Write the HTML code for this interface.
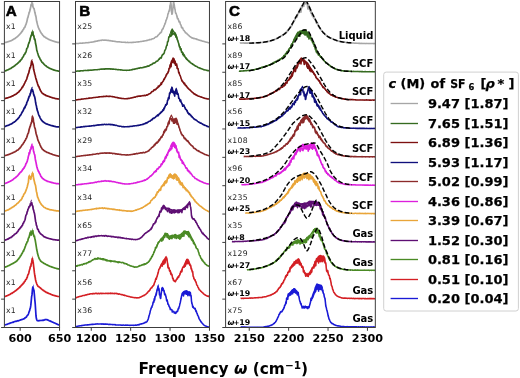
<!DOCTYPE html>
<html><head><meta charset="utf-8"><style>html,body{margin:0;padding:0;background:#fff;width:520px;height:378px;overflow:hidden}svg{display:block}</style></head>
<body><svg width="520" height="378" viewBox="0 0 520 378">
<rect width="520" height="378" fill="#fff"/>
<defs>
<clipPath id="clipA"><rect x="4.40" y="1.50" width="55.16" height="326.00"/></clipPath>
<clipPath id="clipB"><rect x="75.50" y="1.50" width="133.96" height="326.00"/></clipPath>
<clipPath id="clipC"><rect x="225.60" y="1.50" width="149.72" height="326.00"/></clipPath>
</defs>
<g clip-path="url(#clipA)" fill="none" stroke-width="1.7" stroke-linejoin="round" stroke-linecap="butt">
<path fill="#a6a6a6" stroke="none" d="M4.4 42.6l 1-.2 1-.2 1-.3 1-.3 1-.3 1-.4 1-.4 1-.6 1-.6 1-.6 1-.7 1-.8 1-.8 1-.9 1-1.1 1-1.2 1-1.3 1-1.3 1-1.4 1-1.8 1-2.1 1-2.6 1-4 1-4.6 1-4.3 1-4 1-4.7 1-.7 1 4.9 1 3.6 1 4.2 1 5.7 1 4.9 1 3.1 1 2.6 1 2.1 1 1.7 1 1.4 1 1.1 1 .9 1 .7 1 .7 1 .6 1 .6 1 .4 1 .4 1 .4 1 .4 1 .3 1 .4 1 .3 1 .2 1 .3 1 .1 1 .2 .2 0 0 0-.2 0-1-.1-1-.2-1-.2-1-.3-1-.3-1-.3-1-.3-1-.4-1-.4-1-.4-1-.5-1-.5-1-.5-1-.7-1-.8-1-.9-1-1-1-1.4-1-1.4-1-1.9-1-2.5-1-3.2-1-4.9-1-5.4-1-4.2-1-3.7-1-4.2-1 1.5-1 4.6-1 3.5-1 3.6-1 4.2-1 3.8-1 2.7-1 1.9-1 1.7-1 1.6-1 1.4-1 1.2-1 1.1-1 .9-1 .9-1 .8-1 .7-1 .7-1 .7-1 .5-1 .5-1 .5-1 .4-1 .3-1 .3-1 .2-1 .3-1 .1z"/>
<path stroke="#a6a6a6" d="M4.4 42.6l .4-.1 .4 0 .4-.1 .4-.1 .4 0 .4-.2 .4-.1 .4-.1 .4-.1 .4-.2 .4-.1 .4-.1 .4-.1 .4-.2 .4-.2 .4 0 .4-.3 .4-.1 .4-.2 .4-.2 .4-.3 .4-.2 .4-.3 .4-.3 .4-.2 .4-.1 .4-.4 .4-.4 .4-.3 .4-.1 .4-.5 .4-.2 .4-.3 .4-.6 .4-.2 .4-.4 .4-.6 .4-.2 .4-.5 .4-.5 .4-.5 .4-.2 .4-.8 .4-.8 .4 .1 .4-1.2 .4-.4 .4-.4 .4-1.3 .4-.4 .4-.2 .4-1.2 .4-1.1 .4-.7 .4-1.4 .4-1.1 .4-1.9 .4-2 .4-.6 .4-2.1 .4-1.1 .4-1.8 .4-.5 .4-1.7 .4-1.5 .4-2.2 .4-1.9 .4 .3 .4-1.4 .4-.4 .4 3.5 .4 .6 .4 1 .4 .3 .4 1.7 .4 2.1 .4 1.5 .4 1.8 .4 1.1 .4 3.1 .4 2 .4 1.6 .4 1.6 .4 1.3 .4 1.4 .4 .7 .4 1.1 .4 .5 .4 .9 .4 .9 .4 .5 .4 .8 .4 .4 .4 .7 .4 .4 .4 .7 .4 .2 .4 .7 .4 .4 .4 .1 .4 .4 .4 .2 .4 .1 .4 .5 .4 .3 .4 .1 .4 .2 .4 .3 .4 .2 .4 .1 .4 .3 .4 .3 .4 0 .4 .2 .4 .2 .4 .1 .4 .2 .4 .1 .4 .2 .4 .1 .4 .2 .4 .1 .4 .2 .4 .1 .4 .1 .4 .2 .4 0 .4 .2 .4 0 .4 .2 .4 0 .4 .1 .4 .2 .4-.1 .4 .1 .4 .1 .4 .1 .4 0"/>
<path fill="#356b20" stroke="none" d="M4.4 71.2l 1-.4 1-.4 1-.4 1-.5 1-.5 1-.5 1-.6 1-.6 1-.8 1-.7 1-.8 1-.8 1-.9 1-.9 1-1 1-1.1 1-1.2 1-1.5 1-1.7 1-1.9 1-2.1 1-2.4 1-2.8 1-3.1 1-3.5 1-3.8 1-3.8 1-3.3 1 2.9 1 4 1 4.7 1 5.8 1 5.2 1 3.1 1 2.5 1 1.9 1 1.7 1 1.4 1 1.1 1 1 1 .9 1 .8 1 .7 1 .7 1 .5 1 .5 1 .4 1 .4 1 .4 1 .3 1 .3 1 .3 1 .2 1 .2 1 0 .2 .1 0 0-.2 0-1-.1-1-.2-1-.2-1-.2-1-.3-1-.4-1-.3-1-.4-1-.4-1-.5-1-.5-1-.6-1-.7-1-.8-1-.8-1-1-1-1.2-1-1.2-1-1.6-1-2-1-2.5-1-3.1-1-4.4-1-5.3-1-4.5-1-4.2-1-3.5-1 3.9-1 4-1 3.4-1 2.9-1 2.8-1 2.7-1 2.3-1 2.1-1 1.9-1 1.6-1 1.5-1 1.3-1 1.1-1 .9-1 .9-1 .8-1 .8-1 .8-1 .7-1 .7-1 .6-1 .6-1 .5-1 .5-1 .5-1 .4-1 .3-1 .4z"/>
<path stroke="#356b20" d="M4.4 71.1l .4-.1 .4-.1 .4-.2 .4 0 .4-.3 .4-.1 .4-.2 .4-.2 .4-.2 .4-.1 .4-.1 .4-.4 .4-.1 .4-.2 .4-.3 .4-.1 .4-.2 .4-.4 .4-.2 .4-.3 .4-.3 .4-.1 .4-.3 .4-.4 .4-.2 .4-.2 .4-.6 .4-.2 .4-.4 .4-.2 .4-.3 .4-.3 .4-.4 .4-.5 .4-.2 .4-.5 .4-.4 .4-.7 .4 .2 .4-.9 .4-.3 .4-.5 .4-.2 .4-.8 .4-.9 .4-.4 .4-.7 .4-.6 .4-1.2 .4-.4 .4-.2 .4-1.1 .4-.5 .4-.8 .4-1.5 .4-1.8 .4-.5 .4-.4 .4-1.3 .4-2.2 .4-.6 .4-1.1 .4-1.2 .4-1.3 .4-1.9 .4-1.2 .4-1.1 .4-.5 .4-2.7 .4 .2 .4-.9 .4 3.3 .4 .5 .4 1.3 .4 2.4 .4-.5 .4 1.9 .4 3.1 .4 1.4 .4 2.3 .4 3 .4 .9 .4 1.5 .4 1.2 .4 1.5 .4 .8 .4 .9 .4 .5 .4 1.1 .4 .8 .4 .3 .4 1 .4 .6 .4 .8 .4-.1 .4 .6 .4 .4 .4 .5 .4 .5 .4 .3 .4 .4 .4 .4 .4 .3 .4 .1 .4 .5 .4 .3 .4 .4 .4 .2 .4 .1 .4 .3 .4 .3 .4 .2 .4 .3 .4 .1 .4 .1 .4 .2 .4 .2 .4 .1 .4 .2 .4 .2 .4 .1 .4 .2 .4 0 .4 .3 .4 0 .4 .1 .4 .2 .4 .1 .4 .1 .4 .1 .4 .1 .4 .1 .4 0 .4 .1 .4 .1 .4 .1 .4-.1 .4 .1"/>
<path fill="#7d1111" stroke="none" d="M4.4 98.6l 1-.2 1-.2 1-.3 1-.4 1-.3 1-.4 1-.4 1-.5 1-.4 1-.6 1-.6 1-.7 1-.7 1-.9 1-1 1-1.3 1-1.4 1-1.5 1-1.6 1-1.8 1-2.1 1-2.4 1-3 1-3.4 1-4 1-3.2 1-5.6 1-.6 1 6.4 1 5.4 1 4.5 1 4 1 3.4 1 2.7 1 2.4 1 2.2 1 1.8 1 1.1 1 .8 1 .7 1 .5 1 .5 1 .4 1 .4 1 .3 1 .4 1 .4 1 .3 1 .3 1 .2 1 .3 1 .2 1 .1 1 .1 1 .1 .2 0 0 0-.2 0-1 0-1-.1-1-.2-1-.1-1-.3-1-.2-1-.3-1-.4-1-.3-1-.3-1-.4-1-.3-1-.4-1-.5-1-.6-1-.6-1-.8-1-1-1-1.7-1-2.3-1-2.3-1-2.7-1-3.2-1-3.9-1-4.6-1-5.1-1-6.3-1 .9-1 5.3-1 3.1-1 4.1-1 3.2-1 2.8-1 2.3-1 2-1 1.8-1 1.6-1 1.5-1 1.4-1 1.2-1 1-1 .8-1 .7-1 .7-1 .6-1 .5-1 .5-1 .4-1 .4-1 .4-1 .3-1 .3-1 .3-1 .2-1 .2z"/>
<path stroke="#7d1111" d="M4.4 98.7l .4-.1 .4-.2 .4 0 .4-.1 .4-.2 .4 .1 .4-.2 .4-.2 .4-.1 .4-.1 .4-.2 .4-.1 .4-.1 .4-.1 .4-.3 .4-.1 .4 0 .4-.4 .4-.1 .4-.3 .4 0 .4-.2 .4-.2 .4-.4 .4-.1 .4-.4 .4 0 .4-.3 .4-.1 .4-.4 .4-.5 .4 0 .4-.6 .4-.2 .4-.2 .4-.4 .4-.5 .4-.5 .4-.4 .4-.4 .4-.7 .4-.4 .4-.5 .4-.8 .4-.8 .4 0 .4-1.1 .4-.4 .4-.6 .4-1.3 .4-.4 .4-1.4 .4-.1 .4-1.3 .4-.7 .4-.8 .4-1.7 .4-.9 .4-1.6 .4-.9 .4-.9 .4-2 .4-1.5 .4-1.7 .4 .1 .4-2 .4-.9 .4-3.8 .4 .5 .4 1.7 .4 .9 .4 1.3 .4 3.9 .4 1.6 .4 1.5 .4 1.9 .4 1 .4 2.1 .4 1.5 .4 .9 .4 1.8 .4 .8 .4 1.6 .4 1.1 .4 1.2 .4 0 .4 1.4 .4 .8 .4 1 .4 .8 .4 .8 .4 .4 .4 1 .4 .4 .4 .3 .4 .4 .4 .1 .4 .2 .4 .5 .4 .3 .4 .1 .4 .1 .4 .5 .4 0 .4 .3 .4 0 .4 .3 .4 .1 .4 .2 .4 .1 .4 0 .4 .2 .4 .2 .4 .2 .4 .2 .4 0 .4 .1 .4 .2 .4 .1 .4 .2 .4 0 .4 .2 .4 0 .4 .1 .4 .2 .4 .1 .4 .1 .4 .1 .4 .1 .4 0 .4 .1 .4 0 .4 .1 .4 0 .4 .1 .4 0 .4 .1 .4-.1"/>
<path fill="#10107c" stroke="none" d="M4.4 126.6l 1-.3 1-.4 1-.3 1-.5 1-.4 1-.5 1-.5 1-.6 1-.6 1-.7 1-.7 1-.9 1-1 1-1.3 1-1.3 1-1.4 1-1.9 1-2 1-2.1 1-1.9 1-2 1-2.3 1-2.5 1-2.8 1-3.2 1-3.1 1-3.8 1-1.1 1 4.4 1 4.4 1 5 1 5.5 1 4.2 1 3.2 1 2.6 1 2.3 1 1.8 1 1.1 1 .9 1 .7 1 .6 1 .6 1 .4 1 .4 1 .3 1 .3 1 .3 1 .3 1 .3 1 .2 1 .2 1 .2 1 .1 1 .1 1 .1 .2 0 0 0-.2 0-1 0-1-.1-1-.2-1-.1-1-.2-1-.2-1-.3-1-.3-1-.3-1-.3-1-.4-1-.3-1-.4-1-.5-1-.6-1-.8-1-.8-1-1.1-1-1.8-1-2.2-1-2.5-1-3.1-1-4-1-5.2-1-5.2-1-3.9-1-4.1-1 .8-1 3.6-1 2.9-1 2.9-1 3-1 2.6-1 2.2-1 2.1-1 2.2-1 1.9-1 1.8-1 1.4-1 1.5-1 1.4-1 1.1-1 .9-1 .8-1 .8-1 .7-1 .6-1 .6-1 .5-1 .4-1 .5-1 .4-1 .3-1 .4-1 .2z"/>
<path stroke="#10107c" d="M4.4 126.6l .4-.1 .4-.2 .4 0 .4-.2 .4-.2 .4-.1 .4-.2 .4-.1 .4-.1 .4-.2 .4-.1 .4-.1 .4-.4 .4-.1 .4-.2 .4-.1 .4-.3 .4-.2 .4-.2 .4-.1 .4-.4 .4-.4 .4-.2 .4-.1 .4-.4 .4-.4 .4 0 .4-.5 .4-.4 .4-.4 .4-.5 .4-.3 .4-.3 .4-.5 .4-.6 .4-.2 .4-.6 .4-.8 .4-.8 .4-.1 .4-.7 .4-.7 .4-1 .4-.4 .4-1.2 .4 0 .4-1 .4-.8 .4-1.1 .4-.9 .4 .2 .4-1 .4-1.4 .4-.4 .4-.4 .4-2.2 .4-.6 .4-1.1 .4-.5 .4-2 .4-.3 .4-2 .4 .3 .4-1.1 .4-1.8 .4-.5 .4-2.3 .4-1.2 .4 .2 .4-.1 .4 1.9 .4 .4 .4 2.5 .4 1.3 .4 .5 .4 1.4 .4 2 .4 3 .4 2 .4 1.4 .4 2.4 .4 1.8 .4 1 .4 1.1 .4 1.5 .4 1.3 .4 .9 .4 .4 .4 1.3 .4 .7 .4 .7 .4 .6 .4 .7 .4 .3 .4 .6 .4 .3 .4 .4 .4 .1 .4 .4 .4 .4 .4 .2 .4 .2 .4 .2 .4 .4 .4 .1 .4 .2 .4-.1 .4 .3 .4 .2 .4 .1 .4 0 .4 .3 .4 .1 .4 .1 .4 .1 .4 .2 .4 .2 .4-.1 .4 .1 .4 .2 .4 .1 .4 .3 .4-.1 .4 .2 .4 0 .4 .1 .4 .1 .4 .2 .4 0 .4 .1 .4 0 .4 .1 .4 0 .4 .1 .4-.1 .4 .1 .4-.1 .4 0"/>
<path fill="#8c2a2a" stroke="none" d="M4.4 155.6l 1-.2 1-.2 1-.3 1-.4 1-.3 1-.4 1-.4 1-.4 1-.5 1-.5 1-.6 1-.6 1-.7 1-.8 1-1 1-1.1 1-1.3 1-1.4 1-1.5 1-1.7 1-2 1-2.3 1-2.6 1-3.1 1-3.6 1-3.9 1-3.3 1-6.1 1 3.6 1 5.9 1 5 1 4.5 1 3.9 1 3.2 1 2.6 1 2.3 1 2.1 1 1.6 1 .9 1 .8 1 .6 1 .5 1 .5 1 .4 1 .4 1 .4 1 .4 1 .4 1 .3 1 .4 1 .3 1 .2 1 .3 1 .2 1 .1 .2 0 0 .1-.2-.1-1-.1-1-.2-1-.2-1-.3-1-.3-1-.3-1-.4-1-.3-1-.4-1-.4-1-.4-1-.4-1-.4-1-.6-1-.5-1-.8-1-.8-1-1.4-1-2.1-1-2.3-1-2.5-1-2.8-1-3.4-1-4.2-1-4.7-1-5.9-1-3.9-1 5.1-1 3.5-1 3.8-1 3.5-1 3.1-1 2.5-1 2.1-1 1.8-1 1.7-1 1.5-1 1.4-1 1.3-1 1.2-1 .8-1 .7-1 .7-1 .6-1 .6-1 .5-1 .4-1 .5-1 .3-1 .4-1 .4-1 .3-1 .3-1 .2-1 .3z"/>
<path stroke="#8c2a2a" d="M4.4 155.7l .4-.1 .4-.1 .4 0 .4-.2 .4-.1 .4-.1 .4-.2 .4-.1 .4 0 .4-.2 .4-.1 .4-.1 .4-.3 .4-.1 .4-.1 .4-.3 .4-.1 .4-.2 .4-.1 .4-.2 .4-.2 .4-.3 .4-.1 .4-.2 .4-.2 .4 0 .4-.4 .4-.2 .4-.3 .4-.1 .4-.6 .4-.1 .4-.1 .4-.2 .4-.5 .4-.4 .4-.3 .4-.5 .4-.3 .4-.7 .4-.3 .4-.6 .4-.8 .4-.7 .4 0 .4-.7 .4-.5 .4-1 .4-.2 .4-.8 .4-.9 .4-.4 .4-.8 .4-1 .4-.3 .4-1 .4-1.4 .4-1.4 .4-1 .4-.4 .4-1.9 .4-1.9 .4-1.4 .4-1.2 .4-.7 .4-2 .4-.4 .4-1.3 .4-2.5 .4-3.4 .4 1.1 .4 1.2 .4 3.6 .4 1.1 .4 3 .4 1.5 .4 .7 .4 2.3 .4 2.3 .4 1.4 .4 1.3 .4 1.1 .4 1.8 .4 1.6 .4 .6 .4 1 .4 1 .4 .6 .4 1.2 .4 .8 .4 1.2 .4 .5 .4 .6 .4 .8 .4 .5 .4 .4 .4 .2 .4 .6 .4 .2 .4 .2 .4 .2 .4 .4 .4 .2 .4 .2 .4 .2 .4 .2 .4 .3 .4 0 .4 .1 .4 .3 .4 .1 .4 .1 .4 .3 .4 .1 .4 .2 .4 .1 .4 .1 .4 .1 .4 .3 .4 .1 .4 .2 .4 .1 .4 .1 .4 .2 .4 0 .4 .2 .4 .1 .4 .1 .4 .2 .4 0 .4 .1 .4 .1 .4 .1 .4 .1 .4 .1 .4 0 .4 .1 .4 0"/>
<path fill="#dd1fdd" stroke="none" d="M4.4 183.6l 1-.3 1-.3 1-.4 1-.5 1-.4 1-.5 1-.6 1-.7 1-.7 1-.8 1-.8 1-.9 1-1.1 1-1.3 1-1.2 1-1.2 1-1.1 1-1.2 1-1.3 1-1.6 1-1.7 1-2.5 1-3 1-4.3 1-4.4 1-3.4 1-3.6 1-.6 1 4.6 1 4.5 1 5.9 1 5.9 1 3.7 1 2.8 1 2.4 1 2.2 1 1.7 1 1.1 1 .9 1 .7 1 .6 1 .5 1 .4 1 .4 1 .3 1 .3 1 .3 1 .3 1 .3 1 .2 1 .2 1 .1 1 .2 1 0 1 .1 .2 0 0 0-.2 0-1 0-1-.1-1-.1-1-.2-1-.2-1-.2-1-.2-1-.3-1-.3-1-.3-1-.3-1-.4-1-.4-1-.5-1-.6-1-.7-1-.8-1-1.1-1-1.7-1-2.2-1-2.2-1-2.6-1-3.5-1-5.9-1-5.9-1-3.9-1-4-1 1.1-1 3.5-1 2.9-1 3.8-1 4-1 2.8-1 2.1-1 1.8-1 1.5-1 1.3-1 1.2-1 1.3-1 1.2-1 1.2-1 1-1 1-1 .8-1 .9-1 .8-1 .7-1 .6-1 .5-1 .5-1 .5-1 .4-1 .4-1 .3-1 .3z"/>
<path stroke="#dd1fdd" d="M4.4 183.6l .4 0 .4-.2 .4-.2 .4-.1 .4-.1 .4-.2 .4-.1 .4-.2 .4-.2 .4-.2 .4-.1 .4-.2 .4-.2 .4-.2 .4-.1 .4-.4 .4-.1 .4-.3 .4-.2 .4-.4 .4-.2 .4-.2 .4-.6 .4-.1 .4-.5 .4-.2 .4-.2 .4-.3 .4-.5 .4-.3 .4-.4 .4-.4 .4-.1 .4-.8 .4-.1 .4-.9 .4-.2 .4-.5 .4-.6 .4-.6 .4 0 .4-.4 .4-.6 .4-.3 .4-.7 .4-1.2 .4 .2 .4-1 .4 0 .4-1.1 .4-.5 .4-.7 .4-1 .4-1.4 .4-.3 .4-1 .4-.6 .4-2 .4-1.1 .4-2.3 .4-1.2 .4-2.5 .4 1.1 .4-2.1 .4-1.9 .4-.2 .4-.9 .4-1.8 .4 .2 .4-.6 .4 .2 .4 2.1 .4 3 .4 1.2 .4 1.3 .4 1 .4 3.3 .4 2.4 .4 1.6 .4 2.1 .4 2 .4 1.6 .4 1.2 .4 .8 .4 1.3 .4 .2 .4 1.3 .4 .6 .4 .7 .4 .9 .4 1.2 .4 .3 .4 .5 .4 .7 .4 .4 .4 .3 .4 .5 .4-.1 .4 .7 .4 .2 .4 .1 .4 .3 .4 .2 .4 .2 .4 .2 .4 .1 .4 .4 .4 0 .4 .2 .4 0 .4 .1 .4 .3 .4 .1 .4 0 .4 .1 .4 .2 .4 0 .4 .1 .4 .3 .4 0 .4 0 .4 .2 .4 .1 .4 .1 .4 .1 .4 .1 .4 .1 .4 0 .4 .1 .4 .1 .4 .1 .4 0 .4 0 .4 0 .4 0 .4 .1 .4 0 .4 0"/>
<path fill="#e9a539" stroke="none" d="M4.4 211l 1-.2 1-.4 1-.3 1-.5 1-.5 1-.6 1-.6 1-.6 1-.8 1-.8 1-.8 1-.8 1-.9 1-.9 1-1.1 1-1.2 1-1.3 1-1.7 1-2 1-1.9 1-1.9 1-2.1 1-3.3 1-6.3 1-5.8 1 2.5 1-1.3 1-4.1 1 2.9 1 5.4 1 4.8 1 6 1 5.3 1 3.2 1 2.4 1 1.9 1 1.6 1 1.2 1 1 1 .9 1 .6 1 .5 1 .3 1 .4 1 .2 1 .3 1 .2 1 .2 1 .2 1 .1 1 .2 1 .1 1 .2 1 .1 1 0 .2 0 0 .1-.2 0-1-.1-1-.1-1-.1-1-.1-1-.2-1-.1-1-.2-1-.2-1-.2-1-.3-1-.2-1-.4-1-.4-1-.4-1-.6-1-.8-1-1-1-1.2-1-1.3-1-1.7-1-2.3-1-3-1-5-1-5.7-1-4.7-1-5.3-1-2.8-1 3.7-1 .7-1-1.9-1 5.6-1 5.8-1 3.1-1 2.1-1 1.7-1 2-1 2-1 1.8-1 1.4-1 1-1 .9-1 .9-1 .8-1 .9-1 .8-1 .7-1 .7-1 .7-1 .6-1 .6-1 .4-1 .5-1 .3-1 .3-1 .3z"/>
<path stroke="#e9a539" d="M4.4 211l .4 .1 .4-.2 .4-.2 .4-.1 .4-.1 .4-.2 .4-.1 .4-.2 .4 0 .4-.3 .4-.1 .4-.3 .4-.2 .4-.3 .4-.3 .4-.1 .4-.4 .4-.2 .4-.3 .4-.3 .4-.1 .4-.3 .4-.4 .4 0 .4-.5 .4-.3 .4-.3 .4-.1 .4-.5 .4-.4 .4-.5 .4-.4 .4-.2 .4-.3 .4-.2 .4-.7 .4-.2 .4-.6 .4-.7 .4-.1 .4-.1 .4-.7 .4-.4 .4-.7 .4-1.5 .4-.4 .4-.2 .4-1.5 .4-1 .4-.2 .4-.5 .4-.9 .4-.9 .4-1 .4-1.1 .4-1.1 .4-1.2 .4-1.7 .4-1.7 .4-1.2 .4-5.3 .4-1.2 .4 1.1 .4-.1 .4 1.7 .4 .7 .4-2.3 .4-.9 .4-1.1 .4-1.7 .4 0 .4 1.9 .4 3.7 .4 1.1 .4 1.5 .4 2 .4 1 .4 1.3 .4 2.9 .4 2.7 .4 1.3 .4 2.6 .4 1.7 .4 .8 .4 1 .4 1.3 .4 .5 .4 1.1 .4 .8 .4 .5 .4 .5 .4 .8 .4 .4 .4 .5 .4 .2 .4 .7 .4 .2 .4 .5 .4 .4 .4 .2 .4 .2 .4 .2 .4 .3 .4 .3 .4 .2 .4 0 .4 .2 .4 0 .4 .3 .4 0 .4 .1 .4 .2 .4 .3 .4 0 .4 .1 .4-.1 .4 .3 .4-.1 .4 .1 .4 0 .4 .1 .4 .2 .4 .1 .4 0 .4 .1 .4 .1 .4 0 .4 0 .4 .2 .4 0 .4 .1 .4 0 .4 0 .4 .1 .4-.1 .4 .2 .4-.1 .4 .1"/>
<path fill="#5e0f73" stroke="none" d="M4.4 240.2l 1-.3 1-.3 1-.4 1-.5 1-.5 1-.6 1-.6 1-.8 1-.8 1-.8 1-1 1-1 1-1.2 1-1.2 1-1.2 1-1.3 1-1.5 1-1.6 1-1.9 1-2.3 1-3.3 1-3.6 1-3.5 1-3 1-2.8 1-2.8 1-2.1 1 3.7 1 3.9 1 5.3 1 7.2 1 5 1 3.6 1 2.3 1 1.7 1 1.3 1 1 1 .9 1 .8 1 .6 1 .6 1 .4 1 .4 1 .3 1 .3 1 .3 1 .2 1 .2 1 .2 1 .2 1 .2 1 .1 1 .1 1 .1 1 0 .2 0 0 0-.2 .1-1-.1-1 0-1-.1-1-.2-1-.1-1-.2-1-.2-1-.2-1-.3-1-.3-1-.2-1-.3-1-.3-1-.4-1-.6-1-.7-1-.7-1-.9-1-1-1-1.2-1-1.7-1-2.3-1-3.5-1-4.7-1-6.7-1-5.4-1-3.9-1-3.3-1 2.2-1 2.6-1 2.4-1 3-1 3.6-1 3.2-1 3.1-1 2.3-1 1.8-1 1.6-1 1.5-1 1.4-1 1.3-1 1.1-1 .9-1 1-1 .9-1 .9-1 .8-1 .7-1 .7-1 .5-1 .5-1 .5-1 .4-1 .3-1 .3z"/>
<path stroke="#5e0f73" d="M4.4 240.2l .4 0 .4-.2 .4-.1 .4-.1 .4-.1 .4-.2 .4-.3 .4-.2 .4 .1 .4-.5 .4 0 .4-.3 .4-.3 .4-.2 .4-.1 .4-.1 .4-.5 .4-.1 .4-.2 .4-.7 .4-.2 .4-.4 .4 0 .4-.7 .4-.4 .4-.3 .4-.2 .4-.2 .4-.5 .4-.1 .4-.5 .4-.7 .4-.2 .4-.6 .4-.5 .4-.9 .4-.4 .4-.2 .4-.9 .4 0 .4-.7 .4-.9 .4 0 .4-.9 .4-.3 .4-1.2 .4-1.2 .4 0 .4-1.2 .4-.5 .4-1 .4-1.1 .4-2.6 .4-1.5 .4-.6 .4-.7 .4-2.1 .4-.6 .4-1.8 .4-.7 .4-.9 .4-1.1 .4 0 .4-1 .4 0 .4-2 .4 .1 .4-1 .4 1.8 .4 .8 .4 1.2 .4 2.6 .4 1 .4 1.8 .4 1.3 .4 2.2 .4 3.1 .4 2.9 .4 1.2 .4 2.7 .4 .6 .4 2 .4 1.3 .4 0 .4 .9 .4 1.3 .4 .4 .4 .7 .4 .5 .4 .7 .4 .2 .4 .3 .4 .4 .4 .2 .4 .5 .4 .1 .4 .6 .4 .2 .4 .5 .4 .2 .4-.1 .4 .5 .4 0 .4 .3 .4 .2 .4 .1 .4 .1 .4 .1 .4 .1 .4 .1 .4 .2 .4 .1 .4 .1 .4 .1 .4 0 .4 .1 .4 .1 .4 .2 .4 .1 .4 .1 .4 .1 .4 .1 .4 0 .4 .1 .4 0 .4 .1 .4 .1 .4 .1 .4-.1 .4 .1 .4 0 .4 .1 .4 0 .4 .1 .4 0 .4-.1 .4 .2 .4-.1"/>
<path fill="#4a8a25" stroke="none" d="M4.4 267.3l 1-.3 1-.4 1-.5 1-.5 1-.4 1-.5 1-.5 1-.5 1-.6 1-.6 1-.7 1-.8 1-1 1-1.2 1-1.3 1-1.5 1-1.8 1-1.8 1-2.1 1-2.5 1-2.9 1-2.6 1-2.1 1-2.5 1-4 1-3.9 1 2.2 1-4.1 1 3.3 1 4.1 1 4.2 1 7.4 1 5.7 1 3.7 1 2.3 1 1.7 1 1.1 1 .8 1 .7 1 .5 1 .6 1 .5 1 .5 1 .5 1 .5 1 .4 1 .3 1 .4 1 .4 1 .3 1 .3 1 .3 1 .3 1 .2 1 .2 .2 .1 0 0-.2 0-1-.2-1-.3-1-.2-1-.3-1-.3-1-.4-1-.3-1-.3-1-.4-1-.4-1-.4-1-.5-1-.5-1-.5-1-.6-1-.6-1-.5-1-.8-1-1.1-1-1.6-1-2.2-1-3.8-1-5.5-1-7.4-1-3.9-1-4.1-1-3.1-1 4.1-1-1.8-1 3.5-1 3.8-1 2.6-1 2.2-1 2.5-1 2.6-1 2.4-1 2.1-1 1.8-1 1.6-1 1.4-1 1.3-1 1.1-1 1-1 .8-1 .7-1 .6-1 .6-1 .5-1 .5-1 .5-1 .4-1 .5-1 .4-1 .4-1 .3z"/>
<path stroke="#4a8a25" d="M4.4 267.4l .4-.2 .4-.1 .4-.3 .4 0 .4-.1 .4-.2 .4-.3 .4-.1 .4-.2 .4-.1 .4-.2 .4-.1 .4-.2 .4-.4 .4-.1 .4-.3 .4-.2 .4-.2 .4-.1 .4-.4 .4-.1 .4-.1 .4-.4 .4-.2 .4-.1 .4-.4 .4-.2 .4-.1 .4-.5 .4-.3 .4-.3 .4-.2 .4-.7 .4-.5 .4-.5 .4-.3 .4-.9 .4-.1 .4-.8 .4-1 .4 0 .4-.7 .4-1.2 .4-.3 .4-.7 .4-1 .4-1.1 .4 .2 .4-1.3 .4-.9 .4-1 .4-1.1 .4-1 .4-1.6 .4-.2 .4-1.3 .4-1 .4-.1 .4-1.4 .4-2 .4-.4 .4-.8 .4-2 .4-1.5 .4-1.1 .4 .7 .4 2 .4-1.2 .4-2.7 .4 0 .4-.5 .4 2.6 .4 1.9 .4 1.2 .4-.5 .4 2.6 .4 1.5 .4 2.3 .4 2.5 .4 2.5 .4 2.8 .4 1.3 .4 2.4 .4 1.2 .4 1.5 .4 .9 .4 1.3 .4 .5 .4 .7 .4 .6 .4 .8 .4 0 .4 .5 .4 .3 .4 .3 .4 .2 .4 .2 .4 .4 .4 .2 .4 .1 .4 .2 .4 .3 .4 .3 .4 .2 .4 .1 .4 .1 .4 .4 .4 0 .4 .3 .4 .3 .4 0 .4 .4 .4 .2 .4 .1 .4 .1 .4 .1 .4 .2 .4 .1 .4 .3 .4-.1 .4 .3 .4 .1 .4 .1 .4 .2 .4 .1 .4 .1 .4 .1 .4 .1 .4 .1 .4 .2 .4 .1 .4 .1 .4 0 .4 .2 .4 0 .4 .1 .4 .1 .4 .1"/>
<path fill="#d41f24" stroke="none" d="M4.4 296.6l 1-.3 1-.4 1-.4 1-.4 1-.5 1-.5 1-.6 1-.7 1-.7 1-.7 1-.8 1-.8 1-.8 1-.8 1-.9 1-1.1 1-1 1-1.2 1-1.2 1-1.2 1-1.4 1-1.8 1-2.4 1-3 1-3.9 1-4.4 1-3.8 1-5.3 1 6.3 1 8.7 1 7.5 1 4.7 1 2.3 1 1.1 1 .9 1 .8 1 .9 1 .8 1 .7 1 .7 1 .7 1 .6 1 .4 1 .5 1 .4 1 .5 1 .4 1 .4 1 .3 1 .4 1 .3 1 .2 1 .2 1 .2 1 .1 .2 0 0 .1-.2 0-1-.2-1-.1-1-.2-1-.3-1-.3-1-.3-1-.3-1-.4-1-.4-1-.4-1-.4-1-.5-1-.5-1-.5-1-.6-1-.7-1-.8-1-.8-1-.8-1-.7-1-.8-1-1.2-1-2.3-1-4.4-1-6.9-1-8.3-1-6.7-1 5.4-1 3.9-1 4-1 3.7-1 2.9-1 2.1-1 1.7-1 1.5-1 1.4-1 1.2-1 1.1-1 .9-1 .9-1 .9-1 .8-1 .9-1 .7-1 .8-1 .7-1 .7-1 .5-1 .6-1 .5-1 .5-1 .4-1 .4-1 .4-1 .3z"/>
<path stroke="#d41f24" d="M4.4 296.7l .4-.2 .4-.2 .4 0 .4-.1 .4-.3 .4-.1 .4-.1 .4-.2 .4-.1 .4-.3 .4-.2 .4-.2 .4-.2 .4 0 .4-.4 .4-.3 .4-.2 .4-.3 .4 0 .4-.3 .4-.4 .4-.1 .4-.2 .4-.6 .4-.1 .4-.3 .4-.2 .4-.3 .4-.3 .4-.4 .4-.5 .4 .1 .4-.8 .4 0 .4-.4 .4-.6 .4-.2 .4-.1 .4-1 .4 .1 .4-.6 .4-.4 .4-.7 .4 0 .4-.8 .4 0 .4-1 .4 .1 .4-.7 .4-1.1 .4-.1 .4-.5 .4-1.2 .4-.2 .4-.3 .4-1.4 .4-.1 .4-2 .4-1.1 .4-.3 .4-1.3 .4-1.9 .4-1.5 .4-.9 .4-2.4 .4 .3 .4-2.3 .4-1.6 .4-2.4 .4-1.9 .4 2.7 .4 1.3 .4 3.5 .4 3.3 .4 3.5 .4 2.8 .4 2 .4 2.5 .4 1.5 .4 1.3 .4 1.3 .4 .6 .4 1 .4 .7 .4-.1 .4 .5 .4 .2 .4 .5 .4 .1 .4 .3 .4 .4 .4 .4 .4 .3 .4 .4 .4 .3 .4 .2 .4 .5 .4 0 .4 .5 .4 .1 .4 .4 .4 .3 .4 0 .4 .5 .4 .3 .4 .1 .4 .2 .4-.1 .4 .4 .4 .1 .4 .3 .4 .1 .4 .1 .4 .1 .4 .4 .4 0 .4 .2 .4 .3 .4 .1 .4 .1 .4 .3 .4 0 .4 .1 .4 .2 .4 .2 .4-.1 .4 .2 .4 .1 .4 .1 .4 .2 .4 0 .4 .1 .4 .1 .4 .1 .4 0 .4 0 .4 .1 .4 0"/>
<path fill="#1a1ad6" stroke="none" d="M4.4 325.2l 1-.4 1-.4 1-.4 1-.3 1-.3 1-.4 1-.3 1-.3 1-.3 1-.4 1-.3 1-.3 1-.2 1-.3 1-.3 1-.4 1-.4 1-.4 1-.4 1-.5 1-.7 1-.8 1-1.3 1-1.9 1-2.5 1-4 1-9 1-10.1 1-4 1 8.7 1 13.4 1 12.6 1 2 1 0 1 0 1-.1 1-.1 1-.1 1-.2 1-.3 1-.2 1-.2 1 .1 1 .6 1 .5 1 .4 1 .5 1 .5 1 .5 1 .4 1 .5 1 .4 1 .4 1 .4 1 .5 .2 .1 0 0-.2 0-1-.5-1-.4-1-.4-1-.5-1-.4-1-.4-1-.5-1-.4-1-.5-1-.4-1-.5-1-.5-1-.2-1 .1-1 .3-1 .3-1 .3-1 .1-1 0-1 0-1 .1-1 0-1-1.8-1-12.2-1-13-1-7.5-1 3.5-1 8.9-1 9.1-1 3.7-1 2.4-1 1.7-1 1.4-1 .8-1 .6-1 .6-1 .4-1 .4-1 .3-1 .3-1 .3-1 .3-1 .3-1 .3-1 .2-1 .3-1 .4-1 .3-1 .3-1 .3-1 .4-1 .4-1 .3-1 .4-1 .3z"/>
<path stroke="#1a1ad6" d="M4.4 325.3l .4-.2 .4-.3 .4-.1 .4-.1 .4-.1 .4-.1 .4-.2 .4-.1 .4-.2 .4-.1 .4-.1 .4-.3 .4 0 .4-.2 .4-.2 .4-.1 .4-.1 .4-.1 .4-.1 .4-.3 .4-.1 .4 .1 .4-.3 .4-.2 .4-.1 .4-.2 .4-.1 .4 .1 .4-.2 .4 0 .4-.2 .4-.1 .4-.3 .4 .1 .4 .1 .4-.3 .4-.2 .4 0 .4-.1 .4-.2 .4-.3 .4 0 .4-.1 .4-.4 .4 .1 .4-.2 .4-.1 .4-.2 .4-.4 .4 .1 .4-.5 .4-.4 .4-.1 .4-.4 .4-.1 .4-.9 .4-.6 .4-.4 .4-.3 .4-.9 .4-1.3 .4-1.2 .4-.8 .4-1.8 .4-1 .4-2.5 .4-4.1 .4-4.5 .4-1.9 .4-5 .4-2.8 .4 1 .4 1.3 .4 1.3 .4 4.2 .4 4.7 .4 4 .4 6 .4 6.4 .4 2.6 .4 1.3 .4 .7 .4 .1 .4 .1 .4 0 .4-.2 .4 .1 .4 0 .4-.3 .4 .1 .4 0 .4 0 .4 0 .4-.2 .4 .2 .4-.3 .4 .2 .4-.2 .4 0 .4-.2 .4-.2 .4-.3 .4 .2 .4-.1 .4 0 .4 0 .4 .2 .4 0 .4 .4 .4 0 .4 .2 .4 .3 .4 .2 .4 .2 .4-.2 .4 .6 .4-.1 .4 .2 .4 .3 .4 .3 .4 0 .4 .1 .4 .4 .4 .1 .4 .1 .4 .2 .4 .1 .4 .3 .4 .1 .4 .3 .4 0 .4 .3 .4 .3 .4 0 .4 .2 .4 .1 .4 .3 .4 .1"/>
</g>
<g clip-path="url(#clipB)" fill="none" stroke-width="1.55" stroke-linejoin="round" stroke-linecap="butt">
<path fill="#a6a6a6" stroke="none" d="M75.5 43.5l 1-.1 1 0 1-.1 1 0 1-.1 1-.1 1 0 1-.1 1-.1 1-.1 1-.1 1-.1 1-.1 1-.1 1-.2 1-.1 1-.2 1-.2 1-.2 1-.3 1-.2 1-.1 1-.2 1-.2 1-.2 1-.1 1-.1 1-.1 1 0 1 0 1 .1 1 .2 1 .1 1 .1 1 .2 1 .2 1 .2 1 .1 1 .2 1 .1 1 .1 1 .1 1 .1 1 .1 1 .1 1 .1 1 0 1 .1 1 .1 1 .1 1 0 1 0 1 .1 1 0 1 0 1-.1 1 0 1-.1 1 0 1-.1 1-.1 1-.2 1-.1 1-.1 1-.1 1-.2 1-.1 1-.2 1-.1 1-.2 1-.3 1-.3 1-.2 1-.3 1-.3 1-.4 1-.4 1-.4 1-.5 1-.5 1-.7 1-.8 1-.9 1-1.2 1-1.1 1-1.4 1-2.2 1-2.5 1-2.7 1-2.8 1-3 1-3.3 1-3.5 1-4.6 1-6.9 1 7.5 1 2.3 1-10.4 1 4.4 1 6.4 1 3.5 1 2.6 1 2.4 1 2.8 1 2.6 1 2.2 1 1.9 1 1.6 1 1.4 1 1.2 1 1.2 1 1.2 1 .9 1 .8 1 .7 1 .4 1 .5 1 .4 1 .4 1 .3 1 .3 1 .4 1 .2 1 .3 1 .3 1 .4 1 .3 1 .3 1 .3 1 .3 1 .3 1 .3 1 .2 1 .3 0 0-1-.2-1-.3-1-.3-1-.2-1-.3-1-.3-1-.3-1-.3-1-.3-1-.3-1-.3-1-.3-1-.3-1-.3-1-.3-1-.3-1-.4-1-.4-1-.6-1-.6-1-.8-1-.9-1-.9-1-1.2-1-1.3-1-1.2-1-1.7-1-1.8-1-2-1-1.9-1-1.9-1-2.6-1-2.9-1-3.3-1-6-1-4.2-1 9.6-1-2.6-1-6.5-1 6-1 4.1-1 4-1 3.8-1 3.2-1 2.6-1 2.1-1 2-1 1.5-1 1.5-1 1.2-1 .8-1 .9-1 .8-1 .7-1 .6-1 .5-1 .4-1 .3-1 .3-1 .4-1 .3-1 .2-1 .2-1 .2-1 .2-1 .1-1 .2-1 .1-1 .1-1 .2-1 .1-1 .1-1 .1-1 .1-1 .1-1 .1-1 0-1 .1-1 0-1 0-1 0-1 0-1-.1-1 0-1-.1-1 0-1-.1-1-.1-1-.1-1-.1-1 0-1-.1-1-.1-1-.1-1-.1-1-.2-1-.1-1-.2-1-.2-1-.1-1-.2-1-.1-1-.1-1-.1-1 0-1 0-1 .1-1 .1-1 .1-1 .1-1 .2-1 .2-1 .2-1 .2-1 .2-1 .2-1 .2-1 .1-1 .2-1 .1-1 .1-1 .1-1 .1-1 .1-1 .1-1 .1-1 .1-1 .1-1 0-1 .1-1 .1-1 0-1 .1-1 0z"/>
<path stroke="#a6a6a6" d="M75.5 43.5l .4 0 .4-.1 .4 .1 .4-.1 .4 0 .4 0 .4 0 .4 0 .4-.1 .4 0 .4-.1 .4 .1 .4-.2 .4 .1 .4 0 .4 0 .4-.1 .4 0 .4 0 .4-.1 .4 0 .4 0 .4-.1 .4 0 .4-.1 .4-.2 .4 .1 .4 0 .4 .1 .4-.1 .4 0 .4-.2 .4 .1 .4-.1 .4 0 .4-.1 .4-.2 .4 .1 .4-.1 .4 0 .4-.2 .4 .1 .4-.1 .4-.1 .4 0 .4-.3 .4-.2 .4 .2 .4-.3 .4 0 .4 .1 .4-.2 .4-.1 .4 0 .4-.4 .4 .3 .4-.3 .4-.1 .4 .1 .4-.2 .4-.1 .4 0 .4-.1 .4-.1 .4 .3 .4-.5 .4 0 .4 0 .4 0 .4 .3 .4-.2 .4 .1 .4 0 .4-.2 .4 .2 .4 0 .4 .2 .4-.2 .4 .1 .4 .1 .4 .1 .4-.3 .4 .4 .4 .1 .4 0 .4-.2 .4 0 .4 .3 .4 .2 .4 0 .4-.1 .4 .3 .4-.2 .4 .1 .4 .2 .4 0 .4 0 .4 0 .4 .3 .4-.2 .4 .2 .4 .1 .4 0 .4 0 .4 .1 .4 .1 .4 0 .4-.2 .4 0 .4 .2 .4 0 .4 .1 .4 0 .4 0 .4 .2 .4 0 .4 0 .4 0 .4 .1 .4-.1 .4 .1 .4-.1 .4 .1 .4 .1 .4 0 .4 0 .4 .1 .4 0 .4-.1 .4 0 .4 0 .4 .2 .4-.1 .4 0 .4 0 .4 0 .4 0 .4-.1 .4 .1 .4 .1 .4-.3 .4 .1 .4 .1 .4-.2 .4 .1 .4-.2 .4 .1 .4 0 .4 0 .4 0 .4-.2 .4 0 .4 0 .4 0 .4 0 .4-.2 .4 .1 .4-.2 .4-.1 .4 0 .4 0 .4-.1 .4 0 .4 0 .4-.1 .4 0 .4-.3 .4 .1 .4-.2 .4 .1 .4-.1 .4 0 .4-.2 .4-.1 .4 0 .4 0 .4 0 .4-.4 .4 .1 .4-.1 .4-.3 .4-.1 .4 0 .4 0 .4-.4 .4 .1 .4-.2 .4 0 .4 0 .4-.1 .4-.4 .4-.2 .4 0 .4 0 .4-.2 .4-.3 .4 0 .4-.7 .4-.2 .4-.4 .4-.1 .4 .1 .4-.3 .4 0 .4-.7 .4-.4 .4-.7 .4-.3 .4-.4 .4-.3 .4-.6 .4-.7 .4 .4 .4-.8 .4-.2 .4-2 .4-.6 .4-.6 .4 .1 .4-1.6 .4-.7 .4-1.1 .4-.8 .4-1.5 .4-.4 .4-2.1 .4-.8 .4-.8 .4-1.4 .4-1 .4-2.7 .4-.2 .4-2.1 .4-.7 .4-.1 .4-5.1 .4 .3 .4-4.4 .4 2.7 .4 7.2 .4 2.7 .4-.5 .4-3.3 .4-3.7 .4-5.2 .4 2.4 .4 .9 .4 3.5 .4 1.4 .4 3.1 .4 .5 .4 .5 .4 1.7 .4 1.6 .4 1.5 .4-.2 .4 .8 .4 1.4 .4 1.3 .4-.2 .4 0 .4 2.4 .4 .4 .4 .8 .4 2.1 .4-.4 .4 1.2 .4-.4 .4 1.4 .4 .9 .4 .2 .4 .4 .4 .8 .4 .3 .4 1 .4 0 .4 .2 .4 .1 .4 .8 .4 .5 .4 .1 .4 .5 .4 .1 .4 .5 .4 .6 .4 .2 .4 .3 .4 .2 .4 .2 .4 .4 .4 .4 .4-.1 .4 .4 .4-.2 .4 .2 .4 .4 .4-.3 .4 .1 .4 .3 .4-.1 .4 .1 .4 .6 .4-.3 .4 .2 .4 .2 .4 0 .4 .4 .4 .1 .4 .1 .4 .1 .4 .1 .4 .2 .4 .1 .4-.1 .4 .2 .4 .1 .4 .4 .4 0 .4 .1 .4 0 .4 .2 .4 0 .4 .2 .4 .1 .4 .1 .4 .1 .4 .2 .4 0 .4 .1 .4 .2 .4 .1 .4 .1 .4 0 .4 .1 .4 .2"/>
<path fill="#356b20" stroke="none" d="M75.5 71.2l 1 0 1-.1 1-.1 1 0 1-.1 1-.1 1 0 1-.1 1-.1 1-.1 1 0 1-.1 1-.1 1 0 1-.1 1-.1 1-.1 1-.1 1-.1 1-.1 1-.1 1-.1 1-.1 1-.1 1-.1 1-.1 1-.1 1-.1 1 0 1-.1 1 0 1 0 1 0 1 0 1 0 1 .1 1 .1 1 .1 1 .1 1 .1 1 .1 1 .1 1 .1 1 .1 1 .1 1 .1 1 .1 1 .1 1 .1 1 0 1 0 1 0 1-.1 1-.1 1-.1 1-.1 1-.2 1-.2 1-.3 1-.2 1-.2 1-.3 1-.3 1-.2 1-.1 1-.2 1-.2 1-.2 1-.2 1-.2 1-.3 1-.4 1-.3 1-.5 1-.5 1-.6 1-.6 1-.6 1-.6 1-.6 1-.7 1-.8 1-.9 1-.9 1-1.1 1-1.2 1-1.3 1-1.5 1-2.2 1-2.8 1-3.2 1-3.3 1-3.9 1-4 1-2.7 1-2.5 1-.5 1 1.6 1 1.6 1 .9 1 1.6 1 3.4 1 3.9 1 3.4 1 2.5 1 2.5 1 2.3 1 1.9 1 1.6 1 1.6 1 1.3 1 1 1 1 1 1 1 .8 1 .8 1 .8 1 .7 1 .7 1 .6 1 .6 1 .5 1 .5 1 .5 1 .5 1 .3 1 .4 1 .3 1 .3 1 .3 1 .2 1 .3 1 .2 1 .1 0 .1-1-.2-1-.2-1-.2-1-.2-1-.3-1-.3-1-.3-1-.3-1-.4-1-.3-1-.4-1-.5-1-.5-1-.6-1-.6-1-.7-1-.7-1-.7-1-.7-1-.9-1-.9-1-.9-1-1.1-1-1.1-1-1.2-1-1.6-1-1.8-1-1.9-1-2.1-1-2.4-1-3.2-1-3.7-1-2.6-1-1.1-1-1.2-1-2.6-1-1.5-1 1.1-1 1.8-1 2.4-1 3.5-1 3.7-1 3-1 2.9-1 2.6-1 2.2-1 1.4-1 1.3-1 1.1-1 1-1 1-1 .7-1 .8-1 .7-1 .7-1 .6-1 .6-1 .6-1 .4-1 .5-1 .4-1 .4-1 .3-1 .3-1 .2-1 .2-1 .2-1 .2-1 .2-1 .2-1 .2-1 .2-1 .2-1 .2-1 .2-1 .3-1 .2-1 .2-1 .1-1 .2-1 .1-1 0-1 0-1 0-1-.1-1 0-1-.1-1-.1-1-.1-1-.1-1-.1-1-.1-1-.1-1-.1-1-.1-1-.1-1-.1-1 0-1-.1-1-.1-1 0-1 .1-1 0-1 0-1 .1-1 0-1 .1-1 .1-1 0-1 .1-1 .1-1 .1-1 .1-1 .1-1 .1-1 .2-1 0-1 .1-1 .1-1 0-1 .1-1 .1-1 0-1 .1-1 .1-1 .1-1 0-1 .1-1 0-1 .1-1 .1-1 0-1 .1-1 .1z"/>
<path stroke="#356b20" d="M75.5 71.2l .4 .1 .4 0 .4-.1 .4-.1 .4-.1 .4 .1 .4 0 .4-.1 .4 .1 .4 0 .4-.3 .4 .1 .4 0 .4-.1 .4-.1 .4 .1 .4-.1 .4 .2 .4 0 .4-.3 .4 0 .4 0 .4 0 .4 0 .4 0 .4-.2 .4 .1 .4 0 .4-.1 .4 0 .4 0 .4-.1 .4 .2 .4-.2 .4-.2 .4 .2 .4-.1 .4-.1 .4 0 .4 0 .4 .2 .4-.3 .4 .1 .4 0 .4-.2 .4 .1 .4-.2 .4-.1 .4 0 .4 0 .4 .1 .4-.1 .4 0 .4 0 .4 0 .4-.1 .4-.1 .4 0 .4 .1 .4-.1 .4-.2 .4 0 .4-.2 .4 0 .4 .1 .4-.1 .4 .2 .4-.4 .4 0 .4 .2 .4 0 .4-.2 .4 .3 .4-.2 .4-.2 .4 .1 .4 .1 .4-.2 .4 .2 .4-.2 .4 .1 .4 .1 .4-.2 .4 .2 .4-.3 .4 .3 .4-.3 .4 .4 .4-.2 .4 .2 .4 .1 .4-.2 .4 0 .4 .2 .4-.2 .4 .3 .4-.1 .4 0 .4 0 .4 .3 .4-.3 .4 .2 .4 .1 .4 .1 .4 .1 .4 0 .4-.1 .4 .1 .4 .1 .4 0 .4-.1 .4 .2 .4 .1 .4-.2 .4 .1 .4 .1 .4 .1 .4 .1 .4 0 .4 0 .4 0 .4 0 .4 0 .4 0 .4 0 .4 .1 .4 .1 .4-.1 .4 0 .4 0 .4 0 .4 0 .4 0 .4-.1 .4-.1 .4 0 .4-.1 .4 0 .4 0 .4-.2 .4-.2 .4 .1 .4-.2 .4-.2 .4-.1 .4 .2 .4-.4 .4 .1 .4 0 .4-.1 .4-.2 .4 0 .4-.1 .4-.3 .4 .2 .4-.1 .4-.3 .4-.1 .4-.1 .4 .2 .4-.4 .4 0 .4-.2 .4 .4 .4-.3 .4 0 .4 .1 .4-.2 .4-.4 .4 .2 .4 0 .4-.4 .4-.1 .4-.1 .4 .2 .4-.2 .4-.3 .4 .2 .4-.1 .4-.5 .4-.3 .4 .4 .4 0 .4-.2 .4-.3 .4-.4 .4-.4 .4 0 .4-.1 .4-.4 .4 .1 .4-.5 .4 0 .4-1 .4 .1 .4 .2 .4-.2 .4-.4 .4 .1 .4-.5 .4-.3 .4-.8 .4 .1 .4-.1 .4-.1 .4-.4 .4-.7 .4-.3 .4-1 .4 .4 .4-1.1 .4-.1 .4-.3 .4 .5 .4-.8 .4-1.5 .4-.9 .4 .1 .4-.9 .4 .1 .4-.7 .4-.7 .4-2.1 .4-.6 .4-.6 .4-1 .4-2 .4-1 .4 0 .4-3.8 .4 .2 .4-1.1 .4-3.3 .4-.9 .4 .3 .4-1.9 .4 1.5 .4-1.4 .4 1 .4-5.2 .4 4.2 .4-4.1 .4 2.5 .4 .7 .4-.5 .4 .1 .4 .2 .4-1.2 .4 2.4 .4-.4 .4 2.4 .4-1.3 .4 1.6 .4 1.8 .4 .7 .4 1.3 .4 1.1 .4 1.2 .4 2.2 .4 1.3 .4-.5 .4 3.1 .4-.1 .4-.8 .4 3.4 .4 0 .4-.2 .4 2.3 .4-1.4 .4 2.9 .4-1.3 .4 .6 .4 1 .4 1.1 .4 .2 .4 1.1 .4-.4 .4 1.3 .4 .1 .4-.1 .4 1.2 .4 .1 .4 .2 .4 .9 .4-.5 .4 .6 .4 .9 .4-.1 .4 .5 .4 .3 .4 .1 .4 .5 .4-.2 .4 .7 .4-.1 .4 .5 .4 0 .4 .6 .4 .3 .4 .3 .4-.1 .4 .2 .4 .1 .4 .3 .4 .4 .4 .3 .4 .1 .4 .2 .4 0 .4 .2 .4 .4 .4 .2 .4-.2 .4 .3 .4 .2 .4 0 .4 .3 .4 .1 .4 .2 .4 .3 .4-.2 .4 .3 .4 .1 .4 .1 .4 0 .4 .1 .4 .1 .4 .3 .4-.1 .4 .2 .4 0 .4 0 .4 .1 .4 0 .4 .1"/>
<path fill="#7d1111" stroke="none" d="M75.5 100l 1-.1 1-.2 1-.1 1-.2 1-.1 1-.1 1-.2 1-.1 1-.1 1-.2 1-.1 1-.1 1-.1 1-.2 1-.1 1-.1 1-.1 1-.2 1-.1 1-.1 1-.2 1-.1 1-.1 1-.2 1-.1 1-.1 1-.1 1-.1 1 0 1-.1 1-.1 1 0 1-.1 1 .1 1 .1 1 .1 1 .2 1 .2 1 .2 1 .2 1 .2 1 .2 1 .3 1 .2 1 .2 1 .1 1 .1 1 .1 1 .1 1 0 1-.1 1-.1 1-.2 1-.1 1-.2 1-.2 1-.2 1-.3 1-.2 1-.2 1-.3 1-.2 1-.2 1-.2 1-.1 1-.1 1-.1 1-.1 1-.2 1-.2 1-.1 1-.4 1-.6 1-.7 1-.7 1-.8 1-.7 1-.7 1-.8 1-.9 1-.8 1-.9 1-.9 1-.9 1-1.4 1-1.3 1-1.3 1-1.7 1-1.9 1-1.9 1-2 1-2.1 1-3.2 1-3.6 1-2.3 1-2.6 1-2.5 1-.3 1 1.7 1 1.5 1 3 1 2.5 1 2.9 1 4 1 3.5 1 2.4 1 1.9 1 1.6 1 1.4 1 1 1 1.1 1 1.3 1 1.3 1 1 1 1 1 1 1 1 1 .7 1 .7 1 .6 1 .6 1 .5 1 .5 1 .4 1 .4 1 .4 1 .4 1 .3 1 .4 1 .2 1 .3 1 .2 1 .1 1 .1 0 0-1 0-1-.2-1-.1-1-.3-1-.3-1-.2-1-.4-1-.3-1-.4-1-.3-1-.4-1-.5-1-.5-1-.6-1-.6-1-.7-1-.8-1-.8-1-.8-1-1-1-1-1-.9-1-1-1-1.2-1-1.4-1-1.4-1-1.6-1-1.6-1-2.1-1-3.1-1-3.3-1-3.1-1-2.8-1-2.1-1-2.4-1 .1-1 1.2-1 1.1-1 1.4-1 3.1-1 2.7-1 2.5-1 2.2-1 2.1-1 1.9-1 1.5-1 1.5-1 1.6-1 1.2-1 .8-1 1.2-1 .9-1 .8-1 .8-1 .7-1 .7-1 .8-1 .8-1 .8-1 .6-1 .7-1 .4-1 .3-1 .3-1 .1-1 .1-1 0-1 .1-1 .1-1 .2-1 .1-1 .2-1 .2-1 .3-1 .2-1 .3-1 .2-1 .2-1 .3-1 .2-1 .1-1 .1-1 .1-1 0-1 0-1 0-1-.1-1-.1-1-.2-1-.1-1-.2-1-.2-1-.2-1-.3-1-.2-1-.1-1-.2-1-.1-1-.1-1-.1-1 0-1 0-1 0-1 0-1 0-1 .1-1 .1-1 .1-1 .1-1 .1-1 .1-1 .1-1 .2-1 .1-1 .1-1 .1-1 .2-1 .1-1 .1-1 .1-1 .1-1 .1-1 .2-1 .1-1 .1-1 .1-1 .2-1 .1-1 .1-1 .2-1 .1-1 .1-1 .2-1 .1z"/>
<path stroke="#7d1111" d="M75.5 100.1l .4-.1 .4-.1 .4-.1 .4 0 .4 0 .4-.2 .4 0 .4-.1 .4-.1 .4 0 .4 0 .4 0 .4 0 .4-.3 .4 0 .4 0 .4 0 .4-.1 .4 0 .4-.1 .4 0 .4-.2 .4 0 .4 .1 .4 0 .4-.1 .4-.2 .4-.1 .4 .1 .4-.1 .4 0 .4 0 .4-.3 .4 .1 .4-.2 .4 .2 .4-.1 .4-.1 .4 0 .4 .1 .4-.1 .4-.2 .4 0 .4 0 .4-.2 .4-.1 .4 0 .4 0 .4 0 .4-.1 .4-.1 .4 0 .4-.1 .4 .1 .4 0 .4-.1 .4-.2 .4 0 .4-.2 .4 .1 .4-.1 .4-.1 .4 0 .4 .1 .4-.1 .4-.1 .4 .2 .4-.3 .4-.1 .4 .2 .4-.4 .4 .3 .4 0 .4-.1 .4 .1 .4-.2 .4 .1 .4-.3 .4 .1 .4 .1 .4 .1 .4 .1 .4-.2 .4 .2 .4-.3 .4 .2 .4-.2 .4 .2 .4 0 .4 .1 .4 .1 .4 0 .4 0 .4 .3 .4-.1 .4-.1 .4 .3 .4 .1 .4 .2 .4 .1 .4-.2 .4 .2 .4 .1 .4-.1 .4 .1 .4 .4 .4-.1 .4 .1 .4 .1 .4 .1 .4 .1 .4-.1 .4 .2 .4 .1 .4-.1 .4 .1 .4 .1 .4 .1 .4-.1 .4 .1 .4 .1 .4 .1 .4-.1 .4 .1 .4-.1 .4 0 .4 .1 .4-.2 .4 0 .4 0 .4 0 .4-.3 .4 .2 .4 0 .4-.1 .4-.2 .4-.2 .4-.1 .4 0 .4 .1 .4-.2 .4 0 .4-.2 .4 .1 .4-.3 .4-.2 .4 0 .4-.2 .4 .1 .4 0 .4-.2 .4-.3 .4-.1 .4 .1 .4-.3 .4 .1 .4-.3 .4 .1 .4 0 .4-.2 .4 .2 .4-.1 .4 .1 .4-.3 .4 0 .4-.1 .4 0 .4-.3 .4 .3 .4 0 .4-.4 .4-.1 .4 .2 .4 .3 .4-.3 .4-.3 .4 .1 .4-.4 .4 .4 .4-.6 .4 .1 .4-.6 .4 0 .4-.5 .4 .1 .4-.1 .4-.3 .4-.4 .4-.2 .4-.9 .4-.3 .4-.1 .4 .1 .4-.6 .4-.1 .4-1 .4 .1 .4-.4 .4 .1 .4 .2 .4-.7 .4-.2 .4-.9 .4-.2 .4 0 .4-.5 .4-1.3 .4 .8 .4-.4 .4-.7 .4-.2 .4-.6 .4-1 .4-1.1 .4 1.5 .4-1.6 .4-.6 .4-.5 .4-.5 .4-.5 .4-1.7 .4 .5 .4-1 .4-.8 .4-.8 .4-.5 .4-1.8 .4 .1 .4-1 .4-.6 .4 0 .4-1.2 .4-.8 .4-2.6 .4 0 .4-.6 .4-2.6 .4-1.2 .4 2.6 .4-5.7 .4 1.8 .4-.4 .4-2.3 .4 1.3 .4 .9 .4-3.6 .4 4.7 .4-1 .4-.7 .4 3.5 .4-.6 .4 .3 .4-.9 .4 4.5 .4-.2 .4 .1 .4 1.8 .4 2.7 .4-.4 .4 1.7 .4 1 .4 .7 .4 1.2 .4 1.4 .4 .8 .4 1.7 .4 0 .4 .4 .4 1 .4 .3 .4 1.1 .4-.8 .4 .4 .4 1.7 .4 0 .4 .8 .4-.3 .4 .9 .4 .6 .4 .6 .4 .2 .4 .9 .4-.2 .4 .9 .4 0 .4 .5 .4 .1 .4 .7 .4 .1 .4 .9 .4-.1 .4 .6 .4 .2 .4 .4 .4 .1 .4 .9 .4-.2 .4 .6 .4-.3 .4 .8 .4 .1 .4 .3 .4-.3 .4 .7 .4-.1 .4 .3 .4 .4 .4 0 .4 0 .4 .3 .4 0 .4 .3 .4 .1 .4 .2 .4 0 .4 0 .4 .3 .4 .2 .4 .2 .4 .2 .4-.1 .4 .3 .4 .1 .4 .1 .4 .1 .4-.1 .4 .4 .4-.1 .4 .1 .4 .2 .4 0 .4 0 .4-.1 .4 .3 .4 0"/>
<path fill="#10107c" stroke="none" d="M75.5 127.7l 1-.2 1-.1 1-.1 1-.2 1-.1 1-.1 1-.1 1-.2 1-.1 1-.1 1-.1 1-.1 1-.1 1-.1 1-.1 1-.2 1-.1 1-.1 1-.1 1-.1 1-.1 1-.1 1-.1 1-.2 1-.1 1-.1 1-.1 1-.1 1 0 1-.1 1 0 1 0 1 0 1 0 1 .1 1 .1 1 .2 1 .2 1 .2 1 .2 1 .2 1 .2 1 .2 1 .2 1 .2 1 .2 1 .1 1 .1 1 0 1 0 1 0 1 0 1-.1 1-.1 1-.1 1-.1 1-.1 1-.2 1-.1 1-.2 1-.2 1-.1 1-.2 1-.2 1-.3 1-.2 1-.2 1-.4 1-.4 1-.3 1-.4 1-.6 1-.6 1-.7 1-.7 1-.6 1-.7 1-.8 1-.7 1-.7 1-.8 1-.7 1-.9 1-1.1 1-.9 1-1 1-1.6 1-1.6 1-1.5 1-1.6 1-1.9 1-2.7 1-3.5 1-4.1 1-3.7 1-2.8 1 .4 1 4.4 1 .3 1-2.8 1-1 1 2.6 1 4.2 1 3.7 1 2 1 1.8 1 1.6 1 1.3 1 1.3 1 1.5 1 1.6 1 1.6 1 1.5 1 1.2 1 1.1 1 1.1 1 1.3 1 1 1 .7 1 .8 1 .8 1 .8 1 .7 1 .5 1 .6 1 .6 1 .6 1 .5 1 .5 1 .4 1 .4 1 .4 1 .3 1 .3 0 .1-1-.3-1-.3-1-.4-1-.4-1-.4-1-.5-1-.5-1-.4-1-.5-1-.6-1-.6-1-.6-1-.5-1-.7-1-.9-1-.9-1-.8-1-.7-1-1-1-1.4-1-1.4-1-1.2-1-1.3-1-1.4-1-1.4-1-1.5-1-1.7-1-1.6-1-1.7-1-2-1-2.7-1-3-1-2-1 .4-1 1.5-1-.6-1-3.7-1 .3-1 2.7-1 2.5-1 3.7-1 3.6-1 2.1-1 2.2-1 2.1-1 1.7-1 1.2-1 .8-1 1.1-1 1-1 .7-1 .7-1 .7-1 .7-1 .8-1 .6-1 .7-1 .8-1 .7-1 .7-1 .6-1 .5-1 .5-1 .4-1 .4-1 .4-1 .2-1 .4-1 .2-1 .2-1 .1-1 .2-1 .2-1 .1-1 .2-1 .2-1 .1-1 .1-1 .2-1 0-1 .1-1 0-1 .1-1 0-1 0-1 0-1-.1-1-.1-1-.2-1-.2-1-.2-1-.2-1-.2-1-.2-1-.2-1-.2-1-.1-1-.2-1-.1-1-.1-1 0-1 0-1 0-1 0-1 .1-1 .1-1 .1-1 .1-1 0-1 .1-1 .1-1 .1-1 .1-1 .1-1 .1-1 .2-1 .1-1 .1-1 .1-1 .1-1 .1-1 .1-1 .1-1 .1-1 .1-1 .1-1 .1-1 .2-1 .1-1 .1-1 .1-1 .1-1 .2-1 .1z"/>
<path stroke="#10107c" d="M75.5 127.6l .4 0 .4 0 .4-.1 .4 0 .4-.1 .4-.1 .4 0 .4 0 .4 0 .4-.1 .4 0 .4-.2 .4 .2 .4-.2 .4-.2 .4 .1 .4 0 .4-.1 .4-.2 .4 .1 .4-.1 .4 0 .4 0 .4-.3 .4 .2 .4 0 .4-.1 .4-.1 .4-.1 .4 0 .4 0 .4 .1 .4-.2 .4 0 .4 0 .4 .1 .4-.2 .4 0 .4-.1 .4 .1 .4-.2 .4-.1 .4 .1 .4-.1 .4 0 .4-.3 .4 .3 .4-.2 .4 .1 .4-.2 .4-.2 .4 .2 .4-.2 .4 .1 .4-.4 .4 .1 .4-.1 .4 .3 .4-.1 .4-.3 .4 .1 .4 0 .4-.2 .4 .2 .4-.3 .4 .1 .4-.1 .4 .1 .4-.2 .4 .2 .4-.3 .4-.1 .4 0 .4 .1 .4 0 .4 .3 .4-.4 .4 .1 .4 0 .4 0 .4 .2 .4-.1 .4-.2 .4-.1 .4 .3 .4 .1 .4-.3 .4 .3 .4-.3 .4 .3 .4 .2 .4-.2 .4 0 .4 .5 .4-.4 .4 .3 .4-.1 .4 .3 .4 .3 .4-.2 .4 0 .4 0 .4 .1 .4 .2 .4 .2 .4 .1 .4 .1 .4 .1 .4 0 .4 .3 .4-.2 .4 .1 .4-.1 .4 .2 .4 .2 .4-.1 .4 .2 .4 0 .4 .2 .4-.3 .4 .1 .4 .2 .4-.1 .4-.1 .4 0 .4 0 .4 .1 .4 0 .4-.1 .4-.1 .4 .2 .4 0 .4-.3 .4 .2 .4-.2 .4 0 .4-.1 .4-.1 .4 0 .4 0 .4 .1 .4-.1 .4-.2 .4-.1 .4-.1 .4-.1 .4 .1 .4 0 .4-.2 .4 .1 .4-.1 .4 .1 .4-.3 .4 .1 .4-.2 .4 .1 .4-.3 .4 .2 .4-.4 .4 .3 .4-.2 .4-.3 .4 .2 .4-.3 .4 0 .4 .1 .4-.4 .4-.2 .4 .2 .4-.5 .4 .1 .4-.1 .4-.3 .4 0 .4-.6 .4 .4 .4-.6 .4-.2 .4 .3 .4-.2 .4-.7 .4 0 .4-.4 .4-.4 .4 .1 .4-.1 .4-.1 .4-.8 .4 0 .4-.6 .4-.3 .4 .3 .4-1.3 .4-.1 .4-.2 .4 .4 .4-.6 .4-.2 .4-.3 .4 0 .4-.9 .4-.2 .4-.4 .4 .1 .4-1.1 .4 .2 .4 .6 .4-.8 .4-.7 .4-.8 .4 .3 .4-.4 .4-.2 .4-1.2 .4 .3 .4-.4 .4-.4 .4-1.3 .4 .2 .4 .2 .4-2.1 .4 .3 .4-1.4 .4-.7 .4-1.4 .4-.7 .4 .6 .4-1.2 .4 .2 .4-3.8 .4 0 .4-2.5 .4 .5 .4 .4 .4-5.5 .4 .7 .4-1.1 .4-1 .4-1.8 .4-.7 .4 2.9 .4-4.1 .4 3.4 .4 1.4 .4-1.7 .4 2 .4 1.5 .4 1.4 .4-3.4 .4-1.3 .4 .3 .4 1.5 .4-.3 .4 1.4 .4-1.1 .4 .5 .4 1.1 .4 3.5 .4 .1 .4 .6 .4 1.9 .4 .4 .4-1.3 .4 2.3 .4 0 .4 1.8 .4 .2 .4 2 .4-.9 .4-.4 .4 .1 .4 1.1 .4 .9 .4 1 .4 1.1 .4 .2 .4 .1 .4 1.4 .4-.5 .4 1.7 .4 1 .4 .1 .4 .8 .4 .4 .4-.8 .4 1.2 .4 .2 .4 .1 .4 .4 .4 1.2 .4-.4 .4 .8 .4 .5 .4 .2 .4 1 .4 .1 .4 .1 .4 .1 .4 .6 .4 .2 .4 0 .4 .2 .4 .5 .4 .1 .4 .7 .4 .2 .4 .2 .4 .3 .4 .3 .4-.2 .4 .6 .4 .4 .4-.1 .4 0 .4 .5 .4 0 .4 .5 .4 .2 .4 .3 .4 .1 .4-.1 .4 .6 .4-.2 .4 .5 .4 .1 .4 0 .4 .2 .4 .2 .4 .4 .4-.1 .4 .3 .4-.1 .4 .3 .4 .1 .4 .2"/>
<path fill="#8c2a2a" stroke="none" d="M75.5 156.6l 1-.1 1-.1 1-.2 1-.1 1-.1 1-.1 1-.2 1-.1 1-.1 1-.2 1-.1 1-.1 1-.1 1-.2 1-.1 1-.1 1-.1 1-.2 1-.1 1-.2 1-.1 1-.2 1-.1 1-.1 1-.1 1-.2 1-.1 1-.1 1 0 1 0 1 0 1 0 1 0 1 .1 1 .1 1 0 1 .2 1 .1 1 .1 1 .1 1 .1 1 .2 1 .1 1 .1 1 .2 1 .1 1 .1 1 .1 1 .1 1 0 1 .1 1 0 1 0 1-.1 1-.1 1-.2 1-.1 1-.2 1-.2 1-.2 1-.2 1-.2 1-.2 1-.2 1-.1 1-.1 1-.2 1-.1 1-.2 1-.2 1-.3 1-.5 1-.7 1-.9 1-1 1-1 1-1.2 1-1.2 1-1.1 1-1 1-.9 1-1.1 1-1.2 1-1.4 1-1.4 1-1.3 1-1.5 1-2.2 1-1.9 1-1.5 1-2.4 1-2.4 1-2.9 1-3.1 1-2.6 1-1.1 1 1.9 1 2.3 1-.2 1-.6 1-.3 1 1.9 1 3.7 1 4.2 1 3.6 1 1.9 1 1.6 1 1.6 1 1.4 1 1.2 1 1 1 1 1 1.1 1 1.1 1 1.2 1 1.2 1 1 1 1 1 .9 1 .9 1 .6 1 .6 1 .7 1 .7 1 .5 1 .6 1 .6 1 .5 1 .4 1 .4 1 .4 1 .3 1 .3 1 .2 0 .1-1-.2-1-.3-1-.3-1-.4-1-.4-1-.4-1-.5-1-.5-1-.5-1-.6-1-.5-1-.5-1-.7-1-.8-1-.8-1-.9-1-.9-1-1-1-.8-1-1-1-1-1-1.1-1-1.1-1-1.3-1-1.1-1-1.2-1-1.3-1-1.5-1-2.2-1-2.9-1-3.1-1-2.8-1-1.7-1-.1-1 .5-1-.1-1-2.8-1-2.4-1 .8-1 2.7-1 3.5-1 3-1 1.9-1 1.7-1 2.3-1 1.8-1 1.2-1 1.8-1 1.6-1 1.2-1 1.1-1 1-1 1-1 1.1-1 1-1 .8-1 .9-1 1-1 1.1-1 .9-1 .9-1 .7-1 .5-1 .3-1 .2-1 .1-1 .1-1 .1-1 .1-1 .2-1 .2-1 .2-1 .2-1 .1-1 .2-1 .2-1 .2-1 .2-1 .1-1 .1-1 .1-1 0-1 0-1-.1-1 0-1-.1-1 0-1-.2-1-.1-1-.1-1-.1-1-.2-1-.1-1-.1-1-.1-1-.2-1-.1-1-.1-1-.1-1-.1-1 0-1-.1-1 0-1 0-1 0-1 .1-1 .1-1 .1-1 .1-1 .1-1 .2-1 .1-1 .1-1 .1-1 .2-1 .1-1 .2-1 .1-1 .1-1 .1-1 .1-1 .2-1 .1-1 .1-1 .1-1 .1-1 .2-1 .1-1 .1-1 .1-1 .2-1 .1-1 .1-1 .2z"/>
<path stroke="#8c2a2a" d="M75.5 156.7l .4 0 .4-.2 .4 0 .4-.1 .4 0 .4-.2 .4 .1 .4-.1 .4 0 .4 0 .4-.1 .4-.2 .4 0 .4 0 .4-.1 .4 0 .4-.1 .4 0 .4 0 .4-.1 .4-.1 .4 0 .4-.1 .4 .2 .4-.3 .4-.1 .4 0 .4 .1 .4 0 .4-.2 .4 .1 .4-.2 .4 0 .4-.1 .4-.1 .4 .2 .4-.2 .4 0 .4 0 .4-.1 .4-.1 .4-.2 .4 .3 .4-.4 .4-.1 .4 .1 .4-.1 .4 0 .4 .1 .4-.3 .4 0 .4-.1 .4-.2 .4 .1 .4-.1 .4-.2 .4 .4 .4-.1 .4-.2 .4 0 .4-.2 .4 .1 .4-.3 .4-.1 .4 .1 .4 .1 .4-.2 .4 0 .4 .2 .4-.2 .4-.1 .4 .1 .4-.2 .4 0 .4 .3 .4-.2 .4 .2 .4-.2 .4 .2 .4-.3 .4 .1 .4-.1 .4 .2 .4 .2 .4-.4 .4 .3 .4-.2 .4 .2 .4 0 .4-.1 .4 .2 .4-.1 .4 .5 .4-.3 .4 .2 .4 0 .4 0 .4 .1 .4-.2 .4 .5 .4-.1 .4 .1 .4-.2 .4 .3 .4-.1 .4 .2 .4-.1 .4 0 .4 .2 .4 0 .4 .2 .4-.1 .4 0 .4 .2 .4-.1 .4 .3 .4 0 .4 0 .4 0 .4 0 .4 0 .4 0 .4 0 .4 .1 .4 .1 .4 0 .4-.2 .4 .3 .4-.1 .4-.2 .4 .1 .4 .1 .4-.1 .4-.1 .4-.1 .4 .2 .4-.2 .4 0 .4-.2 .4 0 .4 .1 .4 0 .4-.2 .4-.3 .4 .1 .4 0 .4-.3 .4 .3 .4-.4 .4 .1 .4-.1 .4-.1 .4-.3 .4 .3 .4-.2 .4 .1 .4-.3 .4 0 .4-.2 .4 .2 .4-.2 .4-.3 .4 .2 .4-.2 .4 0 .4 .1 .4 .1 .4-.4 .4 0 .4-.2 .4 .4 .4-.1 .4 0 .4-.2 .4-.4 .4 0 .4 0 .4-.2 .4-.3 .4-.1 .4-.4 .4-.2 .4 .1 .4-.7 .4-.7 .4 0 .4-.5 .4-.2 .4-.5 .4-.9 .4 0 .4-.2 .4-.1 .4-.8 .4 .1 .4-.4 .4-1.4 .4-.4 .4 .7 .4-1.5 .4-.2 .4 .1 .4-1.1 .4 .8 .4-.7 .4-.2 .4-.6 .4-1.6 .4 .8 .4-.6 .4-.6 .4-1.2 .4-.2 .4-1.3 .4 .5 .4-.2 .4-1.2 .4-1 .4 .1 .4-1.6 .4-2.1 .4 1.4 .4-1.2 .4-2 .4 1.2 .4-.5 .4-.5 .4-2.3 .4-1 .4 0 .4-1.2 .4-2.6 .4-.7 .4 1.8 .4-3 .4-1.2 .4-1.8 .4 .8 .4 .3 .4-.4 .4 2.5 .4-1.9 .4 1.9 .4-.6 .4 2.8 .4-.6 .4 .6 .4 0 .4-2.7 .4 1.4 .4-1.4 .4 2.2 .4-1.5 .4 3.1 .4-.9 .4 1.1 .4-.2 .4 1.8 .4 1.8 .4 .2 .4 2 .4 .9 .4 .8 .4 1.5 .4 .8 .4 .1 .4 1.2 .4 0 .4 0 .4 .7 .4 1.4 .4 1.1 .4-.3 .4 .5 .4-.4 .4 1.4 .4 .3 .4-.1 .4 1.1 .4 .3 .4-.6 .4 .6 .4 .8 .4 .6 .4 1 .4-.2 .4 .6 .4 .4 .4 .7 .4 .2 .4 .4 .4 .2 .4 0 .4 .8 .4 1 .4 .1 .4 .5 .4 .1 .4 0 .4 .3 .4 .6 .4 .1 .4 .5 .4 .4 .4 .2 .4 .1 .4-.2 .4 .8 .4-.3 .4 .3 .4 .5 .4 .2 .4 .3 .4 .1 .4 .1 .4 .3 .4 .1 .4 .2 .4 .3 .4 .2 .4 .2 .4 .1 .4 .4 .4 0 .4 .2 .4 .2 .4-.1 .4 .4 .4 .1 .4 0 .4 .3 .4 .1 .4 .1 .4 0 .4 .1"/>
<path fill="#dd1fdd" stroke="none" d="M75.5 184.9l 1-.1 1-.1 1-.2 1-.1 1-.1 1-.1 1-.1 1-.1 1-.2 1-.1 1-.1 1-.1 1-.1 1-.2 1-.1 1-.2 1-.2 1-.2 1-.1 1-.2 1-.2 1-.2 1-.1 1-.2 1-.2 1-.1 1-.2 1-.1 1-.1 1 0 1 0 1 .1 1 0 1 .1 1 .1 1 .2 1 .2 1 .1 1 .2 1 .3 1 .2 1 .2 1 .2 1 .3 1 .2 1 .2 1 .1 1 .2 1 .1 1 .1 1 0 1 .1 1-.1 1 0 1-.1 1-.2 1-.2 1-.2 1-.2 1-.2 1-.3 1-.2 1-.3 1-.3 1-.2 1-.3 1-.3 1-.3 1-.4 1-.4 1-.5 1-.7 1-.8 1-.9 1-1 1-1.1 1-1.1 1-1.1 1-1 1-.9 1-1.1 1-1 1-1.2 1-1.2 1-1.3 1-1.5 1-1.6 1-1.7 1-1.8 1-2.2 1-2.3 1-1.8 1-1.8 1-2.4 1-2.7 1-2.1 1-1.3 1-.2 1 .6 1 1.5 1 2.7 1 2.8 1 2.7 1 2.9 1 2.7 1 1.7 1 1.5 1 2 1 2.2 1 1.6 1 1.3 1 1.3 1 1.5 1 1.2 1 1.2 1 1.2 1 1.3 1 .9 1 1 1 .9 1 .7 1 .6 1 .5 1 .6 1 .6 1 .5 1 .5 1 .4 1 .3 1 .4 1 .3 1 .2 1 .1 1 .1 0 0-1 0-1-.1-1-.2-1-.3-1-.3-1-.4-1-.4-1-.5-1-.5-1-.4-1-.5-1-.6-1-.6-1-.8-1-.7-1-.9-1-1.1-1-.9-1-1.1-1-1.3-1-1.1-1-1.1-1-1.4-1-1.6-1-1.4-1-1.2-1-1.5-1-2.1-1-2.3-1-2.2-1-2.6-1-2.9-1-2.2-1-1.2-1-.9-1-1-1-.5-1 .6-1 1.7-1 2.1-1 2.5-1 2.5-1 1.9-1 1.3-1 1.5-1 1.8-1 1.7-1 1.6-1 1.3-1 1.3-1 1.1-1 1.1-1 1.1-1 1-1 1.1-1 1-1 1-1 .9-1 1-1 .9-1 1-1 .8-1 .6-1 .5-1 .4-1 .3-1 .3-1 .3-1 .2-1 .3-1 .3-1 .2-1 .3-1 .2-1 .2-1 .2-1 .2-1 .2-1 .1-1 .1-1 .1-1 0-1 0-1 0-1-.1-1-.2-1-.1-1-.1-1-.2-1-.2-1-.2-1-.2-1-.3-1-.2-1-.2-1-.2-1-.2-1-.1-1-.2-1-.1-1-.1-1-.1-1 0-1 0-1 .1-1 .1-1 .1-1 0-1 .2-1 .1-1 .2-1 .2-1 .2-1 .2-1 .2-1 .2-1 .1-1 .2-1 .1-1 .1-1 .1-1 .2-1 .1-1 .1-1 .1-1 .1-1 .2-1 .1-1 .1-1 .1-1 .1-1 .1-1 .1-1 .1z"/>
<path stroke="#dd1fdd" d="M75.5 184.8l .4 .1 .4-.2 .4 .1 .4 0 .4 0 .4-.2 .4 0 .4-.2 .4 .1 .4 0 .4 0 .4-.2 .4 .1 .4-.1 .4 .1 .4-.3 .4 0 .4 0 .4-.1 .4 0 .4-.1 .4 0 .4-.2 .4 .1 .4 0 .4 0 .4 0 .4-.1 .4-.2 .4 0 .4 0 .4-.1 .4 .1 .4-.2 .4-.1 .4-.1 .4 .1 .4-.2 .4-.1 .4 .1 .4-.1 .4 .1 .4 0 .4-.3 .4 0 .4-.1 .4 0 .4-.1 .4-.2 .4-.2 .4 .1 .4 .2 .4-.5 .4 0 .4-.1 .4 0 .4-.3 .4 .2 .4-.1 .4 .2 .4-.2 .4-.1 .4-.1 .4-.1 .4 .1 .4-.4 .4 .3 .4-.1 .4-.2 .4 .2 .4-.3 .4 0 .4 .1 .4-.4 .4 .3 .4 0 .4 .2 .4 .1 .4-.2 .4 0 .4 0 .4-.1 .4 .4 .4-.1 .4 .2 .4-.5 .4 .4 .4 0 .4 .2 .4-.3 .4 .3 .4 0 .4 .3 .4-.3 .4 .2 .4 0 .4 0 .4 .3 .4 .1 .4 0 .4 .1 .4 .2 .4 0 .4 .2 .4-.1 .4 .1 .4 .2 .4-.1 .4 .4 .4-.1 .4-.1 .4 .3 .4 .2 .4-.2 .4 .2 .4 .2 .4-.1 .4 .2 .4 .1 .4-.1 .4 .1 .4 .1 .4 0 .4 .1 .4-.1 .4 .1 .4-.1 .4 .1 .4 .1 .4 0 .4-.1 .4-.1 .4 0 .4 .1 .4-.2 .4 .2 .4-.3 .4 .1 .4-.2 .4 0 .4 0 .4-.1 .4 0 .4-.1 .4-.2 .4-.2 .4 0 .4 0 .4 0 .4-.3 .4 .2 .4-.2 .4-.2 .4 .1 .4-.5 .4 0 .4 .1 .4-.1 .4 0 .4-.1 .4-.3 .4-.2 .4 0 .4-.1 .4 0 .4-.2 .4 .1 .4-.3 .4-.4 .4-.1 .4 .2 .4-.2 .4-.5 .4-.2 .4 .4 .4-.4 .4-.3 .4-.4 .4 .2 .4-.6 .4-.1 .4-.9 .4 0 .4-.2 .4-.3 .4-.8 .4-.3 .4 .2 .4-.8 .4 .1 .4-.6 .4-.2 .4-.4 .4-.6 .4-.3 .4-1 .4-.6 .4 .1 .4 0 .4-1.3 .4 .9 .4-.4 .4-1.7 .4-.4 .4-.6 .4 .3 .4 .2 .4-.9 .4-1.2 .4 .4 .4-.5 .4 0 .4-.6 .4-2 .4-.3 .4 .7 .4-.7 .4-1 .4-1.6 .4 .9 .4-1.6 .4 .8 .4-1.1 .4-2.3 .4-1.2 .4 1.5 .4-1 .4-2.4 .4 .6 .4-.4 .4-2 .4-.4 .4-2.1 .4-.5 .4 1 .4-1.5 .4-.9 .4 1.2 .4-1.2 .4-3.5 .4 3.5 .4-4.3 .4 1 .4 .7 .4-.9 .4 .3 .4-.8 .4 2.8 .4 0 .4 .5 .4-2.4 .4 2 .4 3.4 .4 .1 .4 1.3 .4 .1 .4 .7 .4-.9 .4 5.2 .4-2.1 .4 1.6 .4 2 .4 .3 .4 1.1 .4 .2 .4-.2 .4 2.9 .4-1.7 .4 2 .4-.8 .4 1.5 .4 .1 .4 1.1 .4 .2 .4 1.3 .4 1.1 .4-.3 .4 .5 .4-.1 .4 2.5 .4-.3 .4-.2 .4 1.6 .4 0 .4-.4 .4 .7 .4 1.4 .4-.5 .4 .6 .4 .6 .4 .6 .4 .5 .4 .8 .4 .3 .4 0 .4 .5 .4 0 .4 .9 .4 .7 .4-.1 .4 .2 .4 .3 .4 .3 .4 .4 .4-.2 .4 .6 .4 0 .4 .4 .4 .3 .4-.2 .4 .7 .4 .1 .4 0 .4 .3 .4 0 .4 .3 .4 .3 .4-.1 .4 .4 .4 .1 .4 .3 .4 .1 .4 0 .4 .2 .4 .1 .4 .2 .4 0 .4 .3 .4 0 .4 0 .4 .2 .4-.1 .4 .1 .4 .1 .4-.2"/>
<path fill="#e9a539" stroke="none" d="M75.5 211.4l 1-.1 1-.2 1-.1 1-.2 1-.1 1-.1 1-.2 1-.1 1-.2 1-.1 1-.1 1-.2 1-.1 1-.1 1-.1 1-.2 1-.2 1-.1 1-.1 1-.1 1-.2 1-.1 1-.1 1-.1 1-.1 1-.1 1 0 1 0 1 .1 1 .1 1 0 1 .2 1 .1 1 .2 1 .1 1 .2 1 .1 1 .2 1 .1 1 .1 1 .1 1 .2 1 .1 1 .1 1 .2 1 .1 1 .1 1 .2 1 .1 1 .1 1 .1 1 0 1 .1 1 .1 1 0 1 0 1-.2 1-.1 1-.3 1-.4 1-.3 1-.4 1-.4 1-.4 1-.4 1-.4 1-.4 1-.6 1-.6 1-.7 1-.6 1-.6 1-1 1-1 1-.9 1-1 1-1.2 1-1.1 1-1.4 1-1.5 1-1.6 1-1.5 1-1.8 1-1.3 1-1.3 1-1.4 1-1.7 1-2 1-1.5 1-.7 1-.7 1-2.7 1-2.5 1-1 1-.4 1 1.4 1 .7 1-1.1 1-.8 1 .1 1 .9 1 1.3 1 1.7 1 1.8 1 1.7 1 1.6 1 1.3 1 1.1 1 1.3 1 1.4 1 .9 1 1.2 1 1.5 1 1.5 1 1.5 1 1.3 1 1.5 1 1.7 1 1.5 1 1.2 1 1.1 1 1 1 .8 1 .9 1 .9 1 .9 1 .8 1 .8 1 .7 1 .6 1 .5 1 .5 1 .5 1 .4 0 .1-1-.3-1-.4-1-.5-1-.6-1-.7-1-.6-1-.8-1-.7-1-.7-1-.8-1-.8-1-1-1-.9-1-1.2-1-1.2-1-1.2-1-1.1-1-1.3-1-1.6-1-1.4-1-1.3-1-1.2-1-1.4-1-1.5-1-1-1-1.2-1-1.4-1-1.3-1-1.3-1-1.6-1-1.9-1-1.4-1-1.2-1-.6-1 1-1 1.2-1 0-1-.8-1-.1-1-.1-1 .1-1 2.1-1 2.3-1 2.2-1 1.6-1 .8-1 .5-1 .9-1 1.3-1 1.5-1 1.4-1 1.4-1 1.6-1 1.5-1 1.5-1 1.1-1 1.2-1 1-1 1.2-1 1.1-1 .8-1 .7-1 .9-1 .7-1 .5-1 .4-1 .4-1 .6-1 .4-1 .3-1 .4-1 .3-1 .4-1 .4-1 .3-1 .2-1 .2-1 .1-1 0-1 0-1 0-1-.1-1-.1-1-.1-1-.1-1-.1-1-.1-1-.1-1-.2-1-.1-1-.1-1-.1-1-.2-1-.1-1-.1-1-.1-1-.1-1-.2-1-.2-1-.1-1-.2-1-.1-1-.1-1-.1-1-.1-1 0-1 0-1 0-1 0-1 .1-1 .1-1 .1-1 .2-1 .1-1 .2-1 .2-1 .1-1 .2-1 0-1 .1-1 .1-1 .2-1 .1-1 .1-1 .1-1 .1-1 .2-1 .1-1 .1-1 .2-1 .1-1 .2-1 .1-1 .1z"/>
<path stroke="#e9a539" d="M75.5 211.4l .4 0 .4-.1 .4 .1 .4-.2 .4-.1 .4 .1 .4-.1 .4 0 .4-.2 .4 .1 .4-.2 .4-.2 .4 .1 .4 .2 .4-.3 .4-.1 .4 .1 .4-.3 .4 0 .4 0 .4 .1 .4-.1 .4-.1 .4 0 .4-.2 .4 0 .4 .1 .4-.1 .4-.1 .4 .2 .4-.2 .4 0 .4-.2 .4 0 .4 0 .4 0 .4-.3 .4 0 .4 .3 .4-.3 .4 .1 .4-.5 .4 .3 .4-.1 .4-.1 .4 0 .4-.1 .4-.3 .4 .1 .4-.1 .4-.2 .4 .4 .4-.6 .4 .2 .4-.1 .4 .2 .4-.3 .4 0 .4 .2 .4-.5 .4 .2 .4 .1 .4-.1 .4-.2 .4 0 .4 .1 .4-.2 .4 0 .4 .5 .4-.1 .4 .1 .4-.2 .4-.3 .4 .2 .4 .4 .4-.1 .4-.2 .4 .3 .4 0 .4-.1 .4 .5 .4-.4 .4 .1 .4 0 .4 .3 .4 .1 .4 0 .4-.1 .4 .1 .4 .1 .4-.2 .4 .1 .4 .4 .4 0 .4-.3 .4 .4 .4-.2 .4 0 .4 .4 .4 0 .4-.1 .4 .2 .4 .1 .4 0 .4-.2 .4 .3 .4 0 .4 .1 .4 .2 .4-.4 .4 .5 .4-.1 .4-.1 .4 .3 .4-.2 .4 0 .4 .3 .4-.1 .4 .2 .4-.1 .4 .1 .4 0 .4-.1 .4 .2 .4-.1 .4 .1 .4 .3 .4-.2 .4 .1 .4 .2 .4-.3 .4 .2 .4 0 .4 .1 .4-.1 .4 0 .4 .1 .4-.1 .4 .3 .4-.4 .4 .2 .4 .1 .4-.2 .4-.1 .4-.2 .4 0 .4-.2 .4 0 .4-.4 .4 0 .4-.3 .4 .2 .4-.4 .4 .1 .4-.4 .4-.1 .4 .2 .4-.3 .4-.1 .4-.1 .4-.3 .4-.1 .4 0 .4-.5 .4-.2 .4 .2 .4-.4 .4-.3 .4-.1 .4-.1 .4-.6 .4-.2 .4-.2 .4 0 .4-.8 .4-.2 .4 .3 .4-.4 .4-.6 .4 .2 .4-.7 .4-.2 .4-.1 .4-.5 .4 .1 .4-.7 .4 .1 .4-1.9 .4-.3 .4-.3 .4 0 .4-.8 .4-.6 .4-.3 .4-.5 .4 .5 .4-1.2 .4 0 .4-.1 .4-.6 .4-1.6 .4-1 .4 1 .4-2.8 .4-.5 .4 .8 .4-.5 .4-.8 .4-1.5 .4 .7 .4 .1 .4-1.8 .4 1.4 .4-2.3 .4-1.5 .4 .4 .4-1 .4-.2 .4-.7 .4 .2 .4 .6 .4-1 .4-.6 .4-2 .4-.9 .4 1 .4 .8 .4-.6 .4-1.6 .4-3 .4 .4 .4-.3 .4 .6 .4-2.5 .4 .7 .4 .4 .4-.2 .4-2.3 .4 2.9 .4-2.2 .4 1 .4 1.9 .4-1.1 .4 1.2 .4 .7 .4-1.1 .4 .5 .4-2.3 .4 .5 .4-.8 .4-.3 .4 4.1 .4-2.6 .4 3.4 .4-2.3 .4 1.9 .4-.8 .4-1 .4 4.6 .4-1.8 .4 1 .4 2.7 .4-2.4 .4 1.2 .4 1.1 .4 .8 .4-2.3 .4 2.8 .4 1.9 .4-.4 .4-.1 .4 .4 .4 .2 .4 1.3 .4-1 .4 1.4 .4 1.2 .4 0 .4 .1 .4-.5 .4 .8 .4 1.1 .4 .3 .4 .4 .4-.6 .4 2.3 .4-.2 .4 .4 .4 1.6 .4-.2 .4 .6 .4 .9 .4 0 .4 .3 .4 .6 .4 1.1 .4 .4 .4-.2 .4 1.7 .4-.1 .4 .2 .4 .8 .4 .2 .4 .6 .4 .1 .4 .2 .4 .9 .4 .2 .4 .4 .4 .4 .4 .3 .4 .6 .4-.1 .4 .1 .4 .3 .4 .4 .4 .8 .4-.2 .4 .7 .4 .2 .4-.1 .4 .8 .4-.1 .4 .4 .4 .3 .4 .3 .4 .1 .4 .3 .4 0 .4 .2 .4 .5 .4 .1 .4 .1 .4 .2 .4 .2"/>
<path fill="#5e0f73" stroke="none" d="M75.5 240.9l 1-.3 1-.3 1-.4 1-.3 1-.3 1-.3 1-.2 1-.3 1-.3 1-.2 1-.3 1-.1 1-.2 1-.2 1-.2 1-.2 1-.1 1-.3 1-.2 1-.1 1-.1 1-.2 1-.1 1 0 1-.2 1 0 1 .1 1 0 1 .1 1 0 1 .1 1 .1 1 .2 1 .1 1 .1 1 .1 1 .1 1 .2 1 .1 1 .1 1 .1 1 .1 1 .1 1 .2 1 .2 1 .1 1 .1 1 .2 1 .1 1 .2 1 .2 1 .1 1 .2 1 .1 1 .2 1 .1 1 .1 1 .1 1 0 1 0 1 0 1-.2 1-.3 1-.4 1-.6 1-.8 1-1.1 1-1.1 1-1.1 1-.8 1-.6 1-.6 1-.8 1-1 1-1.3 1-1.2 1-1.7 1-1.8 1-1.8 1-1.8 1-1.9 1-1.8 1-2.4 1-2.1 1-1.8 1-2.5 1-2.5 1-1 1 .7 1 1.4 1 .9 1 .2 1-.2 1 .3 1 1 1 .3 1 .2 1 .2 1 .1 1 .5 1-.3 1-.5 1 .1 1 0 1-.1 1-.2 1-.7 1-.3 1-.8 1-1.2 1-1 1-1.4 1-1.3 1-1.5 1 2.8 1 10 1 3.4 1 1.6 1 1.1 1 .9 1 1.4 1 2 1 2.1 1 1.8 1 1.7 1 1.6 1 1.4 1 1.3 1 1.2 1 1.1 1 1 1 .9 1 .9 1 .7 0 .1-1-.7-1-.8-1-.8-1-1-1-1.1-1-1.2-1-1.2-1-1.1-1-1.4-1-1.8-1-2-1-1.5-1-1.6-1-1.5-1-1.2-1-1.1-1-1.3-1-3.5-1-9.1-1-2.6-1 .7-1 2.1-1 1.8-1 1-1 .4-1 .5-1 .7-1 .1-1 .3-1 .4-1 .4-1 .4-1-.2-1 0-1 .4-1-.3-1-.5-1-.5-1-.5-1 .3-1-.3-1-1-1-.5-1-.4-1-.4-1-.7-1 .1-1 1.8-1 2.3-1 2.2-1 2-1 1.8-1 2.2-1 1.9-1 1.8-1 1.7-1 1.4-1 1.5-1 1.4-1 1.1-1 .7-1 .8-1 .7-1 .8-1 .8-1 1-1 1-1 .9-1 .8-1 .4-1 .5-1 .3-1 .2-1 0-1 0-1-.1-1-.1-1-.1-1-.1-1-.1-1-.1-1-.2-1-.1-1-.2-1-.1-1-.2-1-.1-1-.2-1-.2-1-.1-1 0-1-.1-1-.2-1-.1-1-.1-1-.2-1-.1-1-.1-1-.1-1-.2-1-.1-1-.1-1-.1-1 0-1-.1-1-.1-1 0-1 0-1 0-1 0-1 .1-1 .1-1 .1-1 .2-1 .2-1 .1-1 .2-1 .2-1 .2-1 .2-1 .1-1 .2-1 .3-1 .2-1 .2-1 .2-1 .2-1 .3-1 .3-1 .3-1 .2-1 .3-1 .3-1 .3z"/>
<path stroke="#5e0f73" d="M75.5 240.9l .4 0 .4-.3 .4-.1 .4-.1 .4 0 .4-.2 .4-.1 .4-.2 .4-.1 .4-.2 .4 0 .4-.3 .4 .3 .4-.2 .4-.3 .4 .1 .4-.4 .4 .2 .4-.3 .4 0 .4-.1 .4-.2 .4-.1 .4 0 .4-.4 .4 .1 .4 .1 .4-.4 .4 0 .4-.2 .4-.2 .4 .4 .4-.4 .4-.1 .4 .1 .4-.1 .4 .3 .4-.3 .4-.5 .4 .6 .4-.3 .4-.2 .4-.2 .4-.3 .4 .6 .4-.4 .4-.2 .4 .3 .4-.3 .4-.4 .4 0 .4 .1 .4 .4 .4-.4 .4-.1 .4 .1 .4-.1 .4-.4 .4 .4 .4 .1 .4-.3 .4 .1 .4 0 .4-.1 .4-.1 .4 .1 .4 .3 .4-.2 .4-.1 .4 .2 .4-.3 .4 .1 .4 .4 .4-.3 .4-.3 .4 .1 .4 .4 .4-.2 .4 .4 .4 .2 .4-.4 .4 .1 .4 0 .4 .2 .4-.1 .4 .2 .4-.1 .4 0 .4 .2 .4-.1 .4 .5 .4-.1 .4-.4 .4 0 .4 .4 .4 .1 .4 .2 .4-.2 .4 0 .4 .4 .4-.3 .4 .1 .4 0 .4 .3 .4-.2 .4 .4 .4-.5 .4 .3 .4 .3 .4-.4 .4 .1 .4 .3 .4-.3 .4 .5 .4-.2 .4 0 .4 .5 .4-.4 .4 .2 .4 .1 .4 .2 .4-.1 .4 .2 .4 .1 .4 0 .4 .1 .4-.3 .4 .5 .4 0 .4 0 .4 0 .4-.1 .4 .1 .4 .2 .4 .1 .4 0 .4-.1 .4 .1 .4 .2 .4 .2 .4-.4 .4 .1 .4 .1 .4 .1 .4 .1 .4 .1 .4-.1 .4 0 .4 .1 .4 .1 .4-.1 .4-.1 .4 0 .4-.1 .4 .1 .4-.3 .4-.1 .4-.1 .4-.1 .4-.4 .4 0 .4-.4 .4-.1 .4-.5 .4-.2 .4-.2 .4-.6 .4-.4 .4-.6 .4-.2 .4-.4 .4-.7 .4-.5 .4-.2 .4-.4 .4-.1 .4-.4 .4-.3 .4-.2 .4-.1 .4-.3 .4-.9 .4 .3 .4-.3 .4-.3 .4-.5 .4-.6 .4 .1 .4-.2 .4-1.5 .4 .3 .4-1.5 .4-.6 .4-1.2 .4-1 .4 .1 .4-.1 .4-.2 .4-.9 .4-1.3 .4 .7 .4-2.2 .4-.7 .4-1.3 .4 .1 .4-1.2 .4 0 .4-1 .4 .6 .4-2.7 .4-2.3 .4 .8 .4-1 .4 .7 .4-3.8 .4 1.9 .4-2.8 .4 .4 .4 1.1 .4-2.6 .4 1.5 .4 .1 .4 0 .4 .9 .4 .8 .4-.8 .4 1.2 .4-.4 .4 1.1 .4 1.1 .4-.9 .4-.1 .4-.5 .4-1.3 .4 3.6 .4-2 .4 2.4 .4-.8 .4-.5 .4 1.7 .4 .1 .4-2.1 .4 .2 .4 .3 .4 .9 .4-2.9 .4 2.3 .4 .9 .4-2.9 .4 1.2 .4 1.1 .4-1.8 .4 1.1 .4-.6 .4 .4 .4 1.4 .4-2.4 .4 .9 .4 1.3 .4-.4 .4-2 .4 1.4 .4-.6 .4-.8 .4 .5 .4 1.9 .4-2.7 .4-.6 .4-.1 .4-1.1 .4 1.3 .4-.8 .4-1.3 .4 2.1 .4-2.8 .4-.4 .4 .9 .4-1.8 .4 .6 .4 1.8 .4-3.4 .4 .5 .4-.6 .4-.1 .4-2 .4 1.1 .4 3 .4 1.1 .4 3.5 .4 4.9 .4 1.7 .4 .8 .4 .8 .4-.2 .4 0 .4-.2 .4 .9 .4 .5 .4 .3 .4 .4 .4 1.7 .4-.1 .4 .9 .4 .9 .4 .9 .4 .8 .4 .5 .4 1.3 .4-.2 .4 1 .4 .7 .4 .5 .4 .5 .4 1.1 .4 .4 .4 1 .4 .6 .4 .4 .4-.5 .4 1.4 .4-.1 .4 .3 .4 .9 .4 0 .4 .4 .4 .6 .4 .2 .4 .6 .4 .6 .4 .2 .4 .4 .4 .5 .4 .2 .4 0 .4 .5"/>
<path fill="#4a8a25" stroke="none" d="M75.5 266.1l 1-.2 1-.2 1-.2 1-.3 1-.3 1-.3 1-.4 1-.3 1-.3 1-.2 1-.3 1-.6 1-.7 1-.5 1-.4 1-.6 1-.6 1-.5 1-.4 1-.3 1-.2 1-.2 1-.2 1 .1 1 .2 1 .3 1 .3 1 .3 1 .3 1 .2 1 .4 1 .2 1 .3 1 .1 1 .1 1 .2 1 .2 1 .1 1 .2 1 .2 1 .1 1 .1 1 .1 1 .2 1 .1 1 .2 1 .2 1 .2 1 .4 1 .4 1 .4 1 .4 1 .4 1 .4 1 .5 1 .4 1 .3 1 .3 1 .2 1 .1 1 0 1-.3 1-.4 1-.5 1-.4 1-.4 1-.3 1-.3 1-.3 1-.5 1-.5 1-.5 1-.9 1-1.3 1-1.8 1-2 1-2 1-2 1-2.7 1-2.7 1-2.4 1-2 1-1.4 1-1.1 1-1.3 1-1.5 1-1.1 1-1.4 1-1.4 1-.8 1 .3 1 .4 1 1 1 1 1-.3 1-.5 1-.3 1 .3 1-.7 1-.3 1 .8 1 .5 1-.4 1-.4 1-.5 1-1 1-.8 1-1.4 1-.2 1 .5 1 .3 1-.1 1 0 1 1 1 1.9 1 2.2 1 1.8 1 1.9 1 2.2 1 2.3 1 2.3 1 2.3 1 2.2 1 2.6 1 2.4 1 2.1 1 1.8 1 1.4 1 1.3 1 1.1 1 .9 1 .7 1 .6 1 .2 0 .2-1-.2-1-.5-1-.7-1-.9-1-1.1-1-1-1-1-1-1.7-1-2.4-1-2.5-1-2.4-1-2.3-1-1.7-1-1.6-1-1.6-1-1.9-1-2.2-1-1.9-1-1.6-1-1.9-1-1.6-1-.4-1 0-1 .2-1 .6-1-.1-1-.4-1 1.3-1 1.1-1 1.3-1 0-1-.5-1 .3-1 .4-1-.4-1-.3-1 1.1-1 .4-1 0-1-.8-1-.7-1-.9-1-1.1-1 .3-1 .7-1 1-1 1.2-1 1.3-1 1-1 1.3-1 1.8-1 1.8-1 2-1 2.5-1 2.2-1 1.7-1 2-1 2.2-1 1.8-1 1.5-1 1.2-1 .7-1 .6-1 .4-1 .3-1 .3-1 .4-1 .3-1 .3-1 .4-1 .4-1 .5-1 .2-1 0-1-.1-1-.2-1-.2-1-.4-1-.3-1-.4-1-.4-1-.5-1-.4-1-.4-1-.3-1-.3-1-.2-1-.3-1-.1-1-.2-1-.1-1-.2-1-.1-1-.1-1 0-1-.1-1-.1-1-.1-1-.2-1-.2-1-.3-1-.2-1-.3-1-.2-1-.3-1-.3-1-.2-1-.2-1-.1-1-.1-1-.1-1-.2-1 0-1 .3-1 .3-1 .5-1 .5-1 .5-1 .6-1 .7-1 .6-1 .4-1 .2-1 .5-1 .4-1 .3-1 .3-1 .2-1 .2-1 .2-1 .2-1 .3-1 .2-1 .2z"/>
<path stroke="#4a8a25" d="M75.5 266.2l .4-.2 .4 .3 .4-.6 .4 .4 .4-.5 .4 .1 .4-.3 .4 .1 .4 .1 .4-.5 .4 .1 .4-.1 .4-.1 .4-.3 .4-.1 .4 0 .4 .3 .4-.4 .4-.2 .4-.5 .4 .2 .4 0 .4-.4 .4 .1 .4-.1 .4-.2 .4 .3 .4-.8 .4-.1 .4 0 .4 .1 .4-.6 .4-.5 .4 .3 .4-.1 .4-.7 .4 .4 .4-.1 .4-.7 .4-.1 .4-.4 .4-.1 .4-.5 .4 0 .4-.1 .4-.2 .4-.6 .4-.2 .4-.2 .4 0 .4 .9 .4-.4 .4-.4 .4-.2 .4 .7 .4-1.3 .4 .5 .4 .4 .4-.3 .4 .3 .4 .2 .4-.5 .4 .5 .4 .4 .4-.2 .4-.1 .4 .5 .4-.8 .4 1 .4-1 .4 .4 .4 .8 .4-.2 .4-.3 .4 .6 .4 .4 .4-.3 .4-.4 .4 1.2 .4-.6 .4 .3 .4 .1 .4 .2 .4 0 .4-.3 .4 .2 .4 .6 .4-.8 .4 1 .4-.6 .4 .2 .4-.2 .4 .3 .4-.2 .4 .4 .4-.2 .4 .2 .4-.4 .4 .8 .4-.5 .4 .3 .4 .1 .4 .2 .4-.2 .4 .6 .4 0 .4-.5 .4 .7 .4-.8 .4 .5 .4-.1 .4 .1 .4 0 .4 .3 .4 .1 .4 0 .4-.3 .4 .1 .4 .1 .4 .3 .4 .3 .4 .5 .4-.4 .4 .1 .4 .4 .4-.1 .4 0 .4 .5 .4-.1 .4 .4 .4 .5 .4 0 .4 .1 .4 0 .4 .4 .4 .1 .4 .3 .4 0 .4 .1 .4 0 .4 .2 .4 .2 .4 .1 .4 .1 .4 .1 .4-.1 .4 .6 .4-.2 .4 0 .4-.1 .4 .3 .4-.2 .4-.1 .4 .1 .4 0 .4-.3 .4-.1 .4-.5 .4 .1 .4-.6 .4 .1 .4 0 .4-.2 .4 0 .4-.4 .4-.3 .4 .2 .4-.4 .4 .3 .4-.4 .4-.5 .4 .6 .4-.8 .4-.1 .4 .5 .4-.3 .4-.2 .4-.7 .4 .1 .4-.3 .4-.5 .4-.1 .4-.5 .4-.3 .4-1 .4 0 .4-1.5 .4 0 .4-.5 .4-1.4 .4-.8 .4 .4 .4-1.9 .4 .1 .4-1.1 .4-1.8 .4 .2 .4-1.7 .4-.4 .4-2.6 .4 .5 .4 0 .4-.9 .4-1 .4-1.6 .4-.5 .4-1.6 .4 .3 .4-.5 .4-.8 .4 0 .4-.9 .4-1 .4-.5 .4 1.2 .4 1 .4-1.6 .4-1.8 .4 2.2 .4-2.2 .4-1.6 .4 .9 .4 .4 .4-4.1 .4 .3 .4 2.1 .4-2.1 .4 .2 .4 3.5 .4-3.5 .4 3.9 .4-.6 .4 1.4 .4-1.2 .4 2 .4-1.4 .4-1.3 .4 1 .4 .6 .4-2.4 .4 2.9 .4-2.5 .4 1.5 .4-.8 .4 .1 .4-.2 .4 .2 .4 .9 .4-.3 .4-1.2 .4 .7 .4 1.4 .4-.5 .4 0 .4-.8 .4-.2 .4 .1 .4 1 .4-.9 .4 1.6 .4 .4 .4-2.7 .4 1.8 .4-1.3 .4 0 .4-2.9 .4 2.2 .4-2.4 .4 .9 .4 .9 .4 .5 .4-2.9 .4 .1 .4-.6 .4-1.4 .4 2.2 .4-.1 .4 .6 .4-.3 .4 .6 .4 .8 .4-3.7 .4 5.3 .4-2.5 .4 .3 .4 1.1 .4 2.1 .4-.3 .4 1 .4 1.4 .4-.6 .4 1.1 .4 .9 .4-.7 .4 2.7 .4-.9 .4 1.9 .4-.3 .4 1.1 .4 .5 .4 1.8 .4 .6 .4 .7 .4 0 .4 .3 .4 .7 .4 2 .4 .5 .4 2 .4 1 .4 .4 .4 .9 .4 1.3 .4 .9 .4-.1 .4 1.3 .4 .9 .4-.6 .4 1 .4 .6 .4 .2 .4 .9 .4-.2 .4 1.2 .4 .3 .4 .2 .4 .4 .4 0 .4 .8 .4 .1 .4 .1 .4 .1 .4 .1 .4 .2 .4-.2"/>
<path fill="#d41f24" stroke="none" d="M75.5 297.8l 1-.3 1-.3 1-.3 1-.3 1-.4 1-.3 1-.3 1-.2 1-.2 1-.3 1-.2 1-.2 1-.2 1-.2 1-.2 1-.1 1-.1 1-.2 1 0 1-.1 1-.1 1 0 1 0 1 0 1 0 1 0 1 0 1 0 1 0 1 0 1 0 1-.1 1 .1 1 0 1 0 1 0 1 0 1 0 1 0 1 0 1 .2 1 .1 1 .3 1 .1 1 .3 1 .2 1 .2 1 .3 1 .3 1 .3 1 .2 1 .3 1 .2 1 .3 1 .2 1 .2 1 .2 1 .2 1 .2 1 .1 1 .1 1 0 1-.1 1-.3 1-.4 1-.5 1-.4 1-.5 1-.5 1-.7 1-.8 1-1.3 1-1.2 1-1.1 1-1.2 1-1.1 1-1.4 1-1.6 1-1.8 1-2.9 1-3.3 1-3.4 1-3.1 1-3.2 1-2.8 1-1.5 1-1.1 1-1.9 1-1.7 1-1.8 1-.4 1 4.3 1 4.9 1 2.8 1 2.4 1 2.4 1 2.9 1 3.2 1 2.1 1-.1 1-1.3 1-1.8 1-1.9 1-1.8 1-2.7 1-2.3 1-1.6 1-2.4 1-2.1 1-2.3 1-1.6 1-.5 1 .7 1 2 1 2.9 1 3.6 1 3.6 1 3.8 1 3.5 1 2.6 1 2.4 1 2.2 1 2.1 1 1.7 1 1.1 1 1 1 1 1 .8 1 .8 1 .8 1 .6 1 .4 1 .3 1 .1 0 .1-1-.1-1-.2-1-.5-1-.5-1-.7-1-.7-1-1-1-.9-1-1-1-1.1-1-1.3-1-1.7-1-2.2-1-2.4-1-2.6-1-3.3-1-3.8-1-2.9-1-3.1-1-3.3-1-2.2-1-.2-1 1.4-1 1.7-1 1.8-1 1.5-1 1.5-1 2.7-1 2.1-1 1.5-1 2-1 1.5-1 1.8-1 1.2-1 .3-1-1.9-1-3.2-1-3-1-1.8-1-1.6-1-2.6-1-5.1-1-4.1-1 0-1 1.9-1 2.2-1 1-1 1.8-1 1.9-1 1.7-1 2.7-1 3.3-1 3.2-1 2.9-1 2.4-1 2.2-1 1.4-1 1.1-1 1.2-1 1-1 1.1-1 1.2-1 1.1-1 .8-1 .6-1 .5-1 .5-1 .4-1 .5-1 .4-1 .3-1 .1-1-.1-1 0-1-.1-1-.2-1-.1-1-.2-1-.2-1-.3-1-.2-1-.3-1-.3-1-.2-1-.3-1-.3-1-.2-1-.3-1-.2-1-.2-1-.2-1-.1-1-.1-1-.1-1-.1-1 0-1 0-1 0-1 0-1 0-1 0-1 0-1 0-1 0-1-.1-1 0-1 0-1 .1-1 0-1 0-1 0-1 0-1 0-1 0-1 .1-1 .1-1 .1-1 .1-1 .1-1 .2-1 .1-1 .2-1 .3-1 .2-1 .2-1 .3-1 .3-1 .3-1 .2-1 .3-1 .3-1 .3-1 .3-1 .3z"/>
<path stroke="#d41f24" d="M75.5 297.9l .4-.2 .4 0 .4-.2 .4-.2 .4-.2 .4 0 .4-.1 .4-.2 .4-.2 .4 0 .4 0 .4-.2 .4-.2 .4 0 .4 0 .4-.3 .4-.1 .4-.2 .4 0 .4 0 .4-.1 .4 0 .4-.2 .4-.1 .4-.1 .4-.3 .4 .2 .4-.2 .4 0 .4-.4 .4 .1 .4 0 .4-.3 .4 .1 .4 0 .4-.4 .4 .1 .4-.3 .4 .1 .4 0 .4 0 .4 .2 .4-.4 .4 .1 .4-.2 .4 .1 .4 .1 .4 0 .4-.3 .4-.1 .4 .2 .4-.1 .4-.2 .4 .4 .4-.1 .4 .2 .4-.5 .4 .2 .4 .1 .4 .3 .4-.3 .4-.2 .4 .2 .4 0 .4-.2 .4 .4 .4-.3 .4-.1 .4 .3 .4 0 .4-.2 .4 .1 .4 0 .4-.1 .4 0 .4 .2 .4 0 .4-.2 .4-.2 .4 0 .4 .4 .4-.3 .4 0 .4 .2 .4-.1 .4-.1 .4-.2 .4 .5 .4-.3 .4 .2 .4 0 .4-.3 .4 .1 .4 .3 .4-.1 .4-.1 .4 .3 .4-.4 .4 .2 .4 0 .4 0 .4-.2 .4 .4 .4 .1 .4-.3 .4 .4 .4 .1 .4 .2 .4-.3 .4 .2 .4 0 .4 .2 .4 .1 .4 .2 .4 .1 .4-.1 .4 .2 .4-.2 .4 .5 .4 .1 .4 .1 .4-.2 .4 .5 .4-.2 .4 0 .4 .3 .4 0 .4 .4 .4 0 .4 .2 .4-.1 .4 .2 .4 .1 .4 0 .4 .1 .4 .2 .4 .1 .4 .2 .4-.1 .4 0 .4 .3 .4-.1 .4 .2 .4 0 .4 0 .4 .2 .4 .1 .4 0 .4-.1 .4 .1 .4 0 .4 .1 .4 .1 .4-.1 .4 0 .4 .1 .4-.1 .4-.1 .4 0 .4-.2 .4-.2 .4 0 .4-.3 .4-.2 .4-.1 .4-.4 .4 0 .4-.3 .4-.3 .4-.1 .4 .1 .4-.4 .4-.4 .4-.1 .4-.2 .4-.4 .4-.4 .4-.4 .4-.5 .4-.2 .4-.6 .4-.5 .4-.5 .4 0 .4-.8 .4-.1 .4-1.3 .4-.5 .4-.5 .4-.2 .4 0 .4-1.1 .4-.1 .4-.9 .4 .1 .4-.8 .4-1.3 .4-1.7 .4 0 .4-2.3 .4-1.2 .4 .9 .4-2.1 .4-.5 .4-1.9 .4-.9 .4-1.6 .4-2.2 .4-1.1 .4-.3 .4-.6 .4-1 .4-.7 .4-1.1 .4 .1 .4-1.2 .4 1.9 .4-3.3 .4-1.8 .4 1.6 .4 1.7 .4-4.7 .4 1.7 .4 1.6 .4-2.9 .4-1.6 .4 .3 .4-.7 .4 2.4 .4 2.5 .4 4.4 .4 .8 .4-.2 .4 .4 .4 2.7 .4 .3 .4-.4 .4 3 .4 .7 .4-.7 .4 .6 .4 1.8 .4 2.2 .4-.1 .4 2.1 .4-.4 .4 1.2 .4 .1 .4-.2 .4 .4 .4-1.2 .4-.8 .4-.1 .4-1.4 .4 .7 .4-1.8 .4-.2 .4 .4 .4-1.5 .4-.3 .4-.7 .4-1.4 .4-1.8 .4 .6 .4-1.3 .4 .9 .4-2.5 .4-1.9 .4-.3 .4-.3 .4 .5 .4-.1 .4-1.8 .4 1 .4-.8 .4-3.6 .4 2 .4-4.3 .4 4.2 .4-2.9 .4 2.3 .4-1.7 .4 2.2 .4-.9 .4 1.2 .4 1.4 .4-.1 .4 0 .4 3.7 .4-.5 .4 2.1 .4 1.3 .4-.4 .4 4.7 .4 .4 .4 2.2 .4 .2 .4 1 .4-.3 .4 1.9 .4 .2 .4 1.3 .4 1.7 .4 .5 .4 .3 .4 1.4 .4 .8 .4 .5 .4 1.3 .4 .3 .4 .2 .4 .3 .4 .8 .4 .2 .4 .4 .4 .4 .4 .2 .4 .5 .4 .3 .4 .6 .4 .3 .4 .1 .4 .6 .4 0 .4 .4 .4 .2 .4 .1 .4 .3 .4 .2 .4 .2 .4 0 .4-.1 .4 .5 .4-.2 .4 .1"/>
<path fill="#1a1ad6" stroke="none" d="M75.5 326.6l 1-.2 1-.2 1-.2 1-.1 1-.2 1-.1 1-.2 1-.1 1-.2 1-.1 1-.1 1-.1 1-.2 1-.1 1 0 1-.1 1-.1 1-.1 1-.1 1 0 1-.1 1 0 1 0 1-.1 1 0 1 0 1 0 1 0 1 0 1 .1 1 .1 1 0 1 .1 1 .1 1 .1 1 .1 1 0 1 .1 1 .1 1 .1 1 .1 1 0 1 .1 1 0 1 .1 1 0 1 0 1 0 1 .1 1 0 1-.1 1 0 1 0 1 .1 1 0 1 0 1-.1 1 0 1 0 1 .1 1 0 1-.2 1-.3 1-.3 1-.3 1-.3 1-.3 1-.3 1-.4 1-.5 1-.6 1-1.3 1-2.9 1-3.7 1-3.7 1-3 1-3.2 1-3.4 1-3.5 1-3.5 1-4.1 1-3.9 1-1.6 1 5.9 1 5 1-7.1 1-1.2 1 1.9 1 2.4 1 2.7 1 3.7 1 3.1 1 3.7 1 2.6 1 1.5 1 1.4 1 1.2 1 .9 1 .5 1 0 1-.6 1-1.5 1-2.3 1-3 1-4.8 1-5.7 1-2.3 1-.8 1-.5 1-.3 1-.3 1 .4 1 .9 1-.3 1 1.3 1 6.3 1 5.6 1 2.2 1 1.6 1 1.5 1 1.9 1 2.6 1 2.6 1 2.3 1 1.7 1 1.5 1 1.3 1 1.1 1 .9 1 .5 1 .4 1 .4 1 .2 1 .1 0 0-1-.1-1-.2-1-.3-1-.4-1-.6-1-.8-1-1-1-1.2-1-1.3-1-1.5-1-2.4-1-2.7-1-2.4-1-1.9-1-1.3-1-1.3-1-2-1-5.1-1-5.6-1-1.5-1-.3-1 .9-1 .4-1-.3-1-.2-1-.1-1-.1-1 2.6-1 5.9-1 4.1-1 2.3-1 2.3-1 1.8-1 .6-1-.4-1-.7-1-.8-1-1.1-1-1.1-1-1.5-1-2.6-1-3-1-3.7-1-2.4-1-2.3-1-2.7-1-1.8-1 1.4-1 6-1-4.6-1-5-1 1.2-1 3.9-1 4.7-1 3.4-1 2.6-1 2.5-1 2.6-1 3.1-1 3.7-1 3.5-1 2.6-1 1.1-1 .6-1 .5-1 .4-1 .3-1 .3-1 .2-1 .3-1 .3-1 .3-1 .1-1 0-1 .1-1 0-1 0-1-.1-1 0-1 0-1 .1-1 0-1 0-1-.1-1 0-1 .1-1 0-1-.1-1 0-1-.1-1 0-1-.1-1-.1-1 0-1-.1-1-.1-1-.1-1 0-1-.1-1-.1-1 0-1-.1-1-.1-1 0-1 0-1-.1-1 0-1 0-1 0-1 0-1 0-1 0-1 .1-1 0-1 .1-1 0-1 .1-1 .1-1 0-1 .1-1 .1-1 .2-1 .1-1 .1-1 .1-1 .2-1 .1-1 .1-1 .2-1 .1-1 .2-1 .2-1 .2-1 .1z"/>
<path stroke="#1a1ad6" d="M75.5 326.5l .4 0 .4-.1 .4 .1 .4-.1 .4-.1 .4-.1 .4-.1 .4 0 .4-.1 .4-.1 .4-.2 .4 .1 .4 0 .4-.1 .4-.2 .4 .1 .4-.1 .4 0 .4-.2 .4 0 .4 0 .4-.1 .4-.1 .4-.1 .4 0 .4-.1 .4 .1 .4-.1 .4-.1 .4 .1 .4-.1 .4 .1 .4-.2 .4 0 .4 0 .4-.2 .4 .1 .4-.1 .4 0 .4 0 .4-.3 .4 .2 .4-.1 .4 .1 .4-.1 .4 0 .4 0 .4 0 .4-.1 .4-.2 .4 .1 .4 0 .4 0 .4-.2 .4 0 .4 .1 .4 0 .4 .1 .4-.1 .4 0 .4 0 .4 .1 .4 0 .4-.2 .4 .1 .4 .2 .4-.2 .4-.1 .4 .2 .4-.1 .4 .2 .4-.2 .4 .2 .4 0 .4 0 .4-.3 .4 .3 .4 .1 .4-.1 .4 0 .4-.1 .4 .3 .4 .1 .4-.1 .4-.1 .4 .1 .4-.1 .4 .3 .4 0 .4-.1 .4 0 .4 0 .4 .2 .4 .1 .4-.2 .4 0 .4-.1 .4 .3 .4-.2 .4 .4 .4-.1 .4 .1 .4 0 .4 0 .4 0 .4 0 .4 .1 .4-.1 .4 .1 .4 0 .4-.1 .4 .1 .4 0 .4 .1 .4 0 .4-.1 .4 .2 .4-.2 .4 0 .4 0 .4 .1 .4 .1 .4-.1 .4 0 .4-.1 .4 .1 .4 0 .4-.1 .4 .2 .4-.2 .4 0 .4 .2 .4-.1 .4 .1 .4 0 .4 .1 .4-.1 .4-.1 .4 0 .4 0 .4 .1 .4-.1 .4 0 .4 .1 .4 .1 .4-.2 .4 0 .4 .1 .4-.1 .4-.1 .4-.1 .4 .3 .4-.2 .4-.2 .4 .1 .4-.2 .4 .2 .4-.4 .4 0 .4 .1 .4-.5 .4-.1 .4-.1 .4-.1 .4 0 .4 0 .4-.2 .4-.1 .4-.2 .4 0 .4-.2 .4-.3 .4-.1 .4-.4 .4-.3 .4 .3 .4-.3 .4-.2 .4-.4 .4-1 .4-.6 .4-1.1 .4-1.5 .4-1.8 .4-1.1 .4-1.4 .4-2.1 .4-1.1 .4-1.2 .4-1.5 .4 .3 .4-2 .4-.5 .4-2.5 .4-.9 .4 .6 .4-3.5 .4 1.4 .4-3.7 .4-.3 .4-.2 .4-1.2 .4-2.6 .4-1.8 .4-.2 .4-2.7 .4 2.7 .4-1.7 .4 1.7 .4 4.9 .4-.4 .4 3.4 .4 .5 .4-3.8 .4-3.3 .4-3.1 .4 2.2 .4-2.4 .4 .6 .4 1.3 .4 .6 .4 2.2 .4 2.1 .4-.5 .4 .5 .4 1.8 .4 1.7 .4 2.6 .4-1 .4 1.6 .4 2.7 .4 .1 .4 .7 .4 1.6 .4 .3 .4 .7 .4 2 .4-.3 .4 0 .4 .3 .4 .2 .4 2.2 .4-.6 .4 0 .4 0 .4 .1 .4 1.5 .4-.1 .4 .4 .4-.9 .4 1 .4-1.6 .4-.3 .4-.4 .4 .5 .4-1.4 .4-1.8 .4 .4 .4-1.8 .4-1.1 .4-2 .4-1.4 .4-2.2 .4-1.5 .4-2.5 .4-1.3 .4-1.7 .4 1 .4-1.7 .4 3.4 .4-3.8 .4 1.7 .4-1.7 .4 1.3 .4-1 .4-.8 .4 2.6 .4-.8 .4 .3 .4-.5 .4 2.4 .4-1.9 .4 .1 .4 .7 .4-.7 .4 1.7 .4-3.2 .4 2.8 .4 .6 .4 5.3 .4 2.6 .4 .7 .4 2.7 .4-.6 .4 1.3 .4 .3 .4 .2 .4 .6 .4-.6 .4 1.4 .4 1.7 .4-.5 .4 2.1 .4 .3 .4 1.6 .4 .8 .4 .3 .4 1.6 .4 1 .4 .8 .4 .7 .4 .2 .4 1.1 .4 .6 .4 .2 .4 .8 .4 .3 .4 .3 .4 .6 .4 .4 .4 .4 .4 .3 .4 .3 .4 .2 .4 .1 .4 .2 .4 .2 .4 .2 .4 0 .4 .3 .4 0 .4 .1 .4 .1 .4 0 .4 0"/>
</g>
<g clip-path="url(#clipC)" fill="none" stroke-width="1.55" stroke-linejoin="round" stroke-linecap="butt">
<path fill="#a6a6a6" stroke="none" d="M239.8 42.9l 1 0 1 .1 1 0 1 0 1 .1 1 0 1 0 1 0 1 0 1 0 1 0 1 0 1-.1 1 0 1-.1 1-.1 1 0 1-.1 1 0 1-.1 1-.1 1-.1 1-.1 1-.2 1-.1 1-.2 1-.2 1-.2 1-.2 1-.2 1-.3 1-.3 1-.3 1-.4 1-.5 1-.4 1-.4 1-.5 1-.6 1-.6 1-.7 1-.6 1-.6 1-.7 1-.7 1-.7 1-1.3 1-1.3 1-1.2 1-1.3 1-1.8 1-1.8 1-1.7 1-1.8 1-2 1-2 1-1.6 1-2.4 1-2.1 1-1.7 1-1.9 1-1.9 1-1.1 1-2.7 1-2.2 1-.3 1 1.4 1 2.1 1 1.6 1 1.9 1 2.5 1 2.7 1 2.6 1 2.1 1 2.1 1 2.2 1 2 1 2 1 1.9 1 1.8 1 1.6 1 1.4 1 1.3 1 1.1 1 1 1 .9 1 .9 1 .7 1 .6 1 .5 1 .5 1 .5 1 .5 1 .3 1 .4 1 .4 1 .4 1 .3 1 .3 1 .3 1 .2 1 .2 1 .1 1 .2 1 .1 1 .1 1 .2 1 .1 1 .1 1 0 1 .1 1 .1 1 .1 1 .1 1 0 1 .1 1 .1 1 0 1 .1 1 0 1 0 1 0 1 .1 1 0 1 0 1 0 1 0 1 0 1 0 1 .1 1 0 1 0 1 0 1 0 1 0 .5 0 0 0-.5 0-1 0-1 0-1 0-1 0-1 0-1 0-1 0-1-.1-1 0-1 0-1 0-1 0-1-.1-1 0-1 0-1 0-1-.1-1 0-1-.1-1 0-1-.1-1-.1-1 0-1-.1-1-.1-1-.1-1-.1-1-.1-1-.1-1-.1-1-.1-1-.1-1-.2-1-.2-1-.2-1-.3-1-.3-1-.3-1-.4-1-.3-1-.4-1-.4-1-.4-1-.4-1-.4-1-.6-1-.6-1-.6-1-.8-1-.9-1-1-1-1.1-1-1.2-1-1.4-1-1.5-1-1.5-1-1.9-1-2-1-1.9-1-1.8-1-1.8-1-1.8-1-1.5-1-1.4-1-2-1-2.3-1-2.6-1-2.3-1-1.1-1 .7-1 1.4-1 1.5-1 2.4-1 1.9-1 1.8-1 1.8-1 1.3-1 1.1-1 1.8-1 1.7-1 1.9-1 1.9-1 1.7-1 1.7-1 1.4-1 1.5-1 1.4-1 1.1-1 .8-1 1-1 .7-1 .5-1 .5-1 .6-1 .6-1 .6-1 .5-1 .5-1 .5-1 .5-1 .3-1 .3-1 .3-1 .3-1 .3-1 .2-1 .2-1 .2-1 .2-1 .2-1 .1-1 .2-1 .1-1 .1-1 0-1 .1-1 .1-1 .1-1 0-1 .1-1 0-1 0-1 .1-1 0-1 0-1 0-1 0-1 0-1 0-1 0-1 0-1-.1-1 0-1 0-1-.1z"/>
<path stroke="#a6a6a6" d="M239.8 43l .4-.1 .4 .1 .4 0 .4 .1 .4-.1 .4 0 .4 0 .4 0 .4-.1 .4 .2 .4 .1 .4-.1 .4 0 .4 0 .4 .1 .4-.2 .4 .1 .4 0 .4 .1 .4-.1 .4 0 .4-.1 .4 .1 .4 .1 .4-.1 .4 .1 .4-.1 .4 .1 .4-.1 .4 0 .4 0 .4 0 .4 0 .4-.1 .4 0 .4 0 .4 0 .4 .1 .4-.2 .4-.1 .4 0 .4 0 .4 0 .4 0 .4 .1 .4-.2 .4-.1 .4 0 .4 0 .4 0 .4 0 .4-.1 .4 0 .4 0 .4 0 .4 0 .4-.2 .4 0 .4 .1 .4-.2 .4 .1 .4-.4 .4 0 .4 0 .4 0 .4 0 .4-.2 .4-.1 .4 .1 .4-.2 .4-.2 .4 0 .4 .1 .4 0 .4-.3 .4-.1 .4-.2 .4-.3 .4-.1 .4 .1 .4-.3 .4-.2 .4 .1 .4-.2 .4-.2 .4-.1 .4 0 .4-.1 .4-.3 .4-.1 .4-.4 .4 0 .4-.5 .4-.2 .4 .3 .4-.7 .4 .1 .4-.7 .4 0 .4-.1 .4-.5 .4 .1 .4-.5 .4-.2 .4-.1 .4-.4 .4 .2 .4-.7 .4 .3 .4-.8 .4-.2 .4-.4 .4 .2 .4-1.3 .4 .4 .4-.5 .4 0 .4-1.4 .4 .3 .4-1.1 .4 .4 .4-1.1 .4-.2 .4-1.2 .4 .1 .4-.3 .4-1.4 .4 .4 .4-.8 .4-1.8 .4 1.1 .4-2.5 .4 .2 .4-.3 .4-1.7 .4-1 .4 .3 .4-1 .4-1.7 .4-.7 .4 .2 .4 .1 .4-.4 .4-1 .4-2.1 .4-.5 .4-.3 .4-2 .4 1.5 .4-.5 .4-.7 .4-3.8 .4 4.6 .4-3.7 .4-.8 .4-.1 .4-3.4 .4 .4 .4-.1 .4 1.9 .4-2.9 .4 .8 .4-1.2 .4-.6 .4 1.2 .4-1.6 .4-1 .4 1.6 .4 2.1 .4 4.1 .4-3.9 .4 .8 .4 2.6 .4 1.1 .4-.8 .4 2.8 .4-1.4 .4 3.2 .4 .5 .4-.4 .4 2.4 .4-.9 .4 .1 .4 2.7 .4-1.6 .4 2.3 .4-.4 .4 1.1 .4 1.3 .4 .8 .4 1.7 .4-.1 .4 .8 .4-1 .4 1.2 .4 2.4 .4-.7 .4 1.1 .4 1 .4 .1 .4 .5 .4 1.3 .4 .4 .4 .3 .4 1.1 .4 0 .4 .6 .4 .7 .4 .5 .4 0 .4 .2 .4 .6 .4 .7 .4-.1 .4 .5 .4 .2 .4 .2 .4 .9 .4 .1 .4 .3 .4 .3 .4-.4 .4 .5 .4 .8 .4-.3 .4 .4 .4-.1 .4 .4 .4 .2 .4 .1 .4 .1 .4 .3 .4 .2 .4 .1 .4 .1 .4 .4 .4-.1 .4 .2 .4 .2 .4 0 .4 .4 .4 0 .4 .2 .4 0 .4 .2 .4 .1 .4 .1 .4 .3 .4-.1 .4 .2 .4 .1 .4 0 .4 0 .4 .1 .4 0 .4 .2 .4 .1 .4 .1 .4-.1 .4 0 .4 .2 .4 .1 .4 0 .4 0 .4 .1 .4 .1 .4 .1 .4 0 .4-.1 .4 .1 .4 .2 .4-.1 .4 .1 .4-.2 .4 .2 .4 .1 .4-.1 .4 .1 .4 0 .4 0 .4 .1 .4 0 .4 .1 .4-.1 .4 .1 .4 .1 .4 .1 .4-.2 .4 0 .4 .2 .4-.2 .4 .2 .4 0 .4 0 .4 0 .4 0 .4 0 .4 .2 .4-.2 .4 0 .4 .2 .4-.1 .4 .1 .4-.1 .4 0 .4 0 .4 .1 .4 0 .4-.1 .4 .1 .4-.1 .4 .1 .4 0 .4 0 .4 .1 .4-.2 .4 .1 .4 .1 .4 0 .4-.1 .4 .1 .4-.1 .4 0 .4 .1 .4-.1 .4 0 .4 0 .4 .1 .4-.1 .4 0 .4 .1 .4 0 .4 0 .4 0 .4 .1 .4-.2 .4 .1 .4 0 .3-.1"/>
<path fill="#356b20" stroke="none" d="M239 71l 1 0 1 0 1 0 1-.1 1-.1 1 0 1-.1 1-.1 1-.1 1-.1 1-.1 1-.1 1-.1 1-.2 1-.2 1-.3 1-.2 1-.3 1-.3 1-.2 1-.4 1-.4 1-.3 1-.3 1-.3 1-.4 1-.3 1-.3 1-.4 1-.4 1-.4 1-.5 1-.4 1-.5 1-.6 1-.6 1-.6 1-.4 1-.7 1-.7 1-.6 1-.6 1-1.1 1-.9 1-1 1-1.1 1-1.1 1-1.1 1-1.4 1-1.8 1-2.1 1-2.1 1-1.8 1-1.7 1-2.3 1-2.7 1-2.2 1-1.4 1-.4 1-1.3 1-.3 1-.2 1-.3 1-.3 1-.4 1-.1 1 .4 1 1.1 1 1.2 1 1.3 1 1.4 1 1.6 1 2.2 1 1.9 1 2.5 1 3.2 1 3 1 2 1 1.7 1 1.2 1 1.1 1 1.3 1 1.4 1 1.3 1 1.1 1 1 1 1.1 1 .9 1 .9 1 .8 1 .9 1 .6 1 .6 1 .6 1 .6 1 .5 1 .4 1 .4 1 .3 1 .3 1 .3 1 .2 1 .2 1 .2 1 .1 1 .1 1 0 1 0 1 .1 1 0 1 .1 1 0 1 0 1 .1 1 0 1 .1 1 0 1 0 1 0 1 .1 1 0 1 0 1 0 1 0 1 .1 1 0 1 0 1 0 1 0 1 0 1 0 1 0 1 0 1 0 1 0 1 .1 .3 0 0 0-.3 0-1 0-1 0-1 0-1 0-1 0-1-.1-1 0-1 0-1 0-1 0-1 0-1 0-1 0-1-.1-1 0-1 0-1 0-1-.1-1 0-1 0-1 0-1-.1-1 0-1 0-1-.1-1 0-1-.1-1 0-1-.1-1 0-1-.1-1-.1-1-.1-1-.2-1-.3-1-.2-1-.3-1-.3-1-.3-1-.5-1-.4-1-.5-1-.6-1-.6-1-.7-1-.6-1-.8-1-.9-1-.9-1-.9-1-1.1-1-1-1-1-1-.9-1-1.3-1-1.5-1-1.4-1-1.3-1-2-1-2.8-1-2.8-1-2.3-1-2.4-1-1.4-1-1.3-1-1-1-.6-1-.3-1-.2-1-.1-1-.5-1-.7-1-.3-1-.2-1 .2-1 .2-1 .4-1 1.8-1 1.6-1 1.6-1 1.6-1 2.4-1 2.3-1 2-1 1.7-1 1.4-1 1.3-1 1.2-1 1.3-1 1-1 1-1 1-1 .8-1 .6-1 .9-1 .7-1 .6-1 .5-1 .7-1 .5-1 .4-1 .4-1 .5-1 .4-1 .4-1 .4-1 .4-1 .3-1 .4-1 .4-1 .2-1 .4-1 .4-1 .3-1 .2-1 .3-1 .3-1 .3-1 .2-1 .2-1 .3-1 .2-1 .1-1 .2-1 .1-1 .1-1 .1-1 .1-1 .1-1 0-1 .1-1 .1-1 0-1 .1-1 0-1 0z"/>
<path stroke="#356b20" d="M239 71l .4 .2 .4-.1 .4 0 .4 .1 .4-.2 .4-.1 .4 0 .4 .1 .4 0 .4-.1 .4-.1 .4 .2 .4 0 .4-.3 .4 .1 .4-.2 .4 .1 .4-.1 .4 .1 .4-.1 .4-.1 .4 0 .4 .1 .4-.2 .4 .1 .4 .1 .4-.3 .4-.1 .4 0 .4 .2 .4-.3 .4 0 .4 0 .4 .1 .4-.4 .4 0 .4-.1 .4 .2 .4-.1 .4-.4 .4-.1 .4-.1 .4 0 .4-.2 .4 .1 .4-.2 .4 0 .4-.3 .4 0 .4-.3 .4-.1 .4 .1 .4-.5 .4 .3 .4-.4 .4-.2 .4-.2 .4 .4 .4-.6 .4-.2 .4-.2 .4 .5 .4-.3 .4-.2 .4-.1 .4-.5 .4 .3 .4-.6 .4 0 .4 .3 .4-.2 .4-.3 .4-.3 .4-.3 .4 .1 .4-.4 .4 .5 .4-.1 .4-.6 .4-.4 .4 .1 .4 0 .4-.6 .4-.6 .4 .4 .4 0 .4-.2 .4-1.1 .4 .5 .4-.5 .4-.4 .4-.2 .4 .5 .4-.9 .4-.2 .4-.1 .4-.4 .4 .4 .4-.5 .4 0 .4-.9 .4 .4 .4-.8 .4 .5 .4-.8 .4-.2 .4-.5 .4-.4 .4-.2 .4-.3 .4 .5 .4-2.1 .4 .7 .4-.6 .4-.1 .4-1.6 .4 .9 .4-1.4 .4-1 .4-.8 .4-.2 .4-.1 .4 .9 .4-2.6 .4-.6 .4-.4 .4-.6 .4 0 .4-.1 .4-2.4 .4-.9 .4 1.7 .4-2.9 .4 0 .4-1.5 .4-.1 .4-2 .4-.7 .4-.7 .4 2.5 .4-3.8 .4 .4 .4 1.2 .4-3.4 .4 2.8 .4-4 .4-1.7 .4 3.2 .4-2.6 .4 .6 .4-.5 .4 3.2 .4-3.3 .4 .7 .4-1.1 .4 1.2 .4-1.8 .4 1.3 .4-.6 .4-1.1 .4 2 .4-1.3 .4 1.3 .4-.4 .4 1.8 .4-2.1 .4-.6 .4 2.3 .4-1.3 .4 .9 .4 2.7 .4-2.1 .4-1.2 .4 3.1 .4 2.3 .4-2.6 .4 1.7 .4-3.1 .4 3.2 .4 .5 .4 1.5 .4-.6 .4 1.8 .4 1.2 .4-.3 .4 1.8 .4-1.6 .4 3.8 .4-.1 .4 1.7 .4 1.8 .4-1.7 .4 4 .4-2 .4 3 .4-.6 .4-.6 .4 3.1 .4 .2 .4-1.3 .4 1.2 .4 1 .4 .1 .4 1.1 .4-.2 .4-.2 .4 1.5 .4 .1 .4 0 .4 .2 .4 1.5 .4 0 .4 .8 .4 .4 .4 .3 .4 .5 .4 .7 .4 .4 .4 0 .4 .1 .4 .1 .4 .8 .4 .3 .4 .1 .4 .3 .4 .5 .4 .3 .4-.2 .4 .8 .4 .2 .4 .5 .4-.1 .4 .3 .4-.1 .4 .6 .4 0 .4 .2 .4 .1 .4 .7 .4-.2 .4 .4 .4 .1 .4 .2 .4 .2 .4 .1 .4 .3 .4-.1 .4 .1 .4 .2 .4 0 .4 0 .4 .2 .4 .2 .4-.1 .4 .3 .4 0 .4 .1 .4 .1 .4 0 .4 0 .4 .2 .4 0 .4 0 .4 .1 .4 0 .4 0 .4 .1 .4-.1 .4 .1 .4-.1 .4 .1 .4 .1 .4 0 .4 0 .4 0 .4 0 .4 0 .4 .1 .4-.2 .4 .1 .4 0 .4 0 .4 .1 .4 0 .4 0 .4-.1 .4 .1 .4 0 .4 .1 .4-.1 .4 0 .4 .1 .4-.1 .4 0 .4 .1 .4-.1 .4 .1 .4 0 .4 .1 .4-.1 .4 .1 .4 0 .4-.1 .4 .1 .4 0 .4 .1 .4-.1 .4 .1 .4-.1 .4 .1 .4 0 .4 0 .4 0 .4 0 .4-.1 .4 0 .4 .1 .4 .1 .4-.1 .4 .1 .4-.1 .4 0 .4 .1 .4 0 .4 0 .4-.2 .4 .2 .4 0 .4-.1 .4 0 .4 0 .4 .1 .4 0 .4-.2 .4 .2 .4 0 .4-.1 .4 0 .4 .1 .4-.1 .3 .1"/>
<path fill="#7d1111" stroke="none" d="M239 99.1l 1 0 1 0 1 0 1-.1 1 0 1 0 1-.1 1 0 1-.1 1-.1 1-.1 1 0 1-.1 1-.1 1-.1 1-.1 1-.1 1-.1 1-.1 1-.1 1-.1 1-.2 1-.2 1-.3 1-.3 1-.4 1-.4 1-.5 1-.4 1-.4 1-.5 1-.6 1-.5 1-.5 1-.5 1-.6 1-.6 1-.7 1-.7 1-.6 1-.7 1-.8 1-.8 1-.9 1-1.1 1-1.3 1-1.1 1-.9 1-1.1 1-1.6 1-1.9 1-1.8 1-1.7 1-1.9 1-2.2 1-1.9 1-1.7 1-1.7 1-2 1-1.9 1-1.3 1-1.3 1 .2 1 .8 1 .8 1 1 1 1 1 .7 1 .9 1 1.3 1 1.8 1 1.8 1 1.6 1 1.6 1 1.5 1 1.5 1 1.7 1 2 1 1.2 1 1.3 1 1.6 1 1.7 1 1.6 1 1.3 1 1.3 1 1.2 1 1.1 1 1.2 1 1.1 1 1 1 .9 1 .7 1 .5 1 .5 1 .5 1 .5 1 .3 1 .4 1 .2 1 .3 1 .2 1 .3 1 .2 1 .2 1 .2 1 .2 1 .2 1 .1 1 .1 1 0 1 .1 1 0 1 0 1 .1 1 0 1 .1 1 0 1 0 1 .1 1 0 1 0 1 0 1 .1 1 0 1 0 1 0 1 0 1 .1 1 0 1 0 1 0 1 0 1 0 1 0 1 0 1 0 .3 0 0 0-.3 0-1 0-1 0-1 0-1 0-1 0-1 0-1 0-1 0-1 0-1-.1-1 0-1 0-1 0-1 0-1-.1-1 0-1 0-1 0-1-.1-1 0-1 0-1-.1-1 0-1 0-1-.1-1 0-1-.1-1-.1-1-.1-1-.1-1-.2-1-.2-1-.2-1-.2-1-.2-1-.2-1-.3-1-.3-1-.3-1-.4-1-.3-1-.4-1-.5-1-.6-1-.7-1-.7-1-.9-1-1-1-1.2-1-1.2-1-1.1-1-1.2-1-1.3-1-1.2-1-1.2-1-1.3-1-1.6-1-1.7-1-1-1-1.4-1-1.5-1-1.6-1-1.4-1-1.3-1-1.2-1-1.3-1-1.6-1-1.9-1-1.6-1-.8-1-.9-1-.8-1-.2-1 .1-1 .5-1 1.8-1 1.3-1 1.8-1 2.5-1 2.6-1 1.9-1 1.3-1 1.5-1 1.7-1 1.4-1 1.2-1 1.2-1 1.6-1 1.4-1 1-1 .6-1 .7-1 .9-1 .7-1 .8-1 .7-1 .8-1 .6-1 .5-1 .6-1 .5-1 .5-1 .6-1 .5-1 .5-1 .5-1 .5-1 .4-1 .5-1 .3-1 .3-1 .3-1 .3-1 .1-1 .2-1 .1-1 .1-1 .1-1 .1-1 .1-1 .1-1 .1-1 .1-1 .1-1 .1-1 0-1 .1-1 0-1 .1-1 0-1 .1-1 0-1 0-1 0-1 .1-1 0z"/>
<path stroke="#7d1111" d="M239 99.1l .4-.1 .4 .2 .4 0 .4-.1 .4-.1 .4 .2 .4-.1 .4 0 .4 .1 .4 0 .4-.2 .4 .1 .4 0 .4 .1 .4-.4 .4 .3 .4-.1 .4 0 .4-.1 .4 .1 .4-.1 .4 0 .4-.2 .4 .2 .4-.1 .4 0 .4-.3 .4 .3 .4-.2 .4 .1 .4-.1 .4-.1 .4 0 .4 0 .4-.1 .4 .1 .4-.1 .4 .1 .4-.2 .4 0 .4 0 .4-.2 .4 0 .4 0 .4-.2 .4 .3 .4-.3 .4 0 .4 0 .4 .1 .4-.3 .4-.1 .4 0 .4 0 .4-.1 .4-.1 .4-.2 .4 0 .4 0 .4-.1 .4-.1 .4-.2 .4 0 .4-.3 .4 .1 .4-.2 .4-.3 .4 0 .4-.2 .4 .1 .4-.7 .4 0 .4-.2 .4-.3 .4-.1 .4 0 .4-.8 .4 .3 .4-.5 .4-.4 .4 .4 .4-.4 .4 0 .4-.7 .4 .2 .4 0 .4-.9 .4-.1 .4 .3 .4-.9 .4 .1 .4-.8 .4-.1 .4 .5 .4-.4 .4 0 .4-.6 .4-.3 .4-.5 .4 0 .4 .3 .4-.5 .4-1.3 .4-.2 .4 .3 .4-.3 .4-.3 .4-.4 .4 .5 .4-1.7 .4 .5 .4-.8 .4 .8 .4-1.6 .4-1 .4 1.5 .4-2.5 .4 .3 .4 .3 .4 .1 .4-2.4 .4 .1 .4-.7 .4 .1 .4-.2 .4-1.9 .4 .9 .4-2.2 .4 1.7 .4-1.2 .4-.1 .4-3.4 .4 2.5 .4-1.3 .4-2.5 .4-.2 .4-2.5 .4-.6 .4 .7 .4-.8 .4 2.4 .4-2 .4-1.5 .4-.9 .4 .9 .4-1.3 .4-.7 .4-3.4 .4 .4 .4 .6 .4-.6 .4-1.5 .4 1.2 .4-1.1 .4 2.3 .4-4.1 .4-.4 .4 1.1 .4 0 .4 .4 .4-2.3 .4 3.1 .4 2.7 .4-.1 .4-2.5 .4-.2 .4 .8 .4 .2 .4 1.4 .4 2.9 .4-.7 .4 2.1 .4-1.6 .4 1.9 .4-1.5 .4 .9 .4 2.8 .4-2.9 .4 .5 .4 3.2 .4-1.3 .4-.2 .4 1.8 .4-.8 .4 1.3 .4-.3 .4 1.5 .4 .9 .4-.1 .4 .3 .4 1.1 .4 1.3 .4 .8 .4 .2 .4 .7 .4-.1 .4 .6 .4 .8 .4 .5 .4 .4 .4-.4 .4 .9 .4 1.7 .4-.1 .4 1.1 .4 .4 .4 .6 .4 .7 .4 .9 .4 .7 .4-.5 .4 0 .4 1.4 .4-.1 .4 .8 .4 .2 .4 .9 .4 .2 .4 .4 .4 1 .4-.2 .4 .5 .4 .9 .4-.3 .4 .6 .4 .3 .4 .3 .4 .4 .4 .5 .4 .1 .4 .2 .4-.3 .4 .3 .4 .6 .4 .2 .4 0 .4 .2 .4 .3 .4 .2 .4-.2 .4 .2 .4 .6 .4 .1 .4 0 .4 0 .4 .1 .4 .2 .4 .3 .4-.2 .4 .1 .4 .2 .4 .1 .4 0 .4 .2 .4 .2 .4-.1 .4 .3 .4-.2 .4 .2 .4 .2 .4-.1 .4 0 .4 .4 .4-.1 .4-.1 .4 .3 .4 0 .4 .1 .4 0 .4 .2 .4 0 .4-.1 .4 0 .4 0 .4 0 .4 0 .4 0 .4 0 .4 .2 .4-.1 .4-.1 .4 0 .4 .1 .4 0 .4 0 .4 .2 .4-.2 .4 .2 .4 0 .4-.1 .4 .2 .4-.1 .4 .1 .4 0 .4 0 .4 0 .4 0 .4 0 .4 0 .4 .1 .4-.1 .4 .1 .4-.1 .4 .1 .4-.1 .4 .1 .4 0 .4-.1 .4 .1 .4 .1 .4-.1 .4 .1 .4-.1 .4 .1 .4 0 .4-.1 .4 .1 .4-.2 .4 .2 .4-.2 .4 .1 .4 .1 .4 0 .4-.1 .4 .1 .4 0 .4 0 .4 .1 .4-.1 .4 .1 .4 0 .4-.1 .4-.1 .4 0 .4 .1 .4 0 .4 0 .4-.1 .4 .1 .4 .1 .3-.1"/>
<path fill="#10107c" stroke="none" d="M237.4 128l 1 0 1-.1 1 0 1 0 1 0 1 0 1-.1 1 0 1-.1 1 0 1-.1 1 0 1-.1 1-.1 1 0 1-.1 1-.1 1-.1 1-.1 1-.1 1-.1 1-.1 1-.2 1-.1 1-.2 1-.3 1-.3 1-.4 1-.4 1-.5 1-.5 1-.4 1-.5 1-.6 1-.6 1-.6 1-.5 1-.5 1-.6 1-.8 1-.8 1-.6 1-.7 1-.9 1-.8 1-.9 1-1 1-1 1-1 1-1 1-1 1-1.1 1-1.3 1-1.2 1-1.3 1-1.4 1-1.5 1-1.5 1-1.6 1-2 1-1.9 1-2 1-3.1 1-2.2 1-1.3 1 1.2 1 5.1 1 2.6 1-1.4 1-2.8 1-3.6 1-1 1 2 1 1.6 1 2.3 1 2.8 1 2.6 1 2.5 1 2.1 1 1.6 1 1.5 1 1.7 1 1.8 1 1.7 1 1.7 1 1.6 1 1.5 1 1.4 1 1.2 1 .9 1 1 1 .8 1 .8 1 .7 1 .8 1 .8 1 .8 1 .9 1 .7 1 .7 1 .5 1 .3 1 .2 1 .2 1 .1 1 .2 1 .1 1 .1 1 .1 1 .1 1 0 1 0 1 .1 1 0 1 0 1 0 1 .1 1 0 1 0 1 0 1 0 1 .1 1 0 1 0 1 0 1 0 1 0 1 0 1 0 1 0 1 .1 1 0 1 0 1 0 1 0 1 0 1 0 .9 0 0 0-.9 0-1 0-1 0-1 0-1 0-1 0-1 0-1 0-1 0-1-.1-1 0-1 0-1 0-1 0-1 0-1 0-1 0-1-.1-1 0-1 0-1 0-1 0-1-.1-1 0-1 0-1 0-1-.1-1 0-1-.1-1-.1-1-.1-1-.1-1-.1-1-.2-1-.2-1-.1-1-.3-1-.5-1-.6-1-.8-1-.7-1-.8-1-.8-1-.7-1-.7-1-.7-1-.9-1-.7-1-1-1-1.1-1-1.2-1-1.3-1-1.3-1-1.3-1-1.3-1-1.4-1-1.6-1-1.9-1-2-1-1.7-1-1.3-1-1.7-1-2.6-1-3.4-1-2.9-1-.5-1 .5-1 2.6-1 3.7-1 1.2-1-3.6-1-4.2-1-1.4-1 1.2-1 2.5-1 2.2-1 2.5-1 1.6-1 1.5-1 1.6-1 1.6-1 1.3-1 1.2-1 1.3-1 1.3-1 1-1 1.1-1 1.2-1 1-1 .8-1 .8-1 .8-1 .8-1 .9-1 .7-1 .9-1 .8-1 .6-1 .5-1 .6-1 .7-1 .5-1 .5-1 .4-1 .5-1 .5-1 .5-1 .5-1 .3-1 .4-1 .4-1 .3-1 .3-1 .3-1 .1-1 .1-1 .1-1 .1-1 .1-1 .1-1 0-1 .1-1 .1-1 .1-1 .1-1 0-1 .1-1 0-1 .1-1 0-1 .1-1 0-1 0-1 .1-1 0-1 0-1 0-1 0z"/>
<path stroke="#10107c" d="M237.4 127.9l .4 .1 .4 0 .4 0 .4-.2 .4 .1 .4 .1 .4-.1 .4-.1 .4 .1 .4 .1 .4-.1 .4 0 .4 0 .4 .1 .4-.1 .4 .1 .4-.2 .4 0 .4 .1 .4 0 .4-.1 .4-.1 .4 0 .4 0 .4 .1 .4-.1 .4 0 .4 0 .4 0 .4-.1 .4 0 .4-.2 .4 .1 .4 0 .4 0 .4-.1 .4 0 .4 0 .4-.1 .4-.1 .4 0 .4 0 .4-.1 .4 0 .4 .1 .4 .1 .4-.2 .4-.1 .4-.1 .4-.1 .4 .2 .4 0 .4-.2 .4-.1 .4 .1 .4-.1 .4-.2 .4 .1 .4 0 .4 .1 .4-.5 .4 0 .4 0 .4 0 .4-.1 .4-.2 .4-.2 .4-.3 .4 .2 .4-.5 .4 0 .4-.3 .4 .2 .4-.4 .4-.4 .4 .1 .4 .1 .4-.4 .4-.4 .4 .2 .4-.2 .4-.5 .4 0 .4-.6 .4 .3 .4-.1 .4-.4 .4-.8 .4 .4 .4-.5 .4-.3 .4 .2 .4-.8 .4 0 .4-.3 .4 .4 .4-.2 .4-.2 .4-.8 .4-.2 .4-.6 .4-.6 .4 .4 .4-.3 .4-.6 .4-.8 .4 .7 .4-.9 .4 .1 .4-.3 .4-.9 .4 .5 .4-.2 .4-1.2 .4 0 .4-.2 .4-.4 .4-.8 .4 .2 .4-1 .4-.2 .4-1.1 .4-.2 .4-.1 .4 .3 .4-.6 .4 .1 .4-2.3 .4 1.1 .4-1 .4-1.1 .4 1.8 .4-.9 .4-.8 .4 0 .4-.2 .4-1.1 .4-2.2 .4 0 .4 .2 .4-.5 .4 1.2 .4-3 .4-.3 .4 1.1 .4-2 .4-.2 .4-.2 .4 0 .4-1 .4-.3 .4-2.5 .4-.5 .4-.8 .4-.1 .4-.6 .4-4.4 .4 4.8 .4-5.6 .4 .6 .4 0 .4 .6 .4-.7 .4 1.9 .4 1.2 .4-.7 .4 4 .4-2.1 .4 1 .4 4.6 .4-.4 .4-3.1 .4-.8 .4-1.1 .4-1.7 .4-1.7 .4-1.3 .4-2.3 .4 2.6 .4-1.4 .4 4.6 .4-2.1 .4 2.4 .4-3.5 .4 .3 .4 2.9 .4 3.8 .4-.8 .4 .8 .4 .7 .4-.2 .4 .9 .4 4 .4-3 .4 2.9 .4 .7 .4-1.4 .4 2.5 .4 1.7 .4 .6 .4-.7 .4-.1 .4 .2 .4 2.1 .4 .8 .4-1.1 .4 2.3 .4-.8 .4 1.5 .4 .6 .4 .9 .4 .2 .4 1.1 .4 .6 .4 .3 .4 .8 .4 0 .4 .7 .4 .6 .4 .5 .4 .5 .4-.4 .4 1.1 .4 .7 .4 .2 .4 0 .4 .7 .4 .3 .4 .3 .4 .2 .4 .3 .4 .2 .4 .9 .4 .1 .4 .5 .4-.4 .4 .2 .4 .3 .4 .6 .4 .1 .4 .6 .4 .3 .4 .6 .4 .2 .4 .3 .4 0 .4 .2 .4 .6 .4 .2 .4 .2 .4 .4 .4 .2 .4 .1 .4 .2 .4 0 .4 0 .4 .1 .4 .1 .4 0 .4 .2 .4-.1 .4 .2 .4 0 .4 0 .4 .1 .4 .2 .4-.2 .4 .2 .4-.1 .4 0 .4 .1 .4 .1 .4-.1 .4 .1 .4 .1 .4 0 .4 0 .4 0 .4 0 .4 .1 .4 0 .4 .1 .4 0 .4-.2 .4 .2 .4-.1 .4 .1 .4-.1 .4 .1 .4-.2 .4 .2 .4 0 .4-.1 .4 0 .4 .2 .4-.1 .4 0 .4 .1 .4-.1 .4 .1 .4 0 .4 0 .4 0 .4 .1 .4-.3 .4 .2 .4 0 .4-.1 .4 .1 .4-.1 .4 .1 .4 0 .4 0 .4 0 .4 0 .4 0 .4-.1 .4 .2 .4 0 .4 0 .4-.1 .4 0 .4 0 .4 .1 .4-.1 .4 .1 .4 0 .4 0 .4 .1 .4-.2 .4 .1 .4 .1 .4-.1 .4-.1 .4 .1 .4-.1 .4 .1 .4 0 .4 0 .4 0 .4-.1 .4 0 .4 .1 .4-.1 .3 .1"/>
<path fill="#8c2a2a" stroke="none" d="M243.7 156.5l 1 0 1 0 1 0 1 0 1 0 1 0 1-.1 1 0 1 0 1 0 1-.1 1 0 1 0 1-.1 1 0 1-.1 1 0 1-.1 1-.2 1-.1 1-.2 1-.3 1-.2 1-.3 1-.3 1-.4 1-.3 1-.4 1-.3 1-.4 1-.4 1-.5 1-.4 1-.7 1-.7 1-.6 1-.7 1-.7 1-.8 1-.9 1-1 1-.7 1-1 1-1.3 1-1.2 1-1.3 1-1.3 1-1.2 1-1.4 1-1.9 1-2.4 1-2.5 1-2.1 1-1.7 1-1.6 1-1.7 1-1.7 1-1.7 1-1.2 1-.7 1-1.2 1-1.2 1 0 1 1.2 1 1.6 1 2 1 1.5 1 1.7 1 1.7 1 1.8 1 2 1 1.9 1 1.7 1 1.6 1 1.5 1 1.5 1 1.5 1 1.7 1 1.6 1 1.5 1 1.4 1 1.2 1 1.2 1 1.1 1 1.1 1 1 1 .9 1 .8 1 .7 1 .7 1 .6 1 .6 1 .5 1 .4 1 .3 1 .3 1 .2 1 .3 1 .2 1 .1 1 .2 1 .2 1 .1 1 .1 1 .1 1 0 1 0 1 .1 1 0 1 0 1 0 1 .1 1 0 1 0 1 0 1 0 1 0 1 0 1 .1 1 0 1 0 1 0 1 0 1 0 1 0 1 0 1 0 1 0 1 0 1 0 1 0 .6 0 0 0-.6 0-1 0-1 0-1 0-1 0-1 0-1 0-1 0-1 0-1 0-1 0-1 0-1 0-1 0-1 0-1-.1-1 0-1 0-1 0-1 0-1 0-1-.1-1 0-1 0-1 0-1 0-1-.1-1-.1-1-.1-1-.1-1-.1-1-.2-1-.2-1-.2-1-.2-1-.2-1-.2-1-.3-1-.5-1-.5-1-.5-1-.6-1-.6-1-.7-1-.8-1-.8-1-1-1-1-1-1.2-1-1.1-1-1.1-1-1.1-1-1.1-1-1.2-1-1.3-1-1.4-1-1.6-1-1.7-1-1.9-1-2-1-1.7-1-1.6-1-1.5-1-1.5-1-1.8-1-2-1-1.2-1-.8-1-.1-1-.1-1-.1-1 .8-1 1.8-1 1.7-1 1.3-1 1.2-1 1.3-1 1.8-1 1.8-1 1.5-1 1.5-1 1.8-1 1.8-1 1.8-1 1.5-1 1.2-1 1.1-1 1-1 .8-1 1-1 1.1-1 .7-1 .7-1 .6-1 .7-1 .8-1 .6-1 .6-1 .5-1 .6-1 .4-1 .3-1 .4-1 .4-1 .3-1 .3-1 .3-1 .3-1 .3-1 .2-1 .2-1 .2-1 .2-1 .1-1 .1-1 .1-1 0-1 .1-1 0-1 0-1 .1-1 0-1 0-1 .1-1 0-1 0-1 0-1 0-1 0-1 0-1 .1-1 0z"/>
<path stroke="#8c2a2a" d="M243.7 156.6l .4 0 .4-.2 .4 .1 .4 0 .4 0 .4 0 .4 0 .4 .1 .4-.1 .4 0 .4 .1 .4-.1 .4-.1 .4 0 .4 .1 .4 0 .4-.1 .4 0 .4 .1 .4-.1 .4 0 .4 0 .4-.1 .4 0 .4 0 .4 0 .4-.1 .4 .1 .4 .1 .4-.1 .4 0 .4 0 .4-.1 .4 0 .4 0 .4 .1 .4-.2 .4 .2 .4-.2 .4 0 .4 0 .4 .2 .4-.4 .4 .3 .4-.1 .4-.2 .4 0 .4 0 .4 0 .4-.2 .4-.1 .4-.1 .4 0 .4-.2 .4-.1 .4 0 .4-.1 .4-.3 .4 .1 .4-.3 .4 0 .4-.3 .4 .2 .4-.3 .4-.1 .4-.1 .4-.2 .4 0 .4-.2 .4-.1 .4-.3 .4 0 .4 0 .4-.3 .4-.2 .4 0 .4-.5 .4 0 .4-.3 .4 .1 .4-.2 .4-.5 .4 .3 .4-.6 .4-.2 .4-.1 .4-.4 .4 0 .4-.6 .4 .2 .4-.3 .4-1 .4 .3 .4 .1 .4-1.2 .4 .3 .4 .1 .4-.9 .4-.7 .4-.1 .4-.9 .4 .4 .4-.6 .4 .3 .4-.9 .4-1 .4 .1 .4-.3 .4 .6 .4-1.1 .4 .1 .4-1.6 .4 .4 .4-1.1 .4 .4 .4-2.3 .4 1.4 .4-1.3 .4-1.7 .4 .5 .4 .3 .4-1.8 .4-1 .4-.6 .4 1.6 .4-2.6 .4 1.2 .4-4.3 .4 .9 .4-.2 .4-1.9 .4-.4 .4 1.2 .4-4 .4 1.6 .4 1.3 .4-4.6 .4-.8 .4-.2 .4 .4 .4 1.5 .4-3.1 .4-1.8 .4 .9 .4-1.8 .4 3.1 .4-3.3 .4-.3 .4 3.4 .4-.2 .4-1.8 .4-1.7 .4-.8 .4 .9 .4-.4 .4 0 .4-.3 .4-.7 .4 .3 .4 1.3 .4-.2 .4 1.6 .4-1.5 .4 2.6 .4-2.8 .4 3.2 .4 .1 .4 2.2 .4 0 .4-.1 .4 .8 .4 1.4 .4 1.3 .4-1 .4 .5 .4 .2 .4-.2 .4 2.5 .4 2.4 .4-1.2 .4 2.4 .4 .1 .4-1.6 .4 1.1 .4 1.8 .4 .6 .4 .1 .4 2 .4-1.3 .4 1.3 .4-1 .4 2.6 .4-.9 .4 1.8 .4-.6 .4 1.8 .4-.5 .4 1.2 .4 .8 .4 .1 .4 .2 .4 .5 .4-.1 .4 .9 .4 1.6 .4-.2 .4 1.1 .4-.2 .4 .1 .4 1.1 .4 .4 .4 0 .4 .5 .4-.2 .4 .8 .4 .3 .4 .1 .4 .9 .4 .2 .4 .5 .4 0 .4 .1 .4 .2 .4 .6 .4 .3 .4 .3 .4 .3 .4 0 .4 0 .4 .7 .4 .2 .4-.2 .4 .5 .4 0 .4 .3 .4-.1 .4 .2 .4 .1 .4 .1 .4 .1 .4 .1 .4 0 .4 .1 .4 .3 .4 .1 .4 0 .4 .1 .4 0 .4 .2 .4-.1 .4 .1 .4 .1 .4 .1 .4 0 .4 .2 .4-.2 .4 .2 .4 0 .4 0 .4 0 .4 .1 .4 0 .4 .1 .4 .1 .4-.1 .4 .1 .4 0 .4-.2 .4 .3 .4-.1 .4-.1 .4 0 .4 0 .4 .2 .4 0 .4-.1 .4 .1 .4-.2 .4 .1 .4 0 .4 0 .4 .1 .4 0 .4 0 .4 0 .4 0 .4 0 .4 .1 .4 0 .4-.1 .4 0 .4 .1 .4 0 .4 0 .4-.2 .4 .3 .4-.3 .4 .2 .4-.1 .4 .1 .4 0 .4-.1 .4 0 .4 .1 .4 .1 .4-.2 .4 0 .4 .1 .4 0 .4 0 .4 0 .4-.1 .4 .2 .4-.1 .4 .1 .4-.2 .4 0 .4 .1 .4 0 .4-.1 .4 .1 .4 .1 .4-.1 .4 0 .4 0 .4-.1 .4 .1 .4 .1 .4-.1"/>
<path fill="#dd1fdd" stroke="none" d="M241.4 184.7l 1 0 1 0 1-.1 1 0 1-.1 1-.1 1-.1 1-.1 1-.1 1-.1 1-.1 1-.2 1-.1 1-.2 1-.1 1-.2 1-.2 1-.2 1-.2 1-.2 1-.3 1-.3 1-.4 1-.4 1-.5 1-.5 1-.5 1-.6 1-.6 1-.5 1-.6 1-.7 1-.4 1-.6 1-.6 1-.6 1-.6 1-.6 1-.8 1-.8 1-.8 1-.8 1-.9 1-1 1-1.1 1-1.3 1-1.3 1-1.4 1-2.1 1-1.8 1-1.8 1-1.7 1-1.5 1-1.4 1-2.4 1-2.1 1-1.5 1-.7 1-.3 1-.8 1-.9 1 0 1 .5 1 .4 1 .3 1 .4 1 0 1-1 1-1.3 1-.7 1 .3 1-.5 1 1.3 1 1.9 1 2.6 1 2.5 1 3.2 1 3.8 1 2.5 1 2.4 1 2.4 1 1.8 1 2.1 1 1.3 1 1.3 1 1.2 1 1.1 1 1.1 1 1 1 1.1 1 .9 1 .8 1 .8 1 .8 1 .9 1 .8 1 .7 1 .5 1 .3 1 .2 1 .2 1 .2 1 .2 1 .2 1 .1 1 .1 1 .1 1 .1 1 0 1 0 1 .1 1 0 1 0 1 .1 1 0 1 0 1 .1 1 0 1 0 1 0 1 .1 1 0 1 0 1 0 1 0 1 0 1 0 1 .1 1 0 1 0 1 0 1 0 1 0 .9 0 0 0-.9 0-1 0-1 0-1 0-1 0-1 0-1 0-1 0-1-.1-1 0-1 0-1 0-1 0-1 0-1-.1-1 0-1 0-1 0-1-.1-1 0-1 0-1-.1-1 0-1 0-1-.1-1 0-1-.1-1-.1-1-.1-1-.1-1-.1-1-.2-1-.2-1-.2-1-.2-1-.4-1-.5-1-.6-1-.8-1-.8-1-.8-1-.7-1-.8-1-.7-1-.6-1-.7-1-.9-1-1-1-1.3-1-1.6-1-1.8-1-1.6-1-2.1-1-1.7-1-2.1-1-2.9-1-2-1-2.2-1-2.6-1-3.1-1-3.1-1-.9-1-.1-1 1.7-1 1-1 .1-1-.4-1-.1-1 .1-1-.1-1 .1-1 .2-1 0-1-.2-1 .5-1 1.4-1 1.2-1 1-1 1.3-1 1.3-1 2.2-1 1.8-1 1.6-1 1.6-1 1.5-1 1.2-1 1.6-1 1.6-1 1.2-1 .9-1 .8-1 .9-1 .7-1 .7-1 .6-1 .5-1 .7-1 .6-1 .5-1 .6-1 .5-1 .6-1 .5-1 .5-1 .6-1 .5-1 .5-1 .5-1 .5-1 .5-1 .4-1 .3-1 .4-1 .3-1 .2-1 .2-1 .1-1 .2-1 .2-1 .1-1 .2-1 .1-1 .1-1 .2-1 .1-1 .1-1 .1-1 .1-1 0-1 .1-1 0-1 .1-1 0-1 0z"/>
<path stroke="#dd1fdd" d="M241.4 184.7l .4-.1 .4 0 .4 .2 .4-.1 .4 0 .4 0 .4-.1 .4 .1 .4-.1 .4-.1 .4 .2 .4-.1 .4-.1 .4 .1 .4-.1 .4 0 .4-.1 .4 0 .4-.2 .4 0 .4 0 .4 0 .4-.1 .4 0 .4 0 .4-.2 .4 0 .4-.1 .4 .1 .4-.2 .4-.2 .4 .1 .4 .1 .4-.2 .4 0 .4-.1 .4 0 .4-.2 .4 .1 .4-.2 .4 .1 .4-.2 .4-.2 .4 .1 .4-.2 .4 .1 .4-.1 .4-.1 .4-.3 .4 .2 .4-.4 .4 .3 .4-.3 .4-.3 .4-.2 .4 .2 .4-.2 .4-.5 .4 .2 .4-.5 .4 .1 .4-.3 .4-.5 .4-.2 .4-.1 .4 .3 .4-.6 .4-.1 .4-.2 .4-.6 .4 .6 .4-.8 .4-.1 .4 0 .4-.9 .4 .6 .4-.6 .4-.2 .4 .3 .4-.3 .4-.4 .4-.8 .4-.2 .4-.2 .4 0 .4 .5 .4-1 .4 .1 .4-.9 .4-.3 .4-.4 .4 .1 .4-.3 .4 .6 .4-.7 .4 .3 .4-1.3 .4 .8 .4-.8 .4 .1 .4-.5 .4-.8 .4 .3 .4-.8 .4 .4 .4-1.7 .4 .9 .4-1.4 .4-.8 .4 1.9 .4-.9 .4-1 .4-1.4 .4 .7 .4-1.1 .4 .3 .4-1.5 .4 .8 .4-2.3 .4 1.8 .4-.6 .4-3.9 .4 .8 .4 .5 .4-3.3 .4 0 .4-.8 .4 1.1 .4-1.8 .4-.5 .4 2 .4-3.3 .4 .3 .4-2.5 .4-.8 .4 2 .4-.7 .4-1.8 .4-1.3 .4 1 .4-.9 .4-1.6 .4 0 .4-1.5 .4 1.1 .4 1.5 .4 1.2 .4-4.5 .4 1.6 .4-.1 .4-.3 .4 2.1 .4-2 .4 2.4 .4-2.4 .4 .9 .4-4.4 .4 2.2 .4 1.2 .4-.6 .4-.9 .4 2.6 .4-.9 .4 .3 .4-3.4 .4 2.7 .4 3.2 .4-4.4 .4-1.5 .4 4.2 .4-4.7 .4 2.8 .4-2.1 .4 2.4 .4-.8 .4 1.4 .4-.5 .4 1.2 .4-5.4 .4 4.1 .4-2.5 .4 .5 .4 2.4 .4-.4 .4 1.2 .4 1.6 .4 .2 .4 .9 .4 2.4 .4 1.3 .4 .3 .4-.3 .4-.5 .4 1 .4 2.5 .4 .3 .4 1.9 .4 0 .4 1.9 .4 .6 .4 1.4 .4 .5 .4-.6 .4 3 .4-.1 .4 1.1 .4-.3 .4 .2 .4 1.9 .4 1.5 .4-.8 .4 .5 .4 1.7 .4-.2 .4 .3 .4 1.3 .4-.7 .4 .5 .4 .5 .4 .9 .4 .2 .4 .3 .4-.1 .4 .9 .4-.5 .4 .7 .4 .9 .4-.7 .4 .8 .4 .5 .4 .1 .4 .8 .4-.2 .4 .8 .4 .1 .4-.1 .4 .4 .4 .6 .4 .4 .4 0 .4 .4 .4 .2 .4 .2 .4 .5 .4-.1 .4 .4 .4-.2 .4 .4 .4 0 .4 .1 .4 0 .4 0 .4 .2 .4 0 .4 .1 .4 .1 .4 .3 .4 0 .4 .1 .4-.1 .4 .1 .4 0 .4 0 .4 .1 .4 .1 .4 .1 .4 0 .4-.2 .4 .1 .4 .2 .4-.1 .4 0 .4-.1 .4 .2 .4-.1 .4 0 .4 .2 .4-.1 .4 0 .4 .1 .4-.2 .4 .1 .4 0 .4 .1 .4-.1 .4 .1 .4 0 .4 .1 .4 0 .4 0 .4-.1 .4 0 .4 0 .4 0 .4 .1 .4 0 .4-.1 .4 .1 .4 .1 .4-.1 .4 0 .4 0 .4 .1 .4 0 .4 0 .4-.1 .4 .1 .4 .1 .4-.1 .4 .1 .4-.1 .4 .1 .4-.1 .4 0 .4 0 .4-.1 .4 .2 .4 0 .4-.1 .4 .1 .4 0 .4 0 .4-.1 .4 .1 .4 .1 .4-.1 .4 0 .4-.1 .4 .1 .4 0 .4-.1 .4 .1 .4 0 .4 0 .3-.1"/>
<path fill="#e9a539" stroke="none" d="M245.3 213l 1 0 1 0 1 0 1-.1 1-.1 1-.1 1-.1 1-.1 1-.2 1-.1 1-.2 1-.1 1-.2 1-.2 1-.2 1-.2 1-.3 1-.3 1-.4 1-.4 1-.4 1-.5 1-.5 1-.5 1-.6 1-.6 1-.6 1-.6 1-.6 1-.7 1-1 1-.9 1-.8 1-.6 1-.8 1-1.1 1-1.1 1-.9 1-.8 1-1.4 1-1.4 1-1.6 1-1.6 1-1.1 1-1.2 1-2.2 1-1.6 1-.9 1-.9 1-1.7 1-1.5 1-1.5 1-1.2 1-.8 1-.7 1-.4 1-.7 1-1 1-.2 1-.1 1 .2 1 .5 1 .1 1 .6 1 1 1 .8 1 .7 1 1 1 1.2 1 1.4 1 1.9 1 1.6 1 2 1 2.9 1 2.7 1 2.4 1 2.2 1 2.4 1 2.1 1 1.7 1 1.2 1 1.1 1 .9 1 .9 1 .8 1 .8 1 .6 1 .7 1 .6 1 .6 1 .6 1 .5 1 .4 1 .3 1 .3 1 .2 1 .1 1 .2 1 .2 1 .1 1 .1 1 .1 1 .1 1 0 1 .1 1 0 1 0 1 0 1 0 1 .1 1 0 1 0 1 0 1 0 1 0 1 .1 1 0 1 0 1 0 1 0 1 0 1 0 1 0 1 0 1 0 1 0 1 .1 1-.1 1 .1 1 0 0 0-1 0-1 0-1 0-1 0-1 0-1 0-1-.1-1 0-1 0-1 0-1 0-1 0-1 0-1 0-1 0-1 0-1-.1-1 0-1 0-1 0-1 0-1-.1-1 0-1 0-1 0-1 0-1-.1-1-.1-1-.1-1-.1-1-.1-1-.1-1-.2-1-.1-1-.2-1-.3-1-.3-1-.4-1-.5-1-.5-1-.5-1-.6-1-.6-1-.6-1-.8-1-.7-1-.9-1-1-1-1-1-1.2-1-1.6-1-1.9-1-2.1-1-2.4-1-2.2-1-2.4-1-2.1-1-2.2-1-1.8-1-1.2-1-1.4-1-1.2-1-1.2-1-.9-1-.6-1-.4-1-.6-1-.9-1-.1-1 0-1 .3-1 .6-1 .2-1 .8-1 1.1-1 1-1 .9-1 .7-1 .9-1 1.1-1 1.1-1 1.9-1 1.7-1 1.2-1 .7-1 1.9-1 1.8-1 1.3-1 .9-1 .9-1 .8-1 1.2-1 1.1-1 .8-1 .8-1 1-1 1-1 .9-1 .5-1 .5-1 .5-1 .6-1 .6-1 .5-1 .6-1 .5-1 .5-1 .5-1 .5-1 .4-1 .4-1 .4-1 .3-1 .3-1 .2-1 .1-1 .2-1 .2-1 .1-1 .2-1 .1-1 .2-1 .1-1 .1-1 .1-1 0-1 .1-1 0-1 .1-1 0z"/>
<path stroke="#e9a539" d="M245.3 213.1l .4 0 .4-.1 .4-.1 .4 .1 .4 0 .4 0 .4 .1 .4 0 .4-.2 .4 0 .4-.1 .4 .1 .4-.1 .4 0 .4-.2 .4 .1 .4 0 .4-.2 .4 0 .4 0 .4 .1 .4-.2 .4 .1 .4 0 .4-.2 .4-.1 .4-.1 .4-.2 .4 .1 .4-.3 .4 .2 .4-.2 .4 .2 .4-.3 .4 0 .4-.1 .4-.1 .4 .2 .4-.3 .4 0 .4-.2 .4-.2 .4 0 .4-.1 .4 0 .4-.4 .4 0 .4-.3 .4 .1 .4-.6 .4 .2 .4-.5 .4 .1 .4-.4 .4 0 .4-.4 .4-.1 .4-.4 .4-.1 .4-.3 .4-.4 .4 .3 .4-.7 .4 .1 .4 .2 .4-.8 .4 0 .4-.8 .4 .4 .4-.4 .4-.3 .4 .4 .4-1 .4 .3 .4-1.1 .4-.4 .4 .4 .4 .3 .4-1 .4-.3 .4-.5 .4 .1 .4 .1 .4-.8 .4 0 .4-1.6 .4 .8 .4-.4 .4-.6 .4 .3 .4-.9 .4-.5 .4-.2 .4-.5 .4-1.3 .4 .1 .4 .7 .4-1 .4-1.2 .4 .6 .4-1 .4-.4 .4-.9 .4 .1 .4-.5 .4 .1 .4-1.6 .4 .6 .4-3 .4 1 .4-.3 .4-1.6 .4 .3 .4-.7 .4-.4 .4 .2 .4-.3 .4-.7 .4-2.7 .4 1.6 .4-.7 .4-.5 .4-1.9 .4-2 .4 3.1 .4-2.5 .4 .2 .4 .1 .4-1.6 .4 2.2 .4-3.5 .4 .6 .4 1.6 .4-4.3 .4 .8 .4-.8 .4 3.9 .4-2.2 .4 .1 .4-2.1 .4-1.5 .4 4.9 .4-3.1 .4 0 .4-2.1 .4 1.6 .4 2 .4-2 .4 1.4 .4-.5 .4-1.4 .4 1 .4-1.3 .4 3.2 .4-5.4 .4 1 .4 1.1 .4 3.5 .4 1 .4-1.3 .4-.8 .4-3 .4 1 .4 3.2 .4-2.5 .4 .2 .4 2.2 .4-1.5 .4 1.7 .4 1.9 .4 1.2 .4-1.1 .4-1.2 .4 3.8 .4 .9 .4-2.4 .4 3.6 .4-4 .4 3.4 .4-.8 .4-.5 .4 4.6 .4 .4 .4-2.1 .4 3.1 .4 .8 .4 .6 .4 .3 .4 .7 .4 1.8 .4 1.2 .4 .7 .4 .7 .4 .2 .4 1.6 .4 0 .4 2.2 .4 0 .4 .1 .4 .8 .4 .9 .4 1 .4 .4 .4 .2 .4 .2 .4 .6 .4 .8 .4 .1 .4 0 .4 .2 .4 1 .4 0 .4 .6 .4 0 .4-.2 .4 .6 .4 .4 .4 .3 .4 .4 .4 .3 .4-.1 .4 .3 .4-.1 .4 .7 .4-.1 .4 .1 .4 .7 .4-.1 .4 .5 .4-.1 .4 0 .4 .4 .4 .1 .4 .2 .4 .1 .4 0 .4 .2 .4 .1 .4 0 .4 0 .4 .3 .4-.1 .4 .2 .4-.1 .4 .1 .4 .1 .4 0 .4 .2 .4 0 .4 .1 .4 0 .4 0 .4 .1 .4 .1 .4-.1 .4 .1 .4-.1 .4 .1 .4-.1 .4 .1 .4 .2 .4-.1 .4 .1 .4-.2 .4 0 .4 .1 .4 0 .4 .1 .4 0 .4 0 .4 0 .4 .1 .4-.1 .4-.1 .4 0 .4 0 .4 0 .4 .1 .4 0 .4 0 .4 .1 .4-.2 .4 .1 .4 .1 .4 0 .4-.2 .4 .1 .4 0 .4-.1 .4 .1 .4 .1 .4-.1 .4 .1 .4-.1 .4 .2 .4-.1 .4 0 .4 .1 .4-.2 .4 .2 .4-.2 .4 .2 .4-.1 .4 .1 .4-.2 .4 .1 .4-.1 .4 .1 .4 0 .4 0 .4 .1 .4-.1 .4 0 .4 .1 .4 0 .4 0 .4-.1 .4 .1 .4-.1 .4 .1 .4 0 .4 0 .4 0 .4 0 .4 0"/>
<path fill="#5e0f73" stroke="none" d="M231.9 241.6l 1 0 1 0 1 0 1 0 1 0 1-.1 1 0 1 0 1-.1 1 0 1-.1 1 0 1 0 1-.1 1-.1 1 0 1-.1 1-.1 1 0 1-.1 1-.1 1-.1 1-.1 1 0 1-.1 1-.1 1-.1 1-.1 1-.1 1-.2 1-.2 1-.3 1-.4 1-.3 1-.5 1-.4 1-.5 1-.4 1-.6 1-.5 1-.7 1-.8 1-.7 1-.7 1-1 1-1.4 1-1.2 1-1.3 1-1.2 1-1.3 1-1.8 1-1.6 1-1.9 1-2.1 1-1.7 1-1.6 1-2.2 1-2.4 1-2.5 1-1.9 1-.9 1-.6 1-1.3 1-1.4 1-.1 1 .8 1 .1 1 .5 1 .4 1-.1 1-.2 1-.4 1-.2 1 .2 1-.2 1-.9 1-.7 1-.2 1 .2 1 .1 1-.1 1 .1 1 .2 1 0 1 .1 1 .8 1-.2 1 1.4 1 2.3 1 2.6 1 2.8 1 2.9 1 3 1 2.7 1 2.6 1 2.6 1 2.4 1 2.1 1 2 1 1.6 1 1.6 1 1.3 1 .9 1 .9 1 .8 1 .7 1 .5 1 .4 1 .3 1 .3 1 .2 1 .3 1 .2 1 .1 1 .2 1 .1 1 .1 1 0 1 0 1 .1 1 0 1 0 1 0 1 0 1 .1 1 0 1 0 1 0 1 0 1 0 1 0 1 .1 1 0 1 0 1 0 1 0 1 0 1 0 1 0 1 0 1 0 1 0 1 0 .4 0 0 0-.4 0-1 0-1 0-1 0-1 0-1 0-1 0-1 0-1 0-1 0-1 0-1 0-1 0-1-.1-1 0-1 0-1 0-1 0-1 0-1 0-1-.1-1 0-1 0-1 0-1 0-1-.1-1 0-1-.1-1-.1-1-.1-1-.2-1-.2-1-.2-1-.2-1-.3-1-.3-1-.3-1-.6-1-.6-1-.7-1-.9-1-.9-1-1.3-1-1.4-1-1.7-1-1.7-1-1.9-1-1.9-1-1.9-1-2.5-1-2.8-1-2.7-1-2.2-1-2-1-2.4-1-2.1-1-1.9-1-1.5-1 0-1-.6-1-.4-1-.2-1 0-1 0-1 .6-1 .8-1 .7-1 0-1-.3-1 .3-1 .7-1 .3-1-.1-1-.1-1-.4-1-.2-1-.4-1-.4-1 .5-1 .6-1 .2-1 .9-1 1.7-1 1.7-1 1.7-1 1.6-1 1.5-1 1.4-1 2-1 2-1 1.5-1 1.6-1 1.8-1 1.2-1 1.4-1 1.4-1 1.4-1 1.2-1 .8-1 1-1 1-1 .6-1 .4-1 .5-1 .6-1 .5-1 .5-1 .5-1 .4-1 .4-1 .3-1 .3-1 .3-1 .2-1 .1-1 .2-1 .1-1 .1-1 .1-1 .1-1 .1-1 0-1 .1-1 .1-1 .1-1 0-1 .1-1 0-1 .1-1 .1-1 0-1 .1-1 0-1 .1-1 0-1 0-1 0-1 .1-1 0-1 0-1 0-1 0-1 0-1 0z"/>
<path stroke="#5e0f73" d="M231.9 241.6l .4 0 .4-.1 .4 .2 .4 0 .4 0 .4-.1 .4 .1 .4-.1 .4 0 .4 0 .4 0 .4-.1 .4 .1 .4-.1 .4 0 .4 .1 .4 0 .4-.2 .4 .1 .4 .1 .4-.1 .4 0 .4 0 .4 0 .4-.1 .4 0 .4-.1 .4 .2 .4 0 .4-.2 .4 0 .4-.1 .4 0 .4 .2 .4-.2 .4 .1 .4-.1 .4-.1 .4-.1 .4 .1 .4-.1 .4 0 .4 0 .4 .2 .4-.2 .4-.1 .4 0 .4 .1 .4-.2 .4-.1 .4 .1 .4 0 .4 0 .4-.1 .4-.1 .4-.1 .4 .2 .4 0 .4-.1 .4-.2 .4 .1 .4-.1 .4 0 .4-.1 .4 0 .4 .1 .4-.1 .4-.1 .4-.1 .4 .1 .4-.1 .4-.2 .4 .1 .4-.1 .4 0 .4-.1 .4 0 .4-.2 .4-.1 .4-.3 .4 .2 .4-.3 .4-.2 .4-.1 .4-.2 .4-.2 .4 .2 .4-.3 .4-.1 .4-.6 .4 .1 .4-.3 .4-.5 .4 .2 .4-.2 .4-.3 .4-.1 .4-.6 .4-.1 .4-.3 .4 0 .4-.1 .4-.2 .4-.2 .4 .1 .4-.8 .4-.5 .4 0 .4-.2 .4-.5 .4-.4 .4-.5 .4-1 .4 .6 .4-.9 .4-.7 .4-.2 .4-.3 .4-.1 .4-.7 .4-1.3 .4-.9 .4 .7 .4-1.2 .4-.6 .4-.9 .4-.1 .4-.8 .4-1 .4 .9 .4-1.6 .4 .8 .4-.5 .4-1.6 .4 0 .4-2.6 .4-1.2 .4 .7 .4-.9 .4-.6 .4-.6 .4-1.1 .4-1 .4 .3 .4-.3 .4-1.1 .4-2.5 .4 1 .4-3.3 .4 1.8 .4-2.9 .4 3.4 .4-1.2 .4-2.2 .4-.4 .4 .6 .4-3.4 .4 2.4 .4-.7 .4 1.2 .4-3.8 .4 1.2 .4 .7 .4 3.4 .4-3.2 .4 1.4 .4-1.3 .4-.7 .4 2.8 .4-1.4 .4-.9 .4 1.2 .4 .9 .4 1.2 .4-.6 .4 1 .4-3.6 .4 1.4 .4 2 .4-2 .4 2 .4 .7 .4-4.9 .4 0 .4 4.1 .4-1.3 .4-1.5 .4 .8 .4 .7 .4-.7 .4-.5 .4 .3 .4-1.4 .4 .6 .4 .8 .4-1.4 .4 2.7 .4-5.4 .4 5.3 .4-2.8 .4-.8 .4-.1 .4 .2 .4-1.6 .4 4 .4-1.7 .4-.3 .4 1.2 .4 .2 .4-3 .4 3.4 .4-.3 .4-.2 .4 0 .4-.4 .4 .7 .4-.7 .4 .8 .4 0 .4-.7 .4 4.1 .4-2.9 .4 3.9 .4-.6 .4 1.6 .4 1.4 .4 2.8 .4-3.3 .4 3.7 .4 1 .4-.9 .4 2.1 .4-.6 .4 1.3 .4 1.9 .4 1.4 .4 .6 .4 2.4 .4-.2 .4 .9 .4 1.3 .4 .4 .4 1.7 .4-.4 .4 .6 .4 1.9 .4 .1 .4 .2 .4 1.1 .4 1.1 .4 .6 .4 .1 .4 .3 .4 1.3 .4 .1 .4 .6 .4 .2 .4 .3 .4 .4 .4 .5 .4-.1 .4 .6 .4 .3 .4 .1 .4 .4 .4 .2 .4 .1 .4 .4 .4 0 .4 .1 .4 .1 .4 .2 .4 .1 .4 .3 .4-.1 .4 .1 .4 0 .4 .2 .4 .1 .4 .2 .4 0 .4 0 .4 0 .4 .2 .4 .1 .4 0 .4 .1 .4 0 .4 .2 .4 0 .4 0 .4-.1 .4 .1 .4 0 .4-.1 .4 .2 .4-.1 .4 0 .4 .1 .4-.1 .4 .2 .4 0 .4-.1 .4 0 .4 0 .4 .1 .4-.1 .4 0 .4-.1 .4 .1 .4 0 .4 .1 .4-.1 .4 .2 .4-.1 .4 0 .4 0 .4 0 .4 0 .4 .1 .4-.2 .4 .1 .4 .1 .4 0 .4-.1 .4 0 .4 0 .4 0 .4 0 .4 .1 .4-.1 .4 0 .4 0 .4 0 .4 .2 .4-.1 .4 0 .4-.1 .4 .2 .4-.1 .4-.1 .4 .1 .4 0 .4-.1 .4 .2 .4-.1 .4 0 .4 0 .4 0 .4 .1 .4-.1 .4 .1 .4-.1 .4 0 .4 0 .4 0 .4 .1 .4-.1 .2-.1"/>
<path fill="#4a8a25" stroke="none" d="M246.9 269.8l 1 0 1-.1 1-.1 1-.1 1-.1 1-.1 1-.1 1-.2 1-.2 1-.2 1-.2 1-.1 1-.2 1-.2 1-.3 1-.3 1-.3 1-.4 1-.3 1-.4 1-.4 1-.5 1-.5 1-.4 1-.6 1-.5 1-.6 1-.7 1-.9 1-1 1-1.1 1-1.1 1-1.1 1-1.2 1-1.2 1-1 1-.9 1-1.5 1-1.4 1-1.3 1-1.3 1-1.2 1-1 1-.7 1-1.2 1-1 1-.7 1-.2 1-.5 1-.8 1-.1 1 .2 1 .4 1 0 1-.2 1-.1 1-.2 1-.5 1-.9 1-1.1 1-.9 1-.6 1-1 1-1.5 1-1.5 1-1 1-1.1 1-1.2 1-.1 1-.1 1 .3 1 1.8 1 3 1 3 1 3 1 2.7 1 3 1 2.9 1 2.6 1 2.7 1 2.3 1 2.3 1 2 1 1.9 1 1.4 1 1.3 1 1 1 .8 1 .6 1 .7 1 .5 1 .5 1 .3 1 .3 1 .2 1 .2 1 .2 1 .2 1 .2 1 .1 1 0 1 .1 1 0 1 0 1 0 1 .1 1 0 1 0 1 0 1 0 1 .1 1 0 1 0 1 0 1 0 1 0 1 0 1 0 1 0 1 0 1 .1 1 0 1 0 1 0 1 0 1 0 1 0 1 0 .4 0 0 0-.4 0-1 0-1 0-1 0-1 0-1 0-1 0-1 0-1 0-1 0-1-.1-1 0-1 0-1 0-1 0-1 0-1 0-1 0-1 0-1-.1-1 0-1 0-1 0-1 0-1-.1-1 0-1 0-1 0-1-.1-1-.1-1-.1-1-.2-1-.2-1-.2-1-.2-1-.3-1-.3-1-.4-1-.5-1-.6-1-.7-1-.8-1-1-1-1.1-1-1.5-1-1.4-1-1.6-1-2.2-1-2.6-1-2.4-1-2.6-1-2.5-1-2.7-1-2.8-1-2.1-1-2.5-1-2.5-1-2.4-1-1.3-1 .3-1 1-1 .5-1 1-1 1.3-1 1-1 .9-1 1.1-1 1.3-1 1.3-1 1.2-1 1.3-1 1.1-1 .6-1-.3-1-.4-1-.3-1 0-1 0-1-.3-1-.4-1 .2-1 1-1 .7-1 .5-1 .4-1 1-1 .8-1 1-1 1.3-1 1.4-1 1.2-1 1.2-1 1.4-1 1.3-1 1-1 1.1-1 1.1-1 1-1 .9-1 .7-1 .7-1 .5-1 .6-1 .5-1 .5-1 .5-1 .5-1 .4-1 .4-1 .4-1 .4-1 .3-1 .3-1 .2-1 .2-1 .2-1 .2-1 .2-1 .2-1 .2-1 .2-1 .1-1 .2-1 .1-1 .1-1 .1-1 0-1 .1-1 0z"/>
<path stroke="#4a8a25" d="M246.9 269.9l .4-.1 .4 0 .4-.1 .4 .1 .4-.1 .4 0 .4 0 .4 0 .4-.2 .4 0 .4 0 .4 0 .4 0 .4 0 .4-.1 .4-.1 .4 0 .4-.2 .4-.1 .4 0 .4-.1 .4-.1 .4 0 .4-.1 .4-.1 .4-.1 .4 0 .4 .1 .4-.1 .4-.4 .4 .1 .4-.1 .4 0 .4-.1 .4-.3 .4 .2 .4-.2 .4-.1 .4 0 .4 0 .4-.2 .4-.2 .4-.1 .4-.3 .4 .1 .4-.3 .4-.4 .4 0 .4 .2 .4-.1 .4-.6 .4-.1 .4 0 .4-.5 .4 .1 .4-.2 .4 0 .4-.5 .4 0 .4-.2 .4-.6 .4 0 .4 .3 .4-.8 .4-.3 .4 .3 .4-.4 .4-.4 .4-.1 .4-.4 .4-.5 .4 .1 .4-1.1 .4 .5 .4-.4 .4-1.3 .4-.4 .4 .3 .4-.3 .4 0 .4-1.5 .4 0 .4 .1 .4-1.1 .4-.9 .4-.1 .4-1.1 .4-.1 .4 0 .4-.2 .4-.8 .4-.9 .4-.3 .4-.6 .4 0 .4-.9 .4-.9 .4 .6 .4 .4 .4-3.1 .4 .5 .4 .5 .4-1.1 .4 0 .4 1 .4-1.8 .4 .9 .4-2 .4 .1 .4-1.6 .4 1 .4-.9 .4 .4 .4-.2 .4 .9 .4-2.9 .4 .6 .4 .7 .4-1.2 .4 .6 .4 .2 .4-1.3 .4-1.2 .4 1.7 .4 1.3 .4-1 .4-2.8 .4 3.1 .4-2.3 .4 1.7 .4-1 .4 1 .4 1.8 .4-1.3 .4-2.5 .4 2.3 .4-.8 .4 1.1 .4-.2 .4-.5 .4-.3 .4-1.7 .4 1.9 .4-.1 .4 .3 .4 .4 .4 0 .4-3.3 .4 2.8 .4-4.6 .4 .3 .4 1.1 .4 .8 .4-1.9 .4-.3 .4-2 .4 2.3 .4-.9 .4-.9 .4-.1 .4 .1 .4 1.3 .4-.5 .4-1.9 .4-1.1 .4-2.4 .4-1.7 .4-.2 .4 1.9 .4-2.7 .4 3.1 .4 .5 .4-4.1 .4 4.8 .4-1.1 .4-.2 .4-2.6 .4 4 .4-1.6 .4 2.8 .4 2.2 .4-1.3 .4 1.1 .4 2.9 .4 .5 .4 .7 .4-1.3 .4 1.6 .4 1.3 .4 .7 .4 2.1 .4 .1 .4 2.1 .4 1.7 .4 .5 .4 .2 .4 1 .4 .3 .4 2.9 .4 0 .4 .6 .4 1.7 .4 .3 .4 1.2 .4 1.2 .4-.3 .4 1.8 .4-.3 .4 1.2 .4 .8 .4 .5 .4 .5 .4 .6 .4 .2 .4 1 .4-.3 .4 .5 .4 .2 .4 .8 .4 .4 .4 .1 .4 .2 .4 .1 .4 .4 .4 .2 .4 .2 .4 .4 .4-.2 .4 .5 .4 0 .4 .1 .4 .3 .4 0 .4-.1 .4 .3 .4 0 .4 .2 .4 .1 .4 0 .4 .2 .4 .1 .4 0 .4 .1 .4 0 .4 .2 .4 0 .4 0 .4 0 .4 .1 .4 .1 .4 .1 .4-.1 .4 0 .4 .1 .4-.1 .4 .1 .4-.1 .4 .2 .4-.1 .4 .1 .4-.1 .4 0 .4 .1 .4 0 .4 0 .4 .1 .4 0 .4 0 .4-.1 .4-.1 .4 .2 .4-.1 .4 0 .4 .1 .4 0 .4-.1 .4 0 .4 .1 .4 0 .4-.1 .4 .1 .4 0 .4 .1 .4-.1 .4 0 .4 0 .4 0 .4 0 .4 .1 .4 0 .4-.1 .4 .1 .4-.2 .4 .1 .4 .1 .4-.1 .4 .1 .4-.1 .4 .1 .4-.1 .4 0 .4 .1 .4-.2 .4 .2 .4-.1 .4 .2 .4 0 .4-.2 .4 0 .4 0 .4 .2 .4-.1 .4-.1 .4 .1 .4 0 .4 0 .4 0 .4 .1 .4-.1 .4 0 .4 0"/>
<path fill="#d41f24" stroke="none" d="M240.6 298.3l 1 0 1 0 1 0 1 0 1 0 1-.1 1 0 1 0 1-.1 1 0 1-.1 1 0 1-.1 1 0 1-.1 1 0 1-.1 1-.1 1-.1 1-.1 1-.1 1-.1 1-.2 1-.2 1-.2 1-.3 1-.4 1-.3 1-.3 1-.4 1-.5 1-.5 1-.5 1-.6 1-.8 1-1 1-1.1 1-1.6 1-1.6 1-1.5 1-1.5 1-1.6 1-1.8 1-1.7 1-2.1 1-2 1-1.8 1-2.4 1-2.2 1-1.7 1-1.6 1-1.5 1-.8 1-1.3 1-1.5 1-.3 1-.9 1-.5 1 1 1 2.4 1 2.6 1 2.3 1 2.2 1 2.3 1 1.6 1 1 1 .1 1-.7 1-1.5 1-1.7 1-1.5 1-1.5 1-2.1 1-2.5 1-2.1 1-1.4 1-1.9 1-1 1-.7 1-.1 1 .4 1 .3 1-.2 1 .9 1 5 1 5.7 1 3.6 1 2.8 1 3 1 3.7 1 4.5 1 4.2 1 2.7 1 1.8 1 1.4 1 1 1 .6 1 .5 1 .4 1 .4 1 .3 1 .2 1 .1 1 .1 1 0 1 0 1 .1 1 0 1 0 1 0 1 .1 1 0 1 0 1 0 1 .1 1 0 1 0 1 0 1 0 1 0 1 .1 1 0 1 0 1 0 1 0 1 0 1 0 1 0 1 0 1 0 1 0 1 0 1 0 1 0 .7 0 0 0-.7 0-1 0-1 0-1 0-1 0-1 0-1 0-1 0-1 0-1 0-1 0-1 0-1 0-1 0-1 0-1-.1-1 0-1 0-1 0-1 0-1 0-1-.1-1 0-1 0-1 0-1-.1-1 0-1 0-1-.1-1 0-1 0-1-.1-1-.1-1-.2-1-.3-1-.3-1-.4-1-.5-1-.6-1-.9-1-1.3-1-1.7-1-2.4-1-3.7-1-4.1-1-3.5-1-2.9-1-2.9-1-3.4-1-4.8-1-4.2-1-1.1-1-.1-1 .4-1 .7-1 .2-1-.3-1 0-1 .8-1 2.5-1 2.4-1 1.8-1 1.5-1 1.7-1 1.9-1 1.5-1 1.2-1 .9-1 .1-1-1.2-1-2.3-1-2.2-1-1.6-1-2.1-1-2.2-1-1.6-1-1-1-.3-1 .3-1 1.4-1 .7-1 1.1-1 1.6-1 1.3-1 1.7-1 1.9-1 1.4-1 1.1-1 1.9-1 1.8-1 1.9-1 1.9-1 1.8-1 1.6-1 1.4-1 1.5-1 1.3-1 1.2-1 1.2-1 1.1-1 .8-1 .5-1 .4-1 .4-1 .4-1 .4-1 .4-1 .3-1 .3-1 .2-1 .2-1 .2-1 .2-1 .1-1 .1-1 .1-1 .1-1 0-1 .1-1 .1-1 0-1 .1-1 .1-1 0-1 0-1 .1-1 0-1 0-1 .1-1 0-1 0-1 0-1 0-1 .1-1 0z"/>
<path stroke="#d41f24" d="M240.6 298.3l .4-.1 .4 .3 .4-.1 .4-.1 .4 0 .4 .1 .4 0 .4 0 .4-.1 .4 0 .4-.1 .4 .1 .4 0 .4-.1 .4 .1 .4-.1 .4 .1 .4 0 .4-.1 .4 0 .4 0 .4-.1 .4 0 .4 0 .4 .1 .4-.2 .4-.1 .4 .2 .4 .1 .4-.1 .4 0 .4 0 .4-.1 .4-.1 .4-.1 .4 0 .4 0 .4 .1 .4-.2 .4 .1 .4 0 .4 0 .4-.2 .4 0 .4 .1 .4-.1 .4 0 .4-.1 .4 0 .4 0 .4-.1 .4 .1 .4-.1 .4 .1 .4-.4 .4-.1 .4 0 .4-.1 .4-.1 .4 0 .4 .1 .4-.2 .4 .1 .4-.2 .4-.1 .4-.3 .4-.1 .4 0 .4-.2 .4-.2 .4-.1 .4-.1 .4 .1 .4-.4 .4-.3 .4-.1 .4 .1 .4-.4 .4-.2 .4 0 .4-.5 .4 .1 .4-.3 .4-.2 .4-.7 .4 .2 .4-.2 .4-.7 .4-.1 .4-.6 .4 .1 .4-1.1 .4-.4 .4-.1 .4-1.6 .4 .1 .4-.6 .4-.1 .4-.4 .4-1.1 .4 0 .4-1.7 .4-.8 .4 .3 .4-.1 .4-1.4 .4-.2 .4-1.5 .4-.8 .4-.2 .4-1.2 .4-1.5 .4-1.3 .4 1.2 .4-1.9 .4 .2 .4 .1 .4-3 .4 .2 .4-.4 .4-.9 .4 0 .4 .4 .4-4.1 .4 .4 .4 .1 .4-1.5 .4-1 .4 1.5 .4-1.6 .4 .9 .4-1.8 .4 .9 .4-3.6 .4 2.9 .4-1.7 .4-.3 .4 .8 .4-2.3 .4 1.4 .4 .3 .4-.9 .4 1.1 .4-3.2 .4 .9 .4-.3 .4 4.1 .4-2 .4 2.3 .4-.6 .4-.8 .4 2.3 .4 1.4 .4-.9 .4 .9 .4-.3 .4 5.1 .4-1.7 .4 1.7 .4 1.3 .4-.3 .4 2 .4 1.2 .4-.4 .4-.3 .4-1.9 .4 2.4 .4 .2 .4 .3 .4-1.7 .4-.6 .4-.9 .4 1.2 .4-1.3 .4 .5 .4-2.8 .4 1.4 .4-.3 .4-4.2 .4 .2 .4-.4 .4-.6 .4 1.1 .4-3.7 .4 2.3 .4-5.1 .4 1.6 .4 2.4 .4-4.8 .4-2.3 .4 2.9 .4-2.6 .4 1.8 .4 .5 .4 1.9 .4-5.2 .4 2.8 .4-1.5 .4 2.6 .4-.5 .4-3.5 .4 2.5 .4 0 .4 1.5 .4-2.6 .4-1 .4 2.2 .4-.5 .4 1.9 .4-3.8 .4 4.7 .4 .9 .4-.7 .4 4.7 .4 3.4 .4 .6 .4 .5 .4-1.3 .4 2.8 .4 1.5 .4 .1 .4 .7 .4 3 .4-.4 .4 2 .4 1.9 .4 3 .4 .6 .4 1.1 .4 2.2 .4 .5 .4 1.5 .4 1.1 .4 .3 .4 .7 .4 .5 .4 .7 .4 .2 .4 .7 .4 .2 .4 .5 .4 .1 .4 .1 .4 .3 .4 .2 .4 .1 .4 .1 .4 .2 .4 .1 .4 .1 .4 .2 .4 .2 .4 .2 .4 0 .4 .1 .4 .1 .4-.2 .4 .3 .4-.2 .4 0 .4 .1 .4-.1 .4 .1 .4 .1 .4-.2 .4 .2 .4 .1 .4-.1 .4 0 .4 0 .4 0 .4 .1 .4-.1 .4-.1 .4 .2 .4 0 .4-.1 .4 0 .4 .1 .4 .1 .4 0 .4-.2 .4 .1 .4 .2 .4 0 .4-.1 .4 .1 .4-.2 .4 .1 .4-.1 .4 0 .4 .1 .4-.1 .4 .2 .4 0 .4-.1 .4 0 .4 .2 .4-.2 .4 0 .4 .1 .4 0 .4 0 .4 0 .4-.1 .4 .1 .4-.1 .4 0 .4 0 .4 .2 .4 0 .4-.1 .4 0 .4 .1 .4 0 .4 0 .4-.1 .4 .1 .4 0 .4-.1 .4 .1 .4-.1 .4 .1 .4-.2 .4 .2 .4-.1 .4 0 .4 0 .4 0 .4 0 .4 .2 .4-.2 .4 0 .4 .1 .4 .1 .4-.1 .3-.1"/>
<path fill="#1a1ad6" stroke="none" d="M240.6 327l 1 0 1 .1 1 0 1 0 1 .1 1 0 1 0 1 0 1 .1 1 0 1 0 1 0 1 0 1 0 1 0 1 0 1 0 1 0 1 0 1 0 1-.1 1 0 1-.2 1-.1 1-.2 1-.2 1-.2 1-.3 1-.2 1-.4 1-.5 1-.6 1-.6 1-.9 1-1.4 1-2 1-2.1 1-2 1-1.9 1-1.6 1-1.1 1-1.1 1-1.4 1-2.2 1-4 1-4 1-3 1-1.7 1-1.1 1-1.3 1-1.1 1-.6 1-.3 1-.4 1 .4 1 1.1 1 1 1 3.1 1 4.7 1 3.2 1 2.8 1 1.4 1 0 1 .1 1 .1 1-.1 1-.1 1 0 1-2.2 1-4 1-3.7 1-3 1-2.4 1-2.4 1-3.1 1-2.1 1 .2 1 .5 1 .3 1 .1 1 .3 1 1.5 1 4.7 1 5 1 5.6 1 6.6 1 4.9 1 3.9 1 3 1 1.9 1 1.1 1 .8 1 .6 1 .5 1 .4 1 .3 1 .2 1 .2 1 .2 1 .2 1 .1 1 .1 1 .1 1 .1 1 0 1 0 1 0 1 .1 1 0 1 0 1 0 1 0 1 0 1 .1 1 0 1 0 1 0 1 0 1 0 1 0 1 0 1 0 1 0 1 .1 1 0 1 0 1 0 1 0 1 0 1 0 1 0 1 0 1 0 1 0 .7 0 0 0-.7 0-1 0-1 0-1 0-1 0-1 0-1 0-1 0-1 0-1 0-1 0-1 0-1 0-1 0-1-.1-1 0-1 0-1 0-1 0-1 0-1 0-1 0-1 0-1-.1-1 0-1 0-1 0-1 0-1-.1-1 0-1 0-1-.1-1 0-1-.1-1-.2-1-.1-1-.2-1-.2-1-.2-1-.3-1-.4-1-.5-1-.6-1-.6-1-.9-1-1.8-1-2.8-1-3.6-1-4.2-1-5.7-1-5.9-1-5.5-1-3.9-1-1.2-1-.2-1-.2-1 0-1 .4-1 .5-1 1.8-1 2.8-1 2.7-1 2.4-1 1.9-1 2.2-1 3.2-1 2.3-1 .1-1-.1-1-.1-1 .1-1 .1-1 0-1-1.3-1-2.5-1-3-1-4.8-1-3.2-1-1-1-.3-1-.3-1-.4-1 .5-1 .9-1 1-1 1.3-1 1.8-1 1.4-1 2.8-1 3.8-1 3.1-1 1.7-1 1.4-1 1.1-1 1.3-1 1.3-1 1.7-1 2.1-1 2-1 1.7-1 1.3-1 .8-1 .7-1 .5-1 .5-1 .3-1 .3-1 .2-1 .2-1 .2-1 .2-1 .1-1 .2-1 0-1 .1-1 0-1 0-1 0-1 0-1 0-1 0-1 0-1 0-1 0-1 0-1 0-1-.1-1 0-1 0-1 0-1 0-1-.1-1 0-1 0-1-.1z"/>
<path stroke="#1a1ad6" d="M240.6 327l .4 0 .4-.1 .4 .1 .4 .2 .4-.1 .4-.1 .4 .1 .4 0 .4 0 .4 0 .4 .1 .4-.1 .4 .2 .4-.2 .4 .2 .4 0 .4-.1 .4 0 .4 0 .4 0 .4 0 .4 .1 .4-.1 .4 0 .4 0 .4 0 .4 .1 .4 0 .4-.1 .4 .1 .4 .1 .4-.1 .4-.1 .4 .1 .4 0 .4 0 .4 0 .4 0 .4 0 .4 0 .4 0 .4-.1 .4 .2 .4-.1 .4-.1 .4 0 .4 .1 .4 0 .4 0 .4 0 .4 0 .4-.1 .4 0 .4 .1 .4-.1 .4 0 .4 0 .4-.2 .4-.1 .4-.1 .4 0 .4-.1 .4-.1 .4 0 .4-.1 .4-.1 .4-.1 .4-.1 .4 0 .4 0 .4-.2 .4-.1 .4-.2 .4-.1 .4-.2 .4 0 .4-.4 .4 0 .4-.2 .4-.2 .4-.4 .4-.5 .4-.2 .4 0 .4-.6 .4-.4 .4-.3 .4-.7 .4-.5 .4-1 .4-.5 .4-1.1 .4-.8 .4-.8 .4-.8 .4-1.6 .4 0 .4-1 .4-.9 .4-.6 .4-.3 .4 .3 .4-.1 .4-.6 .4-.7 .4-.8 .4-.5 .4-1.5 .4 .2 .4-2.4 .4-.7 .4 0 .4-2.8 .4 1.3 .4-4.9 .4-.2 .4-1 .4 2 .4-5.1 .4 2.1 .4-.7 .4-2.3 .4 1.4 .4 .5 .4-2.6 .4 2.1 .4-3 .4 .6 .4-1.9 .4 3.5 .4-4.1 .4 1.4 .4-2.4 .4 3.8 .4-3.8 .4 1.8 .4 0 .4 2.6 .4-1.8 .4 .1 .4 2.6 .4 .9 .4-.2 .4-2.3 .4 3.5 .4 .9 .4 2.6 .4 1.6 .4 1 .4 1.8 .4-.5 .4 2 .4 .8 .4 1.9 .4-1.1 .4 .8 .4-.1 .4-1.3 .4 1.8 .4-.8 .4-.6 .4-.5 .4 1.4 .4-.7 .4 0 .4 1.2 .4 .5 .4 0 .4-1.9 .4 .3 .4 .7 .4-1.6 .4-1.4 .4-1.4 .4-1.7 .4-3.3 .4 2 .4-2.1 .4 .3 .4-1.1 .4-.5 .4-1.7 .4-.4 .4-2.1 .4-.8 .4 .7 .4-5.4 .4 4 .4-3.3 .4-3 .4 4.3 .4-3.7 .4-.1 .4 1.9 .4 3.8 .4-5.6 .4 2.4 .4 1.2 .4-3.2 .4 3.6 .4-3.1 .4 2.9 .4-1.8 .4 3.1 .4-.4 .4 2.1 .4 1.2 .4 .4 .4 2.4 .4 1.5 .4 .6 .4 3.8 .4 4 .4 1 .4 2 .4 1.2 .4 1.8 .4 1.8 .4 2.1 .4 1 .4 2 .4 .3 .4 1.1 .4 .8 .4 .8 .4 .4 .4 .5 .4 .1 .4 .6 .4-.1 .4 .3 .4 .1 .4 .5 .4 .2 .4 .1 .4 .2 .4 .2 .4 .2 .4 .1 .4 .1 .4 .1 .4 .1 .4 .1 .4 0 .4 0 .4 .1 .4 0 .4 .1 .4 .1 .4 .1 .4 .1 .4 .2 .4-.1 .4 0 .4 .1 .4-.1 .4 0 .4 .2 .4-.1 .4 .2 .4 0 .4-.1 .4 0 .4 0 .4 .1 .4-.2 .4 .1 .4 0 .4 0 .4 .1 .4 0 .4 0 .4 .1 .4-.2 .4 .2 .4 0 .4 0 .4 0 .4-.2 .4 .1 .4 0 .4 0 .4 0 .4 0 .4 .1 .4 0 .4 0 .4 0 .4 0 .4-.1 .4 0 .4 .1 .4 .1 .4-.1 .4 0 .4 0 .4 .1 .4-.1 .4 0 .4 .2 .4-.2 .4 .2 .4-.2 .4-.1 .4 .1 .4 0 .4 .1 .4 0 .4-.2 .4 .1 .4 .1 .4 0 .4 0 .4-.1 .4 .1 .4-.1 .4 .1 .4 .1 .4-.2 .4 .1 .4 0 .4 0 .4 0 .4 0 .4 .1 .4-.2 .4 .1 .4-.1 .4 .1 .4 0 .4 0 .4-.1 .4 0 .4 .1 .4 0 .4 .1 .3 0"/>
<path stroke="#000" stroke-width="1.45" stroke-dasharray="4.8,2.2" d="M249.2 43.1l .5 0 .5 0 .5 0 .5 0 .5 0 .5-.1 .5 0 .5 0 .5 0 .5 0 .5-.1 .5 0 .5 0 .5 0 .5-.1 .5 0 .5 0 .5-.1 .5 0 .5 0 .5-.1 .5 0 .5-.1 .5 0 .5-.1 .5 0 .5-.1 .5 0 .5-.1 .5-.1 .5-.1 .5 0 .5-.1 .5-.1 .5-.1 .5-.1 .5-.1 .5-.1 .5-.1 .5-.1 .5-.1 .5-.2 .5-.1 .5-.1 .5-.2 .5-.2 .5-.1 .5-.2 .5-.2 .5-.2 .5-.2 .5-.2 .5-.2 .5-.2 .5-.2 .5-.3 .5-.2 .5-.3 .5-.3 .5-.3 .5-.3 .5-.3 .5-.3 .5-.3 .5-.3 .5-.3 .5-.3 .5-.3 .5-.3 .5-.3 .5-.4 .5-.4 .5-.4 .5-.5 .5-.5 .5-.6 .5-.6 .5-.7 .5-.6 .5-.7 .5-.7 .5-.8 .5-.8 .5-.8 .5-.9 .5-.9 .5-.9 .5-.9 .5-.9 .5-.9 .5-1 .5-.9 .5-1 .5-.9 .5-.8 .5-.9 .5-.8 .5-.9 .5-.8 .5-.9 .5-.9 .5-.9 .5-.9 .5-1 .5-.9 .5-.9 .5-.9 .5-1 .5-1 .5-1.1 .5-.8 .5-.5 .5-.2 .5 .4 .5 .7 .5 1 .5 1.2 .5 1.1 .5 1 .5 1 .5 1.1 .5 1.1 .5 1.1 .5 1.1 .5 1 .5 1 .5 1 .5 1 .5 1 .5 1 .5 1 .5 1 .5 .9 .5 1 .5 1 .5 1 .5 1 .5 1 .5 .9 .5 .9 .5 .8 .5 .8 .5 .7 .5 .8 .5 .6 .5 .7 .5 .6 .5 .6 .5 .5 .5 .5 .5 .5 .5 .5 .5 .5 .5 .4 .5 .4 .5 .4 .5 .3 .5 .3 .5 .3 .5 .3 .5 .3 .5 .2 .5 .2 .5 .3 .5 .2 .5 .2 .5 .2 .5 .2 .5 .2 .5 .2 .5 .2 .5 .1 .5 .2 .5 .2 .5 .2 .5 .2 .5 .1 .5 .2 .5 .1 .5 .2 .5 .1 .5 .1 .5 .1 .5 .1 .5 .1 .5 .1 .5 .1 .5 .1 .5 0 .5 .1 .5 .1 .5 0 .5 .1 .5 0 .5 .1 .5 0 .5 .1 .5 0 .5 .1 .5 0 .5 .1 .5 0 .5 0 .5 .1 .5 0 .3 0"/>
<path stroke="#000" stroke-width="1.45" stroke-dasharray="4.8,2.2" d="M249.2 70.8l .5-.1 .5-.1 .5-.1 .5-.1 .5-.1 .5-.1 .5-.1 .5-.1 .5-.1 .5-.1 .5-.1 .5-.1 .5-.1 .5-.1 .5-.2 .5-.1 .5-.1 .5-.2 .5-.1 .5-.1 .5-.2 .5-.1 .5-.2 .5-.1 .5-.2 .5-.1 .5-.2 .5-.1 .5-.2 .5-.1 .5-.2 .5-.2 .5-.1 .5-.2 .5-.2 .5-.2 .5-.2 .5-.2 .5-.2 .5-.2 .5-.3 .5-.2 .5-.2 .5-.2 .5-.3 .5-.2 .5-.2 .5-.3 .5-.2 .5-.3 .5-.2 .5-.2 .5-.3 .5-.2 .5-.3 .5-.2 .5-.3 .5-.2 .5-.3 .5-.2 .5-.3 .5-.2 .5-.2 .5-.3 .5-.2 .5-.3 .5-.3 .5-.3 .5-.4 .5-.4 .5-.5 .5-.7 .5-.7 .5-.7 .5-.7 .5-.7 .5-.7 .5-.7 .5-.8 .5-.7 .5-.8 .5-.7 .5-.8 .5-.8 .5-.7 .5-.8 .5-.8 .5-.8 .5-.7 .5-.8 .5-.7 .5-.8 .5-.8 .5-.7 .5-.8 .5-.8 .5-.7 .5-.8 .5-.7 .5-.7 .5-.7 .5-.7 .5-.8 .5-.8 .5-.8 .5-.7 .5-.5 .5-.3 .5-.1 .5-.1 .5 0 .5 0 .5 0 .5 .2 .5 .1 .5 .2 .5 .3 .5 .5 .5 .6 .5 .8 .5 .9 .5 1 .5 1.1 .5 1.1 .5 1.2 .5 1.1 .5 1.2 .5 1.1 .5 1.1 .5 1.1 .5 1.2 .5 1.2 .5 1.2 .5 1.3 .5 1.2 .5 1.1 .5 1 .5 .9 .5 .8 .5 .7 .5 .7 .5 .7 .5 .7 .5 .7 .5 .7 .5 .7 .5 .7 .5 .5 .5 .6 .5 .5 .5 .6 .5 .5 .5 .5 .5 .5 .5 .4 .5 .5 .5 .4 .5 .4 .5 .4 .5 .4 .5 .4 .5 .3 .5 .4 .5 .3 .5 .3 .5 .3 .5 .3 .5 .3 .5 .2 .5 .3 .5 .2 .5 .3 .5 .2 .5 .2 .5 .2 .5 .1 .5 .2 .5 .1 .5 .2 .5 .1 .5 .1 .5 .1 .5 .1 .5 .1 .5 .1 .5 .1 .5 .1 .5 .1 .5 .1 .5 0 .5 .1 .5 0 .5 0 .5 .1 .5 0 .5 .1 .5 0 .5 0 .5 .1 .5 0 .5 0 .5 0 .5 0 .5 .1 .5 0 .3 0"/>
<path stroke="#000" stroke-width="1.45" stroke-dasharray="4.8,2.2" d="M249.2 99l .5 0 .5 0 .5 0 .5-.1 .5 0 .5 0 .5-.1 .5-.1 .5 0 .5-.1 .5-.1 .5 0 .5-.1 .5-.1 .5-.1 .5-.1 .5-.1 .5-.1 .5-.1 .5-.1 .5-.1 .5-.1 .5-.1 .5-.1 .5-.1 .5-.1 .5-.1 .5-.2 .5-.1 .5-.2 .5-.1 .5-.2 .5-.1 .5-.2 .5-.2 .5-.2 .5-.2 .5-.2 .5-.2 .5-.3 .5-.2 .5-.2 .5-.3 .5-.2 .5-.3 .5-.3 .5-.2 .5-.3 .5-.3 .5-.3 .5-.3 .5-.3 .5-.4 .5-.4 .5-.4 .5-.4 .5-.4 .5-.5 .5-.4 .5-.5 .5-.5 .5-.5 .5-.5 .5-.5 .5-.6 .5-.5 .5-.6 .5-.5 .5-.6 .5-.6 .5-.7 .5-.7 .5-.7 .5-.7 .5-.8 .5-.8 .5-.8 .5-.8 .5-.8 .5-.8 .5-.8 .5-.8 .5-.8 .5-.8 .5-.7 .5-.8 .5-.7 .5-.8 .5-.8 .5-.8 .5-.8 .5-.8 .5-.8 .5-.7 .5-.6 .5-.6 .5-.5 .5-.4 .5-.5 .5-.4 .5-.4 .5-.4 .5-.4 .5-.3 .5-.4 .5-.3 .5-.3 .5-.2 .5-.2 .5-.2 .5-.1 .5-.1 .5 0 .5 .1 .5 .3 .5 .3 .5 .4 .5 .5 .5 .5 .5 .6 .5 .6 .5 .7 .5 .7 .5 .7 .5 .7 .5 .6 .5 .6 .5 .7 .5 .7 .5 .7 .5 .8 .5 .8 .5 .8 .5 .8 .5 .8 .5 .9 .5 .8 .5 .9 .5 .8 .5 .9 .5 .8 .5 .9 .5 .8 .5 .9 .5 .9 .5 .9 .5 1 .5 .9 .5 .8 .5 .9 .5 .8 .5 .8 .5 .8 .5 .7 .5 .7 .5 .7 .5 .7 .5 .6 .5 .7 .5 .6 .5 .6 .5 .5 .5 .5 .5 .5 .5 .4 .5 .4 .5 .3 .5 .3 .5 .4 .5 .3 .5 .3 .5 .3 .5 .2 .5 .3 .5 .2 .5 .3 .5 .2 .5 .2 .5 .2 .5 .1 .5 .1 .5 .2 .5 .1 .5 .1 .5 .1 .5 .1 .5 .1 .5 .1 .5 .1 .5 .1 .5 .1 .5 .1 .5 .1 .5 0 .5 .1 .5 .1 .5 0 .5 .1 .5 .1 .5 0 .5 0 .5 .1 .5 0 .5 0 .5 0 .3 0"/>
<path stroke="#000" stroke-width="1.45" stroke-dasharray="4.8,2.2" d="M249.2 127.4l .5 0 .5 0 .5-.1 .5 0 .5 0 .5-.1 .5 0 .5-.1 .5-.1 .5 0 .5-.1 .5-.1 .5-.1 .5 0 .5-.1 .5-.1 .5-.1 .5-.1 .5-.1 .5-.1 .5-.1 .5-.1 .5-.1 .5-.1 .5-.2 .5-.1 .5-.1 .5-.1 .5-.2 .5-.1 .5-.2 .5-.1 .5-.2 .5-.2 .5-.2 .5-.2 .5-.2 .5-.2 .5-.2 .5-.2 .5-.3 .5-.2 .5-.3 .5-.2 .5-.3 .5-.2 .5-.3 .5-.3 .5-.3 .5-.2 .5-.3 .5-.4 .5-.3 .5-.4 .5-.3 .5-.4 .5-.4 .5-.4 .5-.5 .5-.4 .5-.5 .5-.4 .5-.5 .5-.5 .5-.5 .5-.5 .5-.5 .5-.5 .5-.5 .5-.6 .5-.5 .5-.6 .5-.6 .5-.6 .5-.7 .5-.6 .5-.7 .5-.7 .5-.7 .5-.6 .5-.7 .5-.7 .5-.7 .5-.7 .5-.6 .5-.7 .5-.7 .5-.7 .5-.7 .5-.7 .5-.7 .5-.7 .5-.7 .5-.7 .5-.7 .5-.6 .5-.6 .5-.5 .5-.5 .5-.5 .5-.5 .5-.6 .5-.5 .5-.5 .5-.5 .5-.5 .5-.4 .5-.4 .5-.4 .5-.4 .5-.3 .5-.3 .5-.2 .5-.1 .5-.1 .5 0 .5 .1 .5 .2 .5 .3 .5 .3 .5 .5 .5 .5 .5 .5 .5 .6 .5 .6 .5 .6 .5 .7 .5 .6 .5 .6 .5 .6 .5 .7 .5 .7 .5 .8 .5 .8 .5 .9 .5 .8 .5 1 .5 .9 .5 1 .5 .9 .5 1 .5 1 .5 1 .5 .9 .5 1 .5 .9 .5 .9 .5 .8 .5 1 .5 .9 .5 .9 .5 1 .5 .9 .5 .8 .5 .9 .5 .8 .5 .7 .5 .6 .5 .7 .5 .6 .5 .5 .5 .6 .5 .6 .5 .5 .5 .5 .5 .4 .5 .4 .5 .4 .5 .4 .5 .3 .5 .3 .5 .3 .5 .3 .5 .3 .5 .2 .5 .3 .5 .2 .5 .2 .5 .3 .5 .2 .5 .1 .5 .2 .5 .2 .5 .1 .5 .1 .5 .1 .5 .1 .5 .1 .5 .1 .5 .1 .5 .1 .5 .1 .5 0 .5 .1 .5 .1 .5 0 .5 .1 .5 .1 .5 0 .5 .1 .5 0 .5 0 .5 .1 .5 0 .5 0 .3 0"/>
<path stroke="#000" stroke-width="1.45" stroke-dasharray="4.8,2.2" d="M249.2 156.1l .5 0 .5 0 .5 0 .5-.1 .5 0 .5-.1 .5 0 .5-.1 .5 0 .5-.1 .5 0 .5-.1 .5-.1 .5-.1 .5 0 .5-.1 .5-.1 .5-.1 .5 0 .5-.1 .5-.1 .5-.1 .5-.1 .5-.1 .5-.1 .5-.1 .5-.1 .5-.1 .5-.1 .5-.1 .5-.2 .5-.1 .5-.2 .5-.1 .5-.2 .5-.2 .5-.1 .5-.2 .5-.2 .5-.3 .5-.3 .5-.3 .5-.4 .5-.4 .5-.5 .5-.4 .5-.5 .5-.5 .5-.6 .5-.5 .5-.5 .5-.6 .5-.5 .5-.6 .5-.5 .5-.6 .5-.5 .5-.6 .5-.6 .5-.6 .5-.6 .5-.6 .5-.6 .5-.7 .5-.6 .5-.7 .5-.7 .5-.6 .5-.7 .5-.7 .5-.7 .5-.6 .5-.7 .5-.7 .5-.7 .5-.6 .5-.7 .5-.8 .5-.7 .5-.8 .5-.7 .5-.8 .5-.8 .5-.7 .5-.7 .5-.7 .5-.6 .5-.6 .5-.5 .5-.4 .5-.5 .5-.4 .5-.5 .5-.4 .5-.4 .5-.5 .5-.4 .5-.4 .5-.4 .5-.4 .5-.4 .5-.3 .5-.4 .5-.3 .5-.3 .5-.2 .5-.3 .5-.2 .5-.2 .5-.2 .5-.1 .5-.1 .5 0 .5-.1 .5 .1 .5 .1 .5 .1 .5 .3 .5 .3 .5 .3 .5 .4 .5 .4 .5 .4 .5 .5 .5 .5 .5 .5 .5 .6 .5 .5 .5 .6 .5 .6 .5 .5 .5 .6 .5 .6 .5 .7 .5 .7 .5 .8 .5 .9 .5 .8 .5 1 .5 .9 .5 .9 .5 1 .5 1 .5 .9 .5 .9 .5 .9 .5 .9 .5 .9 .5 .9 .5 .9 .5 .9 .5 1 .5 .9 .5 .9 .5 .8 .5 .9 .5 .8 .5 .7 .5 .7 .5 .7 .5 .7 .5 .6 .5 .7 .5 .6 .5 .6 .5 .5 .5 .6 .5 .4 .5 .4 .5 .4 .5 .3 .5 .3 .5 .3 .5 .3 .5 .3 .5 .3 .5 .3 .5 .2 .5 .2 .5 .2 .5 .2 .5 .2 .5 .2 .5 .1 .5 .2 .5 .1 .5 .1 .5 .1 .5 .1 .5 .1 .5 .1 .5 .1 .5 .1 .5 .1 .5 .1 .5 0 .5 .1 .5 .1 .5 0 .5 .1 .5 0 .5 .1 .5 0 .5 0 .5 0 .3 0"/>
<path stroke="#000" stroke-width="1.45" stroke-dasharray="4.8,2.2" d="M249.2 183.9l .5 0 .5-.1 .5 0 .5-.1 .5 0 .5-.1 .5-.1 .5-.1 .5 0 .5-.1 .5-.1 .5-.2 .5-.1 .5-.1 .5-.1 .5-.1 .5-.2 .5-.1 .5-.1 .5-.2 .5-.1 .5-.2 .5-.1 .5-.2 .5-.1 .5-.2 .5-.1 .5-.2 .5-.2 .5-.2 .5-.2 .5-.2 .5-.2 .5-.3 .5-.2 .5-.3 .5-.3 .5-.2 .5-.3 .5-.3 .5-.3 .5-.3 .5-.3 .5-.3 .5-.3 .5-.3 .5-.4 .5-.3 .5-.3 .5-.4 .5-.4 .5-.3 .5-.4 .5-.4 .5-.5 .5-.4 .5-.4 .5-.5 .5-.4 .5-.5 .5-.5 .5-.5 .5-.5 .5-.5 .5-.5 .5-.6 .5-.6 .5-.7 .5-.6 .5-.7 .5-.7 .5-.8 .5-.7 .5-.7 .5-.8 .5-.7 .5-.8 .5-.7 .5-.7 .5-.7 .5-.7 .5-.6 .5-.6 .5-.6 .5-.6 .5-.7 .5-.6 .5-.6 .5-.6 .5-.6 .5-.6 .5-.5 .5-.6 .5-.5 .5-.4 .5-.4 .5-.4 .5-.3 .5-.3 .5-.3 .5-.3 .5-.3 .5-.3 .5-.2 .5-.2 .5-.3 .5-.2 .5-.2 .5-.2 .5-.1 .5-.2 .5-.1 .5-.1 .5-.1 .5-.1 .5-.1 .5-.1 .5-.1 .5-.1 .5-.1 .5-.1 .5 0 .5-.1 .5-.1 .5 0 .5-.1 .5 0 .5-.1 .5 0 .5 0 .5 0 .5 .1 .5 .3 .5 .5 .5 .7 .5 .8 .5 .9 .5 1 .5 1 .5 .9 .5 .9 .5 .8 .5 .8 .5 .8 .5 .8 .5 .9 .5 .8 .5 .9 .5 .8 .5 .9 .5 .9 .5 .9 .5 1 .5 .9 .5 1 .5 1 .5 1.2 .5 1.2 .5 1.3 .5 1.2 .5 1.2 .5 1.2 .5 1 .5 .8 .5 .8 .5 .8 .5 .8 .5 .7 .5 .6 .5 .7 .5 .6 .5 .6 .5 .5 .5 .4 .5 .5 .5 .3 .5 .4 .5 .3 .5 .4 .5 .3 .5 .3 .5 .3 .5 .3 .5 .2 .5 .3 .5 .2 .5 .2 .5 .2 .5 .1 .5 .2 .5 .1 .5 .1 .5 .2 .5 .1 .5 .1 .5 .1 .5 .1 .5 0 .5 .1 .5 .1 .5 .1 .5 0 .5 .1 .5 0 .5 0 .3 0"/>
<path stroke="#000" stroke-width="1.45" stroke-dasharray="4.8,2.2" d="M249.2 212.6l .5-.1 .5 0 .5 0 .5-.1 .5 0 .5-.1 .5 0 .5-.1 .5-.1 .5-.1 .5-.1 .5-.1 .5-.1 .5-.1 .5-.1 .5-.1 .5-.2 .5-.1 .5-.1 .5-.2 .5-.1 .5-.1 .5-.2 .5-.1 .5-.2 .5-.1 .5-.2 .5-.1 .5-.2 .5-.2 .5-.2 .5-.2 .5-.2 .5-.2 .5-.3 .5-.2 .5-.3 .5-.3 .5-.3 .5-.2 .5-.3 .5-.4 .5-.3 .5-.3 .5-.3 .5-.4 .5-.3 .5-.4 .5-.5 .5-.4 .5-.5 .5-.4 .5-.5 .5-.6 .5-.5 .5-.6 .5-.6 .5-.5 .5-.7 .5-.6 .5-.6 .5-.7 .5-.6 .5-.7 .5-.7 .5-.8 .5-.9 .5-.9 .5-1 .5-1 .5-.9 .5-1 .5-.9 .5-.8 .5-.8 .5-.7 .5-.7 .5-.6 .5-.6 .5-.7 .5-.5 .5-.6 .5-.5 .5-.5 .5-.5 .5-.4 .5-.4 .5-.4 .5-.3 .5-.3 .5-.3 .5-.3 .5-.3 .5-.2 .5-.3 .5-.2 .5-.2 .5-.2 .5-.2 .5-.2 .5-.2 .5-.2 .5-.1 .5-.2 .5-.1 .5-.1 .5-.1 .5-.1 .5-.1 .5-.1 .5-.2 .5-.1 .5-.1 .5-.2 .5-.2 .5-.3 .5-.3 .5-.2 .5-.3 .5-.2 .5-.2 .5-.1 .5 0 .5 .1 .5 .2 .5 .2 .5 .4 .5 .3 .5 .4 .5 .4 .5 .5 .5 .6 .5 .6 .5 .7 .5 .8 .5 .8 .5 .8 .5 .9 .5 .9 .5 .8 .5 .9 .5 .9 .5 .9 .5 1 .5 1 .5 1.1 .5 1 .5 1.1 .5 1.1 .5 1.1 .5 1 .5 1.1 .5 1 .5 1 .5 1.1 .5 1.1 .5 1 .5 1.1 .5 .9 .5 .9 .5 .8 .5 .7 .5 .7 .5 .6 .5 .7 .5 .6 .5 .6 .5 .6 .5 .5 .5 .5 .5 .4 .5 .4 .5 .4 .5 .3 .5 .3 .5 .2 .5 .3 .5 .3 .5 .2 .5 .2 .5 .2 .5 .2 .5 .2 .5 .2 .5 .2 .5 .1 .5 .2 .5 .1 .5 .1 .5 .1 .5 .1 .5 .1 .5 .1 .5 .1 .5 .1 .5 0 .5 .1 .5 .1 .5 0 .5 .1 .5 0 .5 .1 .5 0 .5 0 .5 .1 .3 0"/>
<path stroke="#000" stroke-width="1.45" stroke-dasharray="4.8,2.2" d="M249.2 240.9l .5 0 .5 0 .5-.1 .5 0 .5-.1 .5 0 .5-.1 .5 0 .5-.1 .5-.1 .5-.1 .5 0 .5-.1 .5-.1 .5-.1 .5-.1 .5-.1 .5-.1 .5-.1 .5-.1 .5-.1 .5-.1 .5-.1 .5-.1 .5-.1 .5-.1 .5-.1 .5-.2 .5-.1 .5-.1 .5-.1 .5-.2 .5-.1 .5-.2 .5-.1 .5-.2 .5-.1 .5-.2 .5-.2 .5-.2 .5-.2 .5-.2 .5-.2 .5-.2 .5-.3 .5-.2 .5-.3 .5-.2 .5-.3 .5-.3 .5-.3 .5-.4 .5-.4 .5-.4 .5-.5 .5-.6 .5-.5 .5-.6 .5-.7 .5-.6 .5-.6 .5-.7 .5-.7 .5-.6 .5-.7 .5-.8 .5-.7 .5-.8 .5-.9 .5-.8 .5-.9 .5-.9 .5-.9 .5-.9 .5-1 .5-.9 .5-.9 .5-.8 .5-.9 .5-.9 .5-1 .5-1 .5-.9 .5-.9 .5-.9 .5-.7 .5-.6 .5-.5 .5-.5 .5-.5 .5-.4 .5-.2 .5-.1 .5 0 .5 .1 .5 0 .5 .1 .5 .1 .5 .1 .5 .2 .5 .5 .5 .9 .5 .9 .5 1.1 .5 .9 .5 1 .5 1.1 .5 1 .5 1 .5 .8 .5 .9 .5 .8 .5 .8 .5 .6 .5 .4 .5 0 .5-.3 .5-.5 .5-.8 .5-.8 .5-.9 .5-.8 .5-1.1 .5-1.2 .5-1.3 .5-1.3 .5-1.3 .5-1.3 .5-1.3 .5-1.2 .5-1.1 .5-1.2 .5-1.1 .5-.4 .5 .1 .5 .3 .5 .4 .5 .4 .5 .6 .5 .6 .5 .9 .5 1.1 .5 1.4 .5 1.4 .5 1.6 .5 1.4 .5 1.4 .5 1.3 .5 1.4 .5 1.4 .5 1.3 .5 1.4 .5 1.3 .5 1.3 .5 1.3 .5 1.1 .5 1.2 .5 1.1 .5 1.1 .5 1 .5 1.1 .5 .9 .5 .9 .5 .8 .5 .7 .5 .7 .5 .7 .5 .7 .5 .6 .5 .5 .5 .5 .5 .4 .5 .4 .5 .4 .5 .3 .5 .4 .5 .3 .5 .4 .5 .3 .5 .2 .5 .3 .5 .2 .5 .2 .5 .2 .5 .2 .5 .1 .5 .1 .5 .1 .5 .1 .5 0 .5 .1 .5 .1 .5 .1 .5 .1 .5 0 .5 .1 .5 .1 .5 0 .5 .1 .5 0 .5 0 .5 .1 .5 0 .5 0 .5 0 .3 0"/>
<path stroke="#000" stroke-width="1.45" stroke-dasharray="4.8,2.2" d="M249.2 269.5l .5-.1 .5 0 .5 0 .5-.1 .5 0 .5-.1 .5-.1 .5 0 .5-.1 .5-.1 .5-.1 .5 0 .5-.1 .5-.1 .5-.1 .5-.1 .5-.1 .5-.1 .5-.2 .5-.1 .5-.1 .5-.1 .5-.1 .5-.1 .5-.1 .5-.2 .5-.1 .5-.1 .5-.2 .5-.1 .5-.2 .5-.1 .5-.2 .5-.1 .5-.2 .5-.2 .5-.2 .5-.2 .5-.2 .5-.2 .5-.2 .5-.2 .5-.3 .5-.2 .5-.3 .5-.2 .5-.3 .5-.3 .5-.2 .5-.3 .5-.3 .5-.4 .5-.4 .5-.4 .5-.4 .5-.5 .5-.5 .5-.5 .5-.5 .5-.5 .5-.6 .5-.6 .5-.5 .5-.6 .5-.6 .5-.5 .5-.6 .5-.6 .5-.6 .5-.6 .5-.6 .5-.6 .5-.7 .5-.7 .5-.6 .5-.7 .5-.7 .5-.6 .5-.7 .5-.6 .5-.7 .5-.6 .5-.7 .5-.7 .5-.6 .5-.7 .5-.6 .5-.6 .5-.5 .5-.4 .5-.4 .5-.3 .5-.4 .5-.3 .5-.2 .5-.2 .5 0 .5 0 .5 .1 .5 .2 .5 .2 .5 .3 .5 .3 .5 .6 .5 .7 .5 1 .5 1 .5 1 .5 1.1 .5 1.3 .5 1.4 .5 1.2 .5 .9 .5 .9 .5 .7 .5 0 .5-.5 .5-.9 .5-.9 .5-1.1 .5-1.2 .5-1.4 .5-1.3 .5-1.4 .5-1.5 .5-1.5 .5-1.4 .5-1.3 .5-1.2 .5-1.2 .5-1 .5-1 .5-1 .5-1 .5-.9 .5-.6 .5-.1 .5 .3 .5 .7 .5 1 .5 1.1 .5 1.3 .5 1.3 .5 1.3 .5 1.5 .5 1.7 .5 1.8 .5 1.8 .5 1.8 .5 1.5 .5 1.4 .5 1.3 .5 1.3 .5 1.3 .5 1.2 .5 1.2 .5 1.2 .5 1.2 .5 1.2 .5 1.1 .5 1 .5 1 .5 .8 .5 .8 .5 .7 .5 .7 .5 .7 .5 .6 .5 .6 .5 .5 .5 .4 .5 .3 .5 .3 .5 .3 .5 .3 .5 .3 .5 .2 .5 .2 .5 .3 .5 .2 .5 .1 .5 .2 .5 .2 .5 .1 .5 .1 .5 .1 .5 .1 .5 .1 .5 .1 .5 .1 .5 .1 .5 .1 .5 .1 .5 .1 .5 .1 .5 0 .5 .1 .5 0 .5 .1 .5 0 .5 .1 .5 0 .5 0 .1 0"/>
</g>
<rect x="4.40" y="1.50" width="55.16" height="326.00" fill="none" stroke="#3c3c3c" stroke-width="1"/>
<line x1="1.10" x2="4.40" y1="43.90" y2="43.90" stroke="#3c3c3c" stroke-width="1"/>
<line x1="1.10" x2="4.40" y1="72.26" y2="72.26" stroke="#3c3c3c" stroke-width="1"/>
<line x1="1.10" x2="4.40" y1="100.62" y2="100.62" stroke="#3c3c3c" stroke-width="1"/>
<line x1="1.10" x2="4.40" y1="128.98" y2="128.98" stroke="#3c3c3c" stroke-width="1"/>
<line x1="1.10" x2="4.40" y1="157.34" y2="157.34" stroke="#3c3c3c" stroke-width="1"/>
<line x1="1.10" x2="4.40" y1="185.70" y2="185.70" stroke="#3c3c3c" stroke-width="1"/>
<line x1="1.10" x2="4.40" y1="214.06" y2="214.06" stroke="#3c3c3c" stroke-width="1"/>
<line x1="1.10" x2="4.40" y1="242.42" y2="242.42" stroke="#3c3c3c" stroke-width="1"/>
<line x1="1.10" x2="4.40" y1="270.78" y2="270.78" stroke="#3c3c3c" stroke-width="1"/>
<line x1="1.10" x2="4.40" y1="299.14" y2="299.14" stroke="#3c3c3c" stroke-width="1"/>
<line x1="1.10" x2="4.40" y1="327.50" y2="327.50" stroke="#3c3c3c" stroke-width="1"/>
<rect x="75.50" y="1.50" width="133.96" height="326.00" fill="none" stroke="#3c3c3c" stroke-width="1"/>
<line x1="72.20" x2="75.50" y1="43.90" y2="43.90" stroke="#3c3c3c" stroke-width="1"/>
<line x1="72.20" x2="75.50" y1="72.26" y2="72.26" stroke="#3c3c3c" stroke-width="1"/>
<line x1="72.20" x2="75.50" y1="100.62" y2="100.62" stroke="#3c3c3c" stroke-width="1"/>
<line x1="72.20" x2="75.50" y1="128.98" y2="128.98" stroke="#3c3c3c" stroke-width="1"/>
<line x1="72.20" x2="75.50" y1="157.34" y2="157.34" stroke="#3c3c3c" stroke-width="1"/>
<line x1="72.20" x2="75.50" y1="185.70" y2="185.70" stroke="#3c3c3c" stroke-width="1"/>
<line x1="72.20" x2="75.50" y1="214.06" y2="214.06" stroke="#3c3c3c" stroke-width="1"/>
<line x1="72.20" x2="75.50" y1="242.42" y2="242.42" stroke="#3c3c3c" stroke-width="1"/>
<line x1="72.20" x2="75.50" y1="270.78" y2="270.78" stroke="#3c3c3c" stroke-width="1"/>
<line x1="72.20" x2="75.50" y1="299.14" y2="299.14" stroke="#3c3c3c" stroke-width="1"/>
<line x1="72.20" x2="75.50" y1="327.50" y2="327.50" stroke="#3c3c3c" stroke-width="1"/>
<rect x="225.60" y="1.50" width="149.72" height="326.00" fill="none" stroke="#3c3c3c" stroke-width="1"/>
<line x1="222.30" x2="225.60" y1="43.90" y2="43.90" stroke="#3c3c3c" stroke-width="1"/>
<line x1="222.30" x2="225.60" y1="72.26" y2="72.26" stroke="#3c3c3c" stroke-width="1"/>
<line x1="222.30" x2="225.60" y1="100.62" y2="100.62" stroke="#3c3c3c" stroke-width="1"/>
<line x1="222.30" x2="225.60" y1="128.98" y2="128.98" stroke="#3c3c3c" stroke-width="1"/>
<line x1="222.30" x2="225.60" y1="157.34" y2="157.34" stroke="#3c3c3c" stroke-width="1"/>
<line x1="222.30" x2="225.60" y1="185.70" y2="185.70" stroke="#3c3c3c" stroke-width="1"/>
<line x1="222.30" x2="225.60" y1="214.06" y2="214.06" stroke="#3c3c3c" stroke-width="1"/>
<line x1="222.30" x2="225.60" y1="242.42" y2="242.42" stroke="#3c3c3c" stroke-width="1"/>
<line x1="222.30" x2="225.60" y1="270.78" y2="270.78" stroke="#3c3c3c" stroke-width="1"/>
<line x1="222.30" x2="225.60" y1="299.14" y2="299.14" stroke="#3c3c3c" stroke-width="1"/>
<line x1="222.30" x2="225.60" y1="327.50" y2="327.50" stroke="#3c3c3c" stroke-width="1"/>
<line x1="20.16" x2="20.16" y1="327.50" y2="330.80" stroke="#3c3c3c" stroke-width="1"/>
<text x="20.16" y="342.3" font-family="DejaVu Sans, sans-serif" font-weight="bold" font-size="11.2" text-anchor="middle">600</text>
<line x1="59.56" x2="59.56" y1="327.50" y2="330.80" stroke="#3c3c3c" stroke-width="1"/>
<text x="59.56" y="342.3" font-family="DejaVu Sans, sans-serif" font-weight="bold" font-size="11.2" text-anchor="middle">650</text>
<line x1="91.26" x2="91.26" y1="327.50" y2="330.80" stroke="#3c3c3c" stroke-width="1"/>
<text x="91.26" y="342.3" font-family="DejaVu Sans, sans-serif" font-weight="bold" font-size="11.2" text-anchor="middle">1200</text>
<line x1="130.66" x2="130.66" y1="327.50" y2="330.80" stroke="#3c3c3c" stroke-width="1"/>
<text x="130.66" y="342.3" font-family="DejaVu Sans, sans-serif" font-weight="bold" font-size="11.2" text-anchor="middle">1250</text>
<line x1="170.06" x2="170.06" y1="327.50" y2="330.80" stroke="#3c3c3c" stroke-width="1"/>
<text x="170.06" y="342.3" font-family="DejaVu Sans, sans-serif" font-weight="bold" font-size="11.2" text-anchor="middle">1300</text>
<line x1="209.46" x2="209.46" y1="327.50" y2="330.80" stroke="#3c3c3c" stroke-width="1"/>
<text x="209.46" y="342.3" font-family="DejaVu Sans, sans-serif" font-weight="bold" font-size="11.2" text-anchor="middle">1350</text>
<line x1="249.24" x2="249.24" y1="327.50" y2="330.80" stroke="#3c3c3c" stroke-width="1"/>
<text x="249.24" y="342.3" font-family="DejaVu Sans, sans-serif" font-weight="bold" font-size="11.2" text-anchor="middle">2150</text>
<line x1="288.64" x2="288.64" y1="327.50" y2="330.80" stroke="#3c3c3c" stroke-width="1"/>
<text x="288.64" y="342.3" font-family="DejaVu Sans, sans-serif" font-weight="bold" font-size="11.2" text-anchor="middle">2200</text>
<line x1="328.04" x2="328.04" y1="327.50" y2="330.80" stroke="#3c3c3c" stroke-width="1"/>
<text x="328.04" y="342.3" font-family="DejaVu Sans, sans-serif" font-weight="bold" font-size="11.2" text-anchor="middle">2250</text>
<line x1="367.44" x2="367.44" y1="327.50" y2="330.80" stroke="#3c3c3c" stroke-width="1"/>
<text x="367.44" y="342.3" font-family="DejaVu Sans, sans-serif" font-weight="bold" font-size="11.2" text-anchor="middle">2300</text>
<text x="5.8" y="16.4" font-family="Liberation Sans, Arial, sans-serif" font-weight="bold" font-size="15.2" stroke="#000" stroke-width="0.6">A</text>
<text x="79.2" y="16.4" font-family="Liberation Sans, Arial, sans-serif" font-weight="bold" font-size="15.2" stroke="#000" stroke-width="0.6">B</text>
<text x="229.0" y="16.4" font-family="Liberation Sans, Arial, sans-serif" font-weight="bold" font-size="15.2" stroke="#000" stroke-width="0.6">C</text>
<text x="5.9" y="29.40" font-family="DejaVu Sans, sans-serif" font-size="7.7" letter-spacing="0.3" fill="#262626">x1</text>
<text x="77.3" y="29.40" font-family="DejaVu Sans, sans-serif" font-size="7.7" letter-spacing="0.3" fill="#262626">x25</text>
<text x="227.5" y="29.40" font-family="DejaVu Sans, sans-serif" font-size="7.7" letter-spacing="0.3" fill="#262626">x86</text>
<text x="227.6" y="41.00" font-family="DejaVu Sans, sans-serif" font-weight="bold" font-size="7.9" fill="#000"><tspan font-style="italic">ω</tspan><tspan x="233.6" font-size="7">+</tspan><tspan x="239.3">18</tspan></text>
<text x="373.3" y="38.70" font-family="DejaVu Sans, sans-serif" font-weight="bold" font-size="10" text-anchor="end">Liquid</text>
<text x="5.9" y="57.76" font-family="DejaVu Sans, sans-serif" font-size="7.7" letter-spacing="0.3" fill="#262626">x1</text>
<text x="77.3" y="57.76" font-family="DejaVu Sans, sans-serif" font-size="7.7" letter-spacing="0.3" fill="#262626">x26</text>
<text x="227.5" y="57.76" font-family="DejaVu Sans, sans-serif" font-size="7.7" letter-spacing="0.3" fill="#262626">x89</text>
<text x="227.6" y="69.36" font-family="DejaVu Sans, sans-serif" font-weight="bold" font-size="7.9" fill="#000"><tspan font-style="italic">ω</tspan><tspan x="233.6" font-size="7">+</tspan><tspan x="239.3">17</tspan></text>
<text x="373.3" y="67.06" font-family="DejaVu Sans, sans-serif" font-weight="bold" font-size="10" text-anchor="end">SCF</text>
<text x="5.9" y="86.12" font-family="DejaVu Sans, sans-serif" font-size="7.7" letter-spacing="0.3" fill="#262626">x1</text>
<text x="77.3" y="86.12" font-family="DejaVu Sans, sans-serif" font-size="7.7" letter-spacing="0.3" fill="#262626">x35</text>
<text x="227.5" y="86.12" font-family="DejaVu Sans, sans-serif" font-size="7.7" letter-spacing="0.3" fill="#262626">x85</text>
<text x="227.6" y="97.72" font-family="DejaVu Sans, sans-serif" font-weight="bold" font-size="7.9" fill="#000"><tspan font-style="italic">ω</tspan><tspan x="233.6" font-size="7">+</tspan><tspan x="239.3">17</tspan></text>
<text x="373.3" y="95.42" font-family="DejaVu Sans, sans-serif" font-weight="bold" font-size="10" text-anchor="end">SCF</text>
<text x="5.9" y="114.48" font-family="DejaVu Sans, sans-serif" font-size="7.7" letter-spacing="0.3" fill="#262626">x1</text>
<text x="77.3" y="114.48" font-family="DejaVu Sans, sans-serif" font-size="7.7" letter-spacing="0.3" fill="#262626">x32</text>
<text x="227.5" y="114.48" font-family="DejaVu Sans, sans-serif" font-size="7.7" letter-spacing="0.3" fill="#262626">x56</text>
<text x="227.6" y="126.08" font-family="DejaVu Sans, sans-serif" font-weight="bold" font-size="7.9" fill="#000"><tspan font-style="italic">ω</tspan><tspan x="233.6" font-size="7">+</tspan><tspan x="239.3">15</tspan></text>
<text x="373.3" y="123.78" font-family="DejaVu Sans, sans-serif" font-weight="bold" font-size="10" text-anchor="end">SCF</text>
<text x="5.9" y="142.84" font-family="DejaVu Sans, sans-serif" font-size="7.7" letter-spacing="0.3" fill="#262626">x1</text>
<text x="77.3" y="142.84" font-family="DejaVu Sans, sans-serif" font-size="7.7" letter-spacing="0.3" fill="#262626">x29</text>
<text x="227.5" y="142.84" font-family="DejaVu Sans, sans-serif" font-size="7.7" letter-spacing="0.3" fill="#262626">x108</text>
<text x="227.6" y="154.44" font-family="DejaVu Sans, sans-serif" font-weight="bold" font-size="7.9" fill="#000"><tspan font-style="italic">ω</tspan><tspan x="233.6" font-size="7">+</tspan><tspan x="239.3">23</tspan></text>
<text x="373.3" y="152.14" font-family="DejaVu Sans, sans-serif" font-weight="bold" font-size="10" text-anchor="end">SCF</text>
<text x="5.9" y="171.20" font-family="DejaVu Sans, sans-serif" font-size="7.7" letter-spacing="0.3" fill="#262626">x1</text>
<text x="77.3" y="171.20" font-family="DejaVu Sans, sans-serif" font-size="7.7" letter-spacing="0.3" fill="#262626">x34</text>
<text x="227.5" y="171.20" font-family="DejaVu Sans, sans-serif" font-size="7.7" letter-spacing="0.3" fill="#262626">x96</text>
<text x="227.6" y="182.80" font-family="DejaVu Sans, sans-serif" font-weight="bold" font-size="7.9" fill="#000"><tspan font-style="italic">ω</tspan><tspan x="233.6" font-size="7">+</tspan><tspan x="239.3">20</tspan></text>
<text x="373.3" y="180.50" font-family="DejaVu Sans, sans-serif" font-weight="bold" font-size="10" text-anchor="end">SCF</text>
<text x="5.9" y="199.56" font-family="DejaVu Sans, sans-serif" font-size="7.7" letter-spacing="0.3" fill="#262626">x1</text>
<text x="77.3" y="199.56" font-family="DejaVu Sans, sans-serif" font-size="7.7" letter-spacing="0.3" fill="#262626">x34</text>
<text x="227.5" y="199.56" font-family="DejaVu Sans, sans-serif" font-size="7.7" letter-spacing="0.3" fill="#262626">x235</text>
<text x="227.6" y="211.16" font-family="DejaVu Sans, sans-serif" font-weight="bold" font-size="7.9" fill="#000"><tspan font-style="italic">ω</tspan><tspan x="233.6" font-size="7">+</tspan><tspan x="239.3">25</tspan></text>
<text x="373.3" y="208.86" font-family="DejaVu Sans, sans-serif" font-weight="bold" font-size="10" text-anchor="end">SCF</text>
<text x="5.9" y="227.92" font-family="DejaVu Sans, sans-serif" font-size="7.7" letter-spacing="0.3" fill="#262626">x1</text>
<text x="77.3" y="227.92" font-family="DejaVu Sans, sans-serif" font-size="7.7" letter-spacing="0.3" fill="#262626">x65</text>
<text x="227.5" y="227.92" font-family="DejaVu Sans, sans-serif" font-size="7.7" letter-spacing="0.3" fill="#262626">x35</text>
<text x="227.6" y="239.52" font-family="DejaVu Sans, sans-serif" font-weight="bold" font-size="7.9" fill="#000"><tspan font-style="italic">ω</tspan><tspan x="233.6" font-size="7">+</tspan><tspan x="239.3">8</tspan></text>
<text x="373.3" y="237.22" font-family="DejaVu Sans, sans-serif" font-weight="bold" font-size="10" text-anchor="end">Gas</text>
<text x="5.9" y="256.28" font-family="DejaVu Sans, sans-serif" font-size="7.7" letter-spacing="0.3" fill="#262626">x1</text>
<text x="77.3" y="256.28" font-family="DejaVu Sans, sans-serif" font-size="7.7" letter-spacing="0.3" fill="#262626">x77</text>
<text x="227.5" y="256.28" font-family="DejaVu Sans, sans-serif" font-size="7.7" letter-spacing="0.3" fill="#262626">x129</text>
<text x="227.6" y="267.88" font-family="DejaVu Sans, sans-serif" font-weight="bold" font-size="7.9" fill="#000"><tspan font-style="italic">ω</tspan><tspan x="233.6" font-size="7">+</tspan><tspan x="239.3">27</tspan></text>
<text x="373.3" y="265.58" font-family="DejaVu Sans, sans-serif" font-weight="bold" font-size="10" text-anchor="end">Gas</text>
<text x="5.9" y="284.64" font-family="DejaVu Sans, sans-serif" font-size="7.7" letter-spacing="0.3" fill="#262626">x1</text>
<text x="77.3" y="284.64" font-family="DejaVu Sans, sans-serif" font-size="7.7" letter-spacing="0.3" fill="#262626">x56</text>
<text x="227.5" y="284.64" font-family="DejaVu Sans, sans-serif" font-size="7.7" letter-spacing="0.3" fill="#262626">x67</text>
<text x="227.6" y="296.24" font-family="DejaVu Sans, sans-serif" font-weight="bold" font-size="7.9" fill="#000"><tspan font-style="italic">ω</tspan><tspan x="233.6" font-size="7">+</tspan><tspan x="239.3">19</tspan></text>
<text x="373.3" y="293.94" font-family="DejaVu Sans, sans-serif" font-weight="bold" font-size="10" text-anchor="end">Gas</text>
<text x="5.9" y="313.00" font-family="DejaVu Sans, sans-serif" font-size="7.7" letter-spacing="0.3" fill="#262626">x1</text>
<text x="77.3" y="313.00" font-family="DejaVu Sans, sans-serif" font-size="7.7" letter-spacing="0.3" fill="#262626">x36</text>
<text x="227.5" y="313.00" font-family="DejaVu Sans, sans-serif" font-size="7.7" letter-spacing="0.3" fill="#262626">x75</text>
<text x="227.6" y="324.60" font-family="DejaVu Sans, sans-serif" font-weight="bold" font-size="7.9" fill="#000"><tspan font-style="italic">ω</tspan><tspan x="233.6" font-size="7">+</tspan><tspan x="239.3">19</tspan></text>
<text x="373.3" y="322.30" font-family="DejaVu Sans, sans-serif" font-weight="bold" font-size="10" text-anchor="end">Gas</text>
<text x="223.3" y="374.2" font-family="DejaVu Sans, sans-serif" font-weight="bold" font-size="15.4" text-anchor="middle">Frequency <tspan font-style="italic">ω</tspan> (cm<tspan dy="-5.5" font-size="10.5">−1</tspan><tspan dy="5.5">)</tspan></text>
<rect x="383.7" y="72.1" width="134.7" height="238.9" rx="2.5" fill="#fff" stroke="#d0d0d0" stroke-width="1"/>
<text y="87.9" font-family="DejaVu Sans, sans-serif" font-weight="bold" font-size="12.9" stroke="#000" stroke-width="0.25"><tspan x="388.6" font-style="italic">c</tspan><tspan x="400.6">(M)</tspan><tspan x="430.6">of</tspan><tspan x="450.3" textLength="15.2" lengthAdjust="spacingAndGlyphs">SF</tspan><tspan x="468.4" y="89.6" font-size="8.3">6</tspan><tspan x="480.6" y="87.9">[</tspan><tspan x="485.4" font-style="italic">ρ</tspan><tspan x="497.4">*</tspan><tspan x="508.6">]</tspan></text>
<line x1="390.6" x2="418" y1="103.50" y2="103.50" stroke="#a6a6a6" stroke-width="1.35"/>
<text x="427.9" y="108.20" font-family="DejaVu Sans, sans-serif" font-weight="bold" font-size="13" stroke="#000" stroke-width="0.25">9.47 [1.87]</text>
<line x1="390.6" x2="418" y1="123.50" y2="123.50" stroke="#356b20" stroke-width="1.35"/>
<text x="427.9" y="127.70" font-family="DejaVu Sans, sans-serif" font-weight="bold" font-size="13" stroke="#000" stroke-width="0.25">7.65 [1.51]</text>
<line x1="390.6" x2="418" y1="142.50" y2="142.50" stroke="#7d1111" stroke-width="1.35"/>
<text x="427.9" y="147.20" font-family="DejaVu Sans, sans-serif" font-weight="bold" font-size="13" stroke="#000" stroke-width="0.25">6.89 [1.36]</text>
<line x1="390.6" x2="418" y1="162.50" y2="162.50" stroke="#10107c" stroke-width="1.35"/>
<text x="427.9" y="166.70" font-family="DejaVu Sans, sans-serif" font-weight="bold" font-size="13" stroke="#000" stroke-width="0.25">5.93 [1.17]</text>
<line x1="390.6" x2="418" y1="181.50" y2="181.50" stroke="#8c2a2a" stroke-width="1.35"/>
<text x="427.9" y="186.20" font-family="DejaVu Sans, sans-serif" font-weight="bold" font-size="13" stroke="#000" stroke-width="0.25">5.02 [0.99]</text>
<line x1="390.6" x2="418" y1="201.50" y2="201.50" stroke="#dd1fdd" stroke-width="1.35"/>
<text x="427.9" y="205.70" font-family="DejaVu Sans, sans-serif" font-weight="bold" font-size="13" stroke="#000" stroke-width="0.25">4.36 [0.86]</text>
<line x1="390.6" x2="418" y1="220.50" y2="220.50" stroke="#e9a539" stroke-width="1.35"/>
<text x="427.9" y="225.20" font-family="DejaVu Sans, sans-serif" font-weight="bold" font-size="13" stroke="#000" stroke-width="0.25">3.39 [0.67]</text>
<line x1="390.6" x2="418" y1="240.50" y2="240.50" stroke="#5e0f73" stroke-width="1.35"/>
<text x="427.9" y="244.70" font-family="DejaVu Sans, sans-serif" font-weight="bold" font-size="13" stroke="#000" stroke-width="0.25">1.52 [0.30]</text>
<line x1="390.6" x2="418" y1="259.50" y2="259.50" stroke="#4a8a25" stroke-width="1.35"/>
<text x="427.9" y="264.20" font-family="DejaVu Sans, sans-serif" font-weight="bold" font-size="13" stroke="#000" stroke-width="0.25">0.81 [0.16]</text>
<line x1="390.6" x2="418" y1="279.50" y2="279.50" stroke="#d41f24" stroke-width="1.35"/>
<text x="427.9" y="283.70" font-family="DejaVu Sans, sans-serif" font-weight="bold" font-size="13" stroke="#000" stroke-width="0.25">0.51 [0.10]</text>
<line x1="390.6" x2="418" y1="298.50" y2="298.50" stroke="#1a1ad6" stroke-width="1.35"/>
<text x="427.9" y="303.20" font-family="DejaVu Sans, sans-serif" font-weight="bold" font-size="13" stroke="#000" stroke-width="0.25">0.20 [0.04]</text>
</svg></body></html>
